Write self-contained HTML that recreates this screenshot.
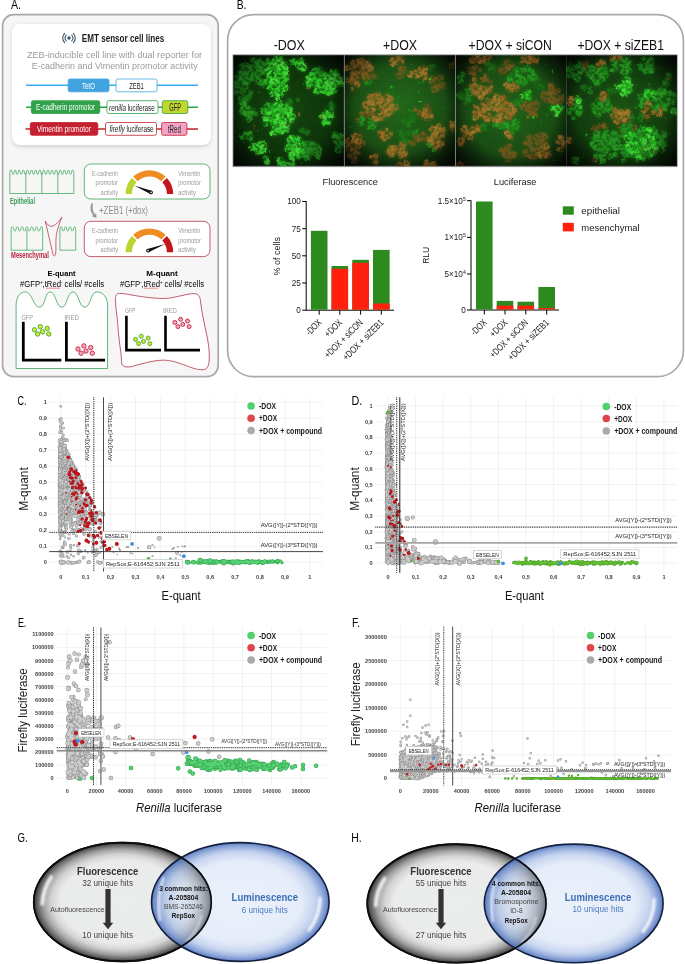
<!DOCTYPE html>
<html lang="en"><head><meta charset="utf-8"><title>EMT sensor cell lines figure</title>
<style>
html,body{margin:0;padding:0;background:#fff;}
svg{display:block;font-family:"Liberation Sans",sans-serif;}
text{white-space:pre;}
</style></head><body>
<svg width="685" height="964" viewBox="0 0 685 964">
<defs>
<filter id="sh" x="-10%" y="-10%" width="120%" height="125%"><feGaussianBlur stdDeviation="2.2"/></filter>

<clipPath id="mclip"><rect width="110.600" height="111.300"/></clipPath>
<filter id="mb" x="0" y="0" width="100%" height="100%" color-interpolation-filters="sRGB">
<feTurbulence type="fractalNoise" baseFrequency="0.3" numOctaves="2" seed="7" result="n"/>
<feDisplacementMap in="SourceGraphic" in2="n" scale="4" xChannelSelector="R" yChannelSelector="G" result="d"/>
<feGaussianBlur in="d" stdDeviation="0.45" result="b"/>
<feColorMatrix in="n" type="matrix" values="0 0 0 0 0 0 0 0 0 0 0 0 0 0 0 2.7 0 0 0 -0.62" result="m"/>
<feComposite in="b" in2="m" operator="in" result="t"/>
<feGaussianBlur in="SourceGraphic" stdDeviation="2.2" result="g0"/>
<feColorMatrix in="g0" type="matrix" values="1 0 0 0 0 0 1 0 0 0 0 0 1 0 0 0 0 0 0.3 0" result="g"/>
<feMerge><feMergeNode in="g"/><feMergeNode in="t"/></feMerge>
</filter>
<radialGradient id="mvig" cx="50%" cy="50%" r="72%"><stop offset="0.55" stop-color="#000" stop-opacity="0"/><stop offset="0.85" stop-color="#000" stop-opacity="0.45"/><stop offset="1" stop-color="#000" stop-opacity="0.8"/></radialGradient>
<radialGradient id="mbg0" cx="50%" cy="50%" r="70%"><stop offset="0" stop-color="#15450f"/><stop offset="0.6" stop-color="#0d320a"/><stop offset="1" stop-color="#051005"/></radialGradient>
<radialGradient id="mbg1" cx="50%" cy="45%" r="70%"><stop offset="0" stop-color="#23681b"/><stop offset="0.6" stop-color="#1a4e14"/><stop offset="1" stop-color="#061306"/></radialGradient>
<radialGradient id="mbg2" cx="50%" cy="50%" r="70%"><stop offset="0" stop-color="#216219"/><stop offset="0.6" stop-color="#194b13"/><stop offset="1" stop-color="#061306"/></radialGradient>
<radialGradient id="mbg3" cx="50%" cy="50%" r="70%"><stop offset="0" stop-color="#1b5414"/><stop offset="0.6" stop-color="#123c0e"/><stop offset="1" stop-color="#051005"/></radialGradient>
<filter id="vb" x="-30%" y="-30%" width="160%" height="160%"><feGaussianBlur stdDeviation="1.3"/></filter>
<radialGradient id="vg" cx="50%" cy="50%" r="50%"><stop offset="0" stop-color="#ebecec"/><stop offset="0.7" stop-color="#eaebeb"/><stop offset="0.8" stop-color="#d4d4d4"/><stop offset="0.89" stop-color="#a2a2a2"/><stop offset="0.96" stop-color="#636363"/><stop offset="1" stop-color="#303030"/></radialGradient>
<radialGradient id="vbl" cx="50%" cy="50%" r="50%"><stop offset="0" stop-color="#cddcf5" stop-opacity="0.4"/><stop offset="0.68" stop-color="#c6d6f3" stop-opacity="0.45"/><stop offset="0.84" stop-color="#a3b9e4" stop-opacity="0.62"/><stop offset="0.94" stop-color="#7090d0" stop-opacity="0.8"/><stop offset="1" stop-color="#4d6fb8" stop-opacity="0.9"/></radialGradient>
</defs>
<rect width="685" height="964" fill="#fff"/>
<g id="panelA">
<text x="11.0" y="9.3" font-size="12" textLength="10.0" lengthAdjust="spacingAndGlyphs">A.</text>
<rect x="2.6" y="14.6" width="215.6" height="362" rx="11" fill="#f6f6f6" stroke="#a9a9a9" stroke-width="1.7"/>
<rect x="12.5" y="25.5" width="198" height="121" rx="8" fill="#999" opacity="0.45" filter="url(#sh)"/>
<rect x="12" y="24" width="199" height="121" rx="8" fill="#fff"/>
<g fill="none" stroke="#3f566c" stroke-width="1.1" stroke-linecap="round"><circle cx="69" cy="38" r="1.7" fill="#3f566c" stroke="none"/><path d="M66.3 35.1A3.9 3.9 0 0 0 66.3 40.9"/><path d="M71.7 35.1A3.9 3.9 0 0 1 71.7 40.9"/><path d="M64.7 33.4A6.3 6.3 0 0 0 64.7 42.6"/><path d="M73.3 33.4A6.3 6.3 0 0 1 73.3 42.6"/></g>
<text x="81.8" y="42.2" font-size="11.4" fill="#1a1a1a" font-weight="bold" textLength="82.4" lengthAdjust="spacingAndGlyphs">EMT sensor cell lines</text>
<text x="27.0" y="57.6" font-size="8.8" fill="#9a9a9a" textLength="175.0" lengthAdjust="spacingAndGlyphs">ZEB-inducible cell line with dual reporter for</text>
<text x="31.7" y="68.8" font-size="8.8" fill="#9a9a9a" textLength="166.0" lengthAdjust="spacingAndGlyphs">E-cadherin and Vimentin promotor activity</text>
<path d="M26 85.3H198" stroke="#37aee6" stroke-width="1.5"/>
<rect x="68.2" y="79" width="40.8" height="12.8" rx="1.8" fill="#41a4e0" stroke="#41a4e0" stroke-width="0.8"/>
<rect x="116" y="79" width="41" height="12.8" rx="1.8" fill="#fff" stroke="#41a4e0" stroke-width="0.8"/>
<text x="88.6" y="88.6" font-size="8.8" text-anchor="middle" fill="#fff" textLength="13.0" lengthAdjust="spacingAndGlyphs">TetO</text>
<text x="136.5" y="88.6" font-size="8.8" text-anchor="middle" fill="#222" textLength="14.5" lengthAdjust="spacingAndGlyphs">ZEB1</text>
<path d="M26 107.2H198" stroke="#2fa24a" stroke-width="1.5"/>
<rect x="31.3" y="100.7" width="68.5" height="12.8" rx="1.8" fill="#2fa24a" stroke="#2fa24a" stroke-width="0.8"/>
<rect x="107" y="100.7" width="51" height="12.8" rx="1.8" fill="#fff" stroke="#2fa24a" stroke-width="0.8"/>
<rect x="162.3" y="100.7" width="25.5" height="12.8" rx="1.8" fill="#c3d82c" stroke="#2fa24a" stroke-width="0.8"/>
<text x="65.5" y="110.3" font-size="8.8" text-anchor="middle" fill="#fff" textLength="59.0" lengthAdjust="spacingAndGlyphs">E-cadherin promotor</text>
<text x="109.1" y="110.500" font-size="9.6" fill="#222" textLength="45.6" lengthAdjust="spacingAndGlyphs"><tspan font-style="italic">renilla</tspan> luciferase</text>
<text x="175.2" y="110.7" font-size="10.2" text-anchor="middle" fill="#222" textLength="11.8" lengthAdjust="spacingAndGlyphs">GFP</text>
<path d="M25.5 129H198" stroke="#c4202f" stroke-width="1.5"/>
<rect x="30.3" y="122.5" width="67.5" height="12.8" rx="1.8" fill="#c4202f" stroke="#c4202f" stroke-width="0.8"/>
<rect x="105.5" y="122.5" width="51" height="12.8" rx="1.8" fill="#fff" stroke="#c4202f" stroke-width="0.8"/>
<rect x="161.6" y="122.5" width="25.3" height="12.8" rx="1.8" fill="#f2a3c6" stroke="#c4202f" stroke-width="0.8"/>
<text x="64.0" y="132.1" font-size="8.8" text-anchor="middle" fill="#fff" textLength="54.0" lengthAdjust="spacingAndGlyphs">Vimentin promotor</text>
<text x="109.6" y="132.300" font-size="9.6" fill="#222" textLength="44" lengthAdjust="spacingAndGlyphs"><tspan font-style="italic">firefly</tspan> luciferase</text>
<text x="174.4" y="132.5" font-size="10.2" text-anchor="middle" fill="#222" textLength="13.0" lengthAdjust="spacingAndGlyphs">tRed</text>
<path d="M9.8 193.5V172.7Q9.8 169.9 11.0 169.9C12.0 169.9 12.0 174.5 13.1 174.5C14.1 174.5 14.1 169.9 15.1 169.9C16.1 169.9 16.1 174.5 17.2 174.5C18.2 174.5 18.2 169.9 19.2 169.9C20.2 169.9 20.2 174.5 21.3 174.5C22.3 174.5 22.3 169.9 23.3 169.9C24.3 169.9 24.3 174.5 25.4 174.5C26.4 174.5 26.4 169.9 27.4 169.9C28.5 169.9 28.5 174.5 29.5 174.5C30.5 174.5 30.5 169.9 31.5 169.9C32.6 169.9 32.6 174.5 33.6 174.5C34.6 174.5 34.6 169.9 35.6 169.9C36.7 169.9 36.7 174.5 37.7 174.5C38.7 174.5 38.7 169.9 39.7 169.9C40.8 169.9 40.8 174.5 41.8 174.5C42.8 174.5 42.8 169.9 43.9 169.9C44.9 169.9 44.9 174.5 45.9 174.5C46.9 174.5 46.9 169.9 48.0 169.9C49.0 169.9 49.0 174.5 50.0 174.5C51.0 174.5 51.0 169.9 52.1 169.9C53.1 169.9 53.1 174.5 54.1 174.5C55.1 174.5 55.1 169.9 56.2 169.9C57.2 169.9 57.2 174.5 58.2 174.5C59.3 174.5 59.3 169.9 60.3 169.9C61.3 169.9 61.3 174.5 62.3 174.5C63.4 174.5 63.4 169.9 64.4 169.9C65.4 169.9 65.4 174.5 66.4 174.5C67.5 174.5 67.5 169.9 68.5 169.9C69.5 169.9 69.5 174.5 70.5 174.5C71.6 174.5 71.6 169.9 72.6 169.9Q73.8 169.9 73.8 172.7V193.5ZM25.8 172.7V193.5M41.8 172.7V193.5M57.8 172.7V193.5" fill="none" stroke="#3aa657" stroke-width="0.75" stroke-linejoin="round"/>
<text x="9.9" y="203.8" font-size="9" fill="#3a9e58" font-weight="bold" textLength="25.2" lengthAdjust="spacingAndGlyphs">Epithelial</text>
<rect x="84.3" y="164" width="125.7" height="35" rx="6.5" fill="#fff" stroke="#3aa657" stroke-width="0.8"/>
<rect x="84.3" y="221.3" width="125.7" height="35.3" rx="6.5" fill="#fff" stroke="#b5344a" stroke-width="0.8"/>
<text x="118.0" y="175.8" font-size="7.6" text-anchor="end" fill="#9a9a9a" textLength="26.0" lengthAdjust="spacingAndGlyphs">E-cadherin</text>
<text x="178.3" y="175.8" font-size="7.6" fill="#9a9a9a" textLength="22.0" lengthAdjust="spacingAndGlyphs">Vimentin</text>
<text x="118.0" y="233.1" font-size="7.6" text-anchor="end" fill="#9a9a9a" textLength="26.0" lengthAdjust="spacingAndGlyphs">E-cadherin</text>
<text x="178.3" y="233.1" font-size="7.6" fill="#9a9a9a" textLength="22.0" lengthAdjust="spacingAndGlyphs">Vimentin</text>
<text x="118.0" y="185.2" font-size="7.6" text-anchor="end" fill="#9a9a9a" textLength="22.5" lengthAdjust="spacingAndGlyphs">promotor</text>
<text x="178.3" y="185.2" font-size="7.6" fill="#9a9a9a" textLength="22.5" lengthAdjust="spacingAndGlyphs">promotor</text>
<text x="118.0" y="242.5" font-size="7.6" text-anchor="end" fill="#9a9a9a" textLength="22.5" lengthAdjust="spacingAndGlyphs">promotor</text>
<text x="178.3" y="242.5" font-size="7.6" fill="#9a9a9a" textLength="22.5" lengthAdjust="spacingAndGlyphs">promotor</text>
<text x="118.0" y="194.6" font-size="7.6" text-anchor="end" fill="#9a9a9a" textLength="17.5" lengthAdjust="spacingAndGlyphs">activity</text>
<text x="178.3" y="194.6" font-size="7.6" fill="#9a9a9a" textLength="17.5" lengthAdjust="spacingAndGlyphs">activity</text>
<text x="118.0" y="251.9" font-size="7.6" text-anchor="end" fill="#9a9a9a" textLength="17.5" lengthAdjust="spacingAndGlyphs">activity</text>
<text x="178.3" y="251.9" font-size="7.6" fill="#9a9a9a" textLength="17.5" lengthAdjust="spacingAndGlyphs">activity</text>
<path d="M125.6 194.0A23.8 23.8 0 0 1 131.9 177.9L136.5 182.2A17.5 17.5 0 0 0 131.9 194.0Z" fill="#b9d532"/><path d="M133.2 176.6A23.8 23.8 0 0 1 165.6 176.6L161.3 181.2A17.5 17.5 0 0 0 137.5 181.2Z" fill="#ef8c22"/><path d="M166.9 177.9A23.8 23.8 0 0 1 173.2 194.0L166.9 194.0A17.5 17.5 0 0 0 162.3 182.2Z" fill="#c4161c"/><path d="M134.1 185.5L151.6 190.8L150.4 194.0Z" fill="#111"/><circle cx="151.0" cy="192.4" r="1.9" fill="#111"/><circle cx="151.0" cy="192.4" r="0.8" fill="#fff"/>
<path d="M91.3 203.500C89.800 208 90.300 212 93.200 215L91.8 216.2L96.5 218L96.2 213.200L94.8 214.2C92.800 211.500 92.300 208 93 203.500Z" fill="#9a9a9a"/>
<text x="99.0" y="214.2" font-size="10" fill="#8f8f8f" textLength="49.0" lengthAdjust="spacingAndGlyphs">+ZEB1 (+dox)</text>
<path d="M125.6 252.2A23.8 23.8 0 0 1 131.9 236.1L136.5 240.4A17.5 17.5 0 0 0 131.9 252.2Z" fill="#b9d532"/><path d="M133.2 234.8A23.8 23.8 0 0 1 165.6 234.8L161.3 239.4A17.5 17.5 0 0 0 137.5 239.4Z" fill="#ef8c22"/><path d="M166.9 236.1A23.8 23.8 0 0 1 173.2 252.2L166.9 252.2A17.5 17.5 0 0 0 162.3 240.4Z" fill="#c4161c"/><path d="M165.1 244.1L148.6 252.2L147.4 249.0Z" fill="#111"/><circle cx="148.0" cy="250.6" r="1.9" fill="#111"/><circle cx="148.0" cy="250.6" r="0.8" fill="#fff"/>
<path d="M11.1 250.2V229.4Q11.1 226.6 12.5 226.6C13.7 226.6 13.7 231.2 14.9 231.2C16.1 231.2 16.1 226.6 17.3 226.6C18.5 226.6 18.5 231.2 19.7 231.2C20.9 231.2 20.9 226.6 22.1 226.6C23.3 226.6 23.3 231.2 24.5 231.2C25.7 231.2 25.7 226.6 26.9 226.6C28.1 226.6 28.1 231.2 29.3 231.2C30.5 231.2 30.5 226.6 31.7 226.6C32.9 226.6 32.9 231.2 34.1 231.2C35.3 231.2 35.3 226.6 36.5 226.6C37.7 226.6 37.7 231.2 38.9 231.2C40.1 231.2 40.1 226.6 41.3 226.6Q42.7 226.6 42.7 229.4V250.2ZM26.9 229.4V250.2" fill="none" stroke="#3aa657" stroke-width="0.75" stroke-linejoin="round"/>
<path d="M59.9 250.2V229.4Q59.9 226.6 61.1 226.6C62.2 226.6 62.2 231.2 63.3 231.2C64.4 231.2 64.4 226.6 65.6 226.6C66.7 226.6 66.7 231.2 67.8 231.2C68.9 231.2 68.9 226.6 70.0 226.6C71.2 226.6 71.2 231.2 72.3 231.2C73.4 231.2 73.4 226.6 74.5 226.6Q75.7 226.6 75.7 229.4V250.2Z" fill="none" stroke="#3aa657" stroke-width="0.75" stroke-linejoin="round"/>
<path d="M45.3 221C46.5 224 49 226.5 51.7 226.3C55 226 59 221.500 61.9 217.2C59.5 223 57.500 228.500 56.4 234.7C55.300 242 56.500 249 55.5 254.6C55 256.200 53.500 256.200 53 254.500C50.500 243.500 47.800 232.500 45.3 221Z" fill="none" stroke="#b5344a" stroke-width="0.75" stroke-linejoin="round"/>
<text x="11.1" y="258.1" font-size="9" fill="#b5233a" font-weight="bold" textLength="37.7" lengthAdjust="spacingAndGlyphs">Mesenchymal</text>
<text x="61.5" y="275.6" font-size="7.6" text-anchor="middle" font-weight="bold" textLength="28.0" lengthAdjust="spacingAndGlyphs">E-quant</text>
<text x="20" y="287" font-size="8.3" textLength="84" lengthAdjust="spacingAndGlyphs">#GFP<tspan font-size="4.5" dy="-2.8">+</tspan><tspan dy="2.8">,tRed</tspan><tspan font-size="4.5" dy="-2.8">-</tspan><tspan dy="2.8"> cells/ #cells</tspan></text>
<path d="M46 288.6l1 -.8l1 .8l1 -.8l1 .8l1 -.8l1 .8l1 -.8l1 .8l1 -.8l1 .8l1 -.8l1 .8l1 -.8l1 .8" fill="none" stroke="#e02020" stroke-width="0.5"/>
<text x="162.0" y="275.6" font-size="7.6" text-anchor="middle" font-weight="bold" textLength="31.5" lengthAdjust="spacingAndGlyphs">M-quant</text>
<text x="120" y="287" font-size="8.3" textLength="84" lengthAdjust="spacingAndGlyphs">#GFP<tspan font-size="4.5" dy="-2.8">-</tspan><tspan dy="2.8">,tRed</tspan><tspan font-size="4.5" dy="-2.8">+</tspan><tspan dy="2.8"> cells/ #cells</tspan></text>
<path d="M144 288.6l1 -.8l1 .8l1 -.8l1 .8l1 -.8l1 .8l1 -.8l1 .8l1 -.8l1 .8l1 -.8l1 .8l1 -.8l1 .8" fill="none" stroke="#e02020" stroke-width="0.5"/>
<path d="M16.1 368.5V305.5C16.1 298 19.5 291.9 25.3 291.9C32.6 291.9 32.6 307.2 39.9 307.2C45.0 307.2 45.0 291.9 50.2 291.9C56.0 291.9 56.0 307.2 61.8 307.2C67.3 307.2 67.3 291.9 72.8 291.9C78.8 291.9 78.8 307.2 84.8 307.2C90.7 307.2 90.7 291.9 96.6 291.9C103.500 291.9 107.6 298 107.6 305.5V368.5Z" fill="#fff" stroke="#3aa657" stroke-width="0.8"/>
<path d="M23.3 321.8V360.1H61.3M66.4 321.8V360.1H105" fill="none" stroke="#000" stroke-width="2.8"/>
<text x="21.5" y="319.5" font-size="7.4" fill="#9a9a9a" textLength="11.5" lengthAdjust="spacingAndGlyphs">GFP</text>
<text x="64.4" y="319.5" font-size="7.4" fill="#9a9a9a" textLength="14.6" lengthAdjust="spacingAndGlyphs">tRED</text>
<g fill="#cfe83c" stroke="#45a82e" stroke-width="0.9"><circle cx="34.5" cy="329.8" r="2.2"/><circle cx="40.3" cy="326.7" r="2.2"/><circle cx="47.2" cy="328.4" r="2.2"/><circle cx="37.6" cy="334.0" r="2.2"/><circle cx="42.5" cy="331.8" r="2.2"/><circle cx="48.8" cy="334.0" r="2.2"/></g>
<g fill="#f4a6c0" stroke="#c8203c" stroke-width="0.9"><circle cx="78.0" cy="349.0" r="2.2"/><circle cx="83.8" cy="345.9" r="2.2"/><circle cx="90.7" cy="347.6" r="2.2"/><circle cx="81.1" cy="353.2" r="2.2"/><circle cx="86.0" cy="351.0" r="2.2"/><circle cx="92.3" cy="353.2" r="2.2"/></g>
<path d="M115.4 300C115.2 296 116.500 293.4 119.2 293.4C126 293.4 133 295.5 140.7 296.5C148 297.500 156 298.5 163.6 298.5C171.500 298.5 179 296 186.6 294.5C190 293.800 193 293.500 195 293.7C198.500 294 200 296.500 200.4 300.3C201.500 312 204.500 324 206.9 335.6C208.300 343 209.5 350 209.3 357C209.200 361 209 364 208 366.2C207 368.700 205 369.800 202 369.8C196 369.8 190 367 183.6 364.7C177 362.300 170.500 360.1 163.6 360.1C156 360.1 148 362.200 140.7 364C136 365.200 131.500 367.200 126.9 367C123.500 366.800 121.500 365 121.5 361.6C121.500 356.500 120.800 351.500 120 346.3C118.800 338.500 118.200 331 117.7 323.3C117.200 316.500 115.600 308 115.4 300Z" fill="#fff" stroke="#b5344a" stroke-width="0.8"/>
<path d="M126.4 315.7V350.1H161M165.5 315.7V350.1H200" fill="none" stroke="#000" stroke-width="2.6"/>
<text x="125.0" y="313.4" font-size="6.8" fill="#9a9a9a" textLength="10.3" lengthAdjust="spacingAndGlyphs">GFP</text>
<text x="163.3" y="313.4" font-size="6.8" fill="#9a9a9a" textLength="13.4" lengthAdjust="spacingAndGlyphs">tRED</text>
<g fill="#cfe83c" stroke="#45a82e" stroke-width="0.9"><circle cx="135.5" cy="339.4" r="2.0"/><circle cx="141.3" cy="336.3" r="2.0"/><circle cx="148.2" cy="338.0" r="2.0"/><circle cx="138.6" cy="343.6" r="2.0"/><circle cx="143.5" cy="341.4" r="2.0"/><circle cx="149.8" cy="343.6" r="2.0"/></g>
<g fill="#f4a6c0" stroke="#c8203c" stroke-width="0.9"><circle cx="174.8" cy="322.4" r="2.0"/><circle cx="180.6" cy="319.3" r="2.0"/><circle cx="187.5" cy="321.0" r="2.0"/><circle cx="177.9" cy="326.6" r="2.0"/><circle cx="182.8" cy="324.4" r="2.0"/><circle cx="189.1" cy="326.6" r="2.0"/></g>
</g>
<g id="panelB">
<text x="236.7" y="9.3" font-size="12" textLength="9.8" lengthAdjust="spacingAndGlyphs">B.</text>
<rect x="227.6" y="14.6" width="455.800" height="362" rx="26" fill="#fff" stroke="#a9a9a9" stroke-width="1.7"/>
<text x="289.3" y="49.8" font-size="14.6" text-anchor="middle" fill="#111" textLength="31.2" lengthAdjust="spacingAndGlyphs">-DOX</text>
<text x="400.0" y="49.8" font-size="14.6" text-anchor="middle" fill="#111" textLength="34.0" lengthAdjust="spacingAndGlyphs">+DOX</text>
<text x="510.2" y="49.8" font-size="14.6" text-anchor="middle" fill="#111" textLength="83.4" lengthAdjust="spacingAndGlyphs">+DOX + siCON</text>
<text x="620.7" y="49.8" font-size="14.6" text-anchor="middle" fill="#111" textLength="86.6" lengthAdjust="spacingAndGlyphs">+DOX + siZEB1</text>
<rect x="232.6" y="54.4" width="445" height="112.7" fill="#8a8a8a"/>
<g transform="translate(233.3 55.2)" clip-path="url(#mclip)"><rect width="110.6" height="110.6" fill="url(#mbg0)"/><g filter="url(#mb)" opacity="0.84"><g fill="#187016"><circle cx="16.9" cy="40.1" r="2.5"/><circle cx="14.7" cy="44.4" r="2.5"/><circle cx="56.4" cy="45.2" r="2.8"/><circle cx="99.6" cy="52.9" r="2.6"/><circle cx="10.3" cy="23" r="2.5"/><circle cx="7.9" cy="35.1" r="3.5"/><circle cx="97.8" cy="49.6" r="3.2"/><circle cx="56.1" cy="48.1" r="3.4"/><circle cx="8.2" cy="46.7" r="3"/><circle cx="9.2" cy="35.9" r="3.1"/></g><g fill="#1c7a19"><circle cx="67.1" cy="75.7" r="2.1"/><circle cx="64.5" cy="44.7" r="2"/><circle cx="8.8" cy="27.4" r="2.4"/><circle cx="10.8" cy="34.2" r="2.7"/><circle cx="7.2" cy="28.9" r="3"/><circle cx="10.6" cy="30.4" r="1.9"/><circle cx="8.7" cy="42.6" r="3.3"/><circle cx="6.7" cy="31.5" r="3.3"/><circle cx="8.2" cy="42.8" r="2.1"/><circle cx="1.6" cy="33.1" r="2.8"/><circle cx="70.2" cy="74.9" r="3.1"/></g><g fill="#20841d"><circle cx="98.7" cy="53.6" r="2.9"/><circle cx="12.3" cy="27.9" r="2.9"/><circle cx="12.2" cy="44.1" r="2.5"/><circle cx="3.6" cy="32" r="2.5"/><circle cx="3.8" cy="27.5" r="3.3"/><circle cx="16.1" cy="40.4" r="3.1"/><circle cx="17.5" cy="37.6" r="2.5"/><circle cx="2.5" cy="37.1" r="2.5"/><circle cx="13.2" cy="31.8" r="2.2"/><circle cx="55.9" cy="47" r="3.4"/><circle cx="5.2" cy="30.5" r="2.2"/><circle cx="73.9" cy="77.1" r="3.1"/></g><g fill="#1e8c1b"><circle cx="8.8" cy="58.2" r="2.2"/><circle cx="105.1" cy="89.9" r="3"/><circle cx="73" cy="89.4" r="3"/><circle cx="85.6" cy="15" r="3.3"/><circle cx="109.5" cy="88.5" r="3.2"/><circle cx="9" cy="55.8" r="3"/><circle cx="71.3" cy="93.1" r="3.4"/><circle cx="74" cy="88.6" r="3.4"/><circle cx="82.2" cy="24.9" r="2.2"/><circle cx="36.1" cy="57" r="3.4"/><circle cx="28.5" cy="17.4" r="2.7"/><circle cx="39.9" cy="63.6" r="3.4"/><circle cx="17.9" cy="10.6" r="2.3"/><circle cx="35.4" cy="56.1" r="2.1"/><circle cx="24.1" cy="23.1" r="3.1"/><circle cx="23.4" cy="19.4" r="2.1"/><circle cx="73.1" cy="102.6" r="2.9"/><circle cx="11.1" cy="8.8" r="2.6"/><circle cx="89.2" cy="21.7" r="2.6"/><circle cx="86" cy="98.7" r="2.3"/><circle cx="88.1" cy="15.8" r="2.8"/><circle cx="26.3" cy="12.5" r="3"/><circle cx="25.2" cy="24" r="2.8"/><circle cx="27.4" cy="8.5" r="3.4"/><circle cx="106.7" cy="93.3" r="2"/><circle cx="102.1" cy="82.3" r="3.2"/><circle cx="77.9" cy="98.3" r="2.7"/><circle cx="83.6" cy="91" r="2.8"/><circle cx="41.9" cy="60.3" r="2.1"/><circle cx="13.5" cy="17.2" r="2.1"/><circle cx="16.3" cy="57.9" r="3.4"/><circle cx="31.9" cy="15.3" r="3.3"/><circle cx="73.8" cy="101" r="3.1"/><circle cx="87" cy="20.3" r="3.1"/><circle cx="70.6" cy="97.6" r="3.2"/><circle cx="10.1" cy="53.2" r="3.2"/><circle cx="16.5" cy="22.7" r="2.8"/><circle cx="9.9" cy="56" r="2.8"/></g><g fill="#229a1e"><circle cx="34.5" cy="14.2" r="2.3"/><circle cx="81.2" cy="96.8" r="2.8"/><circle cx="9.6" cy="81.8" r="2.9"/><circle cx="13.2" cy="21" r="3.1"/><circle cx="107.3" cy="85.6" r="3.5"/><circle cx="87.6" cy="27" r="2.6"/><circle cx="32.8" cy="51" r="2.4"/><circle cx="11.7" cy="58.2" r="2.2"/><circle cx="22.1" cy="58.9" r="2.3"/><circle cx="103.7" cy="92.8" r="2.4"/><circle cx="37.8" cy="54.2" r="2.2"/><circle cx="8.5" cy="56.4" r="2.6"/><circle cx="16.7" cy="82.7" r="3.3"/><circle cx="84.7" cy="25.8" r="2"/><circle cx="14" cy="22.3" r="3.1"/><circle cx="23.4" cy="13" r="2.9"/><circle cx="11.5" cy="21.2" r="2.1"/><circle cx="32.8" cy="13.9" r="2.9"/><circle cx="15.6" cy="78.3" r="2.2"/><circle cx="11.5" cy="22.5" r="3"/><circle cx="15.3" cy="61.8" r="3"/><circle cx="27.5" cy="15.1" r="3.2"/><circle cx="25.2" cy="14.5" r="2.4"/><circle cx="86.1" cy="14.7" r="2.6"/><circle cx="79.9" cy="95.2" r="3.5"/><circle cx="23.3" cy="9.6" r="3.2"/><circle cx="15.8" cy="83.2" r="2.1"/><circle cx="27.2" cy="8.9" r="2.5"/><circle cx="8.8" cy="52.3" r="2.2"/><circle cx="19.5" cy="4.4" r="2.7"/><circle cx="8.5" cy="10.7" r="3"/><circle cx="10.8" cy="26.8" r="2.7"/><circle cx="13.6" cy="80.2" r="2"/><circle cx="37.9" cy="55.7" r="3.1"/><circle cx="19.8" cy="22.3" r="2.7"/><circle cx="28.2" cy="9.6" r="2.3"/><circle cx="11.9" cy="51.4" r="2.6"/><circle cx="29.5" cy="54.8" r="2.2"/><circle cx="30" cy="11.2" r="2.5"/><circle cx="13.7" cy="26.7" r="3.4"/></g><g fill="#26a022"><circle cx="6.6" cy="22.5" r="3.4"/><circle cx="25.9" cy="5.9" r="3"/><circle cx="84.4" cy="22" r="2.2"/><circle cx="110.2" cy="88.3" r="2.8"/><circle cx="11.1" cy="15.7" r="3.1"/><circle cx="26.7" cy="17.2" r="2.2"/><circle cx="36.6" cy="63.8" r="3.5"/><circle cx="11.4" cy="15.1" r="2.2"/><circle cx="33.9" cy="60.2" r="3.2"/><circle cx="101.2" cy="82.4" r="2.3"/><circle cx="34.3" cy="6.9" r="3.5"/><circle cx="105.3" cy="95.2" r="3.3"/><circle cx="10.6" cy="56.6" r="3.4"/><circle cx="73.3" cy="95.4" r="3.2"/><circle cx="84.5" cy="97.3" r="3.4"/><circle cx="16" cy="56.1" r="2.7"/><circle cx="9" cy="15.8" r="3.1"/><circle cx="78.8" cy="88.7" r="2.6"/><circle cx="41.2" cy="62.9" r="2.9"/><circle cx="30.9" cy="26" r="2.5"/><circle cx="103.3" cy="85.6" r="3.2"/><circle cx="38" cy="50.9" r="2.6"/><circle cx="104.6" cy="92.6" r="2.7"/><circle cx="17.1" cy="77.8" r="2.3"/><circle cx="77.8" cy="94.3" r="3.5"/><circle cx="22.1" cy="16.3" r="2.4"/><circle cx="18.3" cy="15.9" r="2.3"/><circle cx="33.2" cy="13.6" r="1.9"/><circle cx="12.8" cy="78.6" r="2.2"/><circle cx="15.4" cy="15.2" r="2.3"/><circle cx="12.2" cy="18.3" r="3.1"/><circle cx="18.2" cy="23" r="2.9"/><circle cx="80.7" cy="23" r="3.3"/><circle cx="73.4" cy="99.6" r="2.1"/><circle cx="86.8" cy="20" r="2.9"/><circle cx="18.9" cy="58.3" r="2.3"/><circle cx="21.7" cy="20" r="3.3"/><circle cx="80.7" cy="95.4" r="3.2"/><circle cx="35" cy="53.7" r="2.5"/></g><g fill="#2aa826"><circle cx="83.2" cy="18.5" r="2.6"/><circle cx="85" cy="101.5" r="2.6"/><circle cx="11.1" cy="21.9" r="3.3"/><circle cx="12.4" cy="26.6" r="3.4"/><circle cx="9.6" cy="50.3" r="3.1"/><circle cx="35" cy="50.5" r="3.5"/><circle cx="102.1" cy="79.8" r="3.3"/><circle cx="108.1" cy="80.4" r="2.9"/><circle cx="33.8" cy="61.3" r="2.1"/><circle cx="10.7" cy="19.3" r="2.2"/><circle cx="9.2" cy="15.8" r="2"/><circle cx="10.9" cy="24.8" r="2.9"/><circle cx="6.5" cy="17.1" r="2.1"/><circle cx="16.4" cy="11.7" r="3.1"/><circle cx="28.9" cy="27.8" r="3.3"/><circle cx="83.6" cy="26.2" r="2.5"/><circle cx="16.6" cy="64" r="2.7"/><circle cx="18.9" cy="56.7" r="3.4"/><circle cx="29.4" cy="14" r="3.4"/><circle cx="83.7" cy="100.7" r="2.7"/><circle cx="26.4" cy="26.9" r="3.3"/><circle cx="10" cy="50.5" r="3.1"/><circle cx="71.2" cy="88.3" r="2.7"/><circle cx="74.2" cy="103" r="3"/><circle cx="13.4" cy="24.6" r="2.3"/><circle cx="82.1" cy="15" r="3.1"/><circle cx="86.2" cy="93.8" r="2.5"/><circle cx="82.4" cy="17.8" r="2.7"/><circle cx="4.7" cy="21.6" r="2.3"/><circle cx="14.1" cy="59" r="3.3"/><circle cx="23.9" cy="7.1" r="3.3"/><circle cx="10.8" cy="48.3" r="2.9"/><circle cx="32" cy="13.4" r="2.6"/><circle cx="15.4" cy="53.8" r="2.8"/><circle cx="30.6" cy="9.6" r="2.8"/><circle cx="70" cy="99.7" r="2.9"/><circle cx="106.4" cy="81.3" r="2.7"/></g><g fill="#24bc1f"><circle cx="50.7" cy="18.4" r="2.4"/><circle cx="41.7" cy="25" r="3.1"/><circle cx="23.2" cy="96.8" r="2.7"/><circle cx="35.4" cy="59" r="2.4"/><circle cx="27.4" cy="91.7" r="2.9"/><circle cx="46.9" cy="21.4" r="2.4"/><circle cx="66.4" cy="11.8" r="3.3"/><circle cx="45.6" cy="54.8" r="2.6"/><circle cx="58.2" cy="93.3" r="2.1"/><circle cx="41.6" cy="2.8" r="2"/><circle cx="46.3" cy="3.9" r="3.2"/><circle cx="50.4" cy="26" r="3.2"/><circle cx="95.7" cy="32.5" r="3.4"/><circle cx="87" cy="31.8" r="3.1"/><circle cx="44.2" cy="4.3" r="2.7"/><circle cx="92.6" cy="57.7" r="2.7"/><circle cx="32.5" cy="103.5" r="3.3"/><circle cx="43.5" cy="10.2" r="2.9"/><circle cx="34.8" cy="28.2" r="3.1"/><circle cx="102.1" cy="36" r="2"/><circle cx="80.2" cy="28.3" r="3.1"/><circle cx="103.7" cy="19.5" r="2.6"/><circle cx="48.7" cy="16" r="2.7"/><circle cx="68.1" cy="88.3" r="2.9"/><circle cx="100.4" cy="27.2" r="2.2"/><circle cx="90.4" cy="30.1" r="2.4"/><circle cx="50.7" cy="32.5" r="2.3"/><circle cx="49.4" cy="106.4" r="3.2"/><circle cx="64.2" cy="97.6" r="1.9"/><circle cx="48.7" cy="15.2" r="2.2"/><circle cx="32.5" cy="69" r="2.6"/><circle cx="77.9" cy="26.1" r="2.9"/><circle cx="59.5" cy="6.5" r="3.2"/><circle cx="36.1" cy="14.2" r="3.3"/><circle cx="48.6" cy="73.9" r="2.1"/><circle cx="32.6" cy="64.3" r="3.1"/><circle cx="50.5" cy="13" r="2.6"/><circle cx="38.6" cy="52" r="3.1"/><circle cx="41" cy="13.1" r="2.6"/><circle cx="94.5" cy="22.1" r="3"/><circle cx="48.4" cy="6.8" r="3.2"/><circle cx="65" cy="91.6" r="2.2"/><circle cx="67.9" cy="4.8" r="2.4"/><circle cx="47.7" cy="63.9" r="3.4"/><circle cx="50.6" cy="65.5" r="3.1"/><circle cx="64.8" cy="7.3" r="3.5"/><circle cx="101.9" cy="18.2" r="3.3"/><circle cx="20" cy="90.9" r="2.2"/><circle cx="46" cy="69.2" r="3.5"/><circle cx="31.3" cy="64.8" r="2.2"/><circle cx="85.8" cy="22.1" r="3.5"/><circle cx="94.7" cy="66.4" r="2.1"/><circle cx="45.5" cy="30.8" r="2.4"/><circle cx="96.7" cy="23.4" r="2.3"/><circle cx="44.6" cy="15.6" r="3"/><circle cx="38.7" cy="68.4" r="2.1"/><circle cx="41.4" cy="33" r="2.7"/><circle cx="52.2" cy="18.6" r="2.8"/><circle cx="98.8" cy="34.1" r="2.2"/><circle cx="102.5" cy="29.7" r="2.8"/></g><g fill="#2acf24"><circle cx="52.9" cy="72" r="3.2"/><circle cx="63.4" cy="93.4" r="2.5"/><circle cx="40.6" cy="7.4" r="3.1"/><circle cx="58.1" cy="101.2" r="3"/><circle cx="38.9" cy="50.5" r="2"/><circle cx="38.7" cy="60.6" r="2.1"/><circle cx="46.3" cy="35.2" r="3.2"/><circle cx="89.2" cy="61.8" r="3.1"/><circle cx="99.6" cy="28.8" r="2.9"/><circle cx="35.8" cy="21.6" r="2.9"/><circle cx="36.8" cy="58.6" r="3.1"/><circle cx="44.1" cy="17.8" r="3.5"/><circle cx="44.5" cy="34.6" r="2.1"/><circle cx="41.9" cy="22.3" r="2.3"/><circle cx="95.4" cy="26.1" r="2.3"/><circle cx="39.4" cy="50.8" r="3.2"/><circle cx="49" cy="63.1" r="3.1"/><circle cx="50.1" cy="109.7" r="2.1"/><circle cx="46.5" cy="5.8" r="2.8"/><circle cx="46.9" cy="52.1" r="2.5"/><circle cx="49.3" cy="31.8" r="2.7"/><circle cx="40.8" cy="33" r="2.9"/><circle cx="43.1" cy="56.3" r="3"/><circle cx="52.7" cy="70.4" r="3.1"/><circle cx="90.9" cy="19.1" r="2.5"/><circle cx="46.8" cy="106.3" r="3"/><circle cx="27" cy="87.4" r="2.2"/><circle cx="36.8" cy="32.4" r="2.8"/><circle cx="64.5" cy="8.3" r="2.5"/><circle cx="39.4" cy="58.6" r="2.4"/><circle cx="31.7" cy="56.1" r="2.9"/><circle cx="53.6" cy="93.9" r="2.5"/><circle cx="42.8" cy="72.3" r="2.2"/><circle cx="43.8" cy="30.6" r="3.3"/><circle cx="88.4" cy="61.6" r="2.4"/><circle cx="41.3" cy="8.3" r="2.1"/><circle cx="39.9" cy="56" r="3.3"/><circle cx="43.9" cy="19" r="2.5"/><circle cx="98.4" cy="17.5" r="2.5"/><circle cx="82" cy="23.5" r="2.4"/></g><g fill="#34e42c"><circle cx="90.4" cy="67.7" r="2.5"/><circle cx="56.4" cy="84.4" r="3.2"/><circle cx="48" cy="77.6" r="2.4"/><circle cx="68.3" cy="5.2" r="2"/><circle cx="50.5" cy="65.4" r="3"/><circle cx="78.3" cy="20" r="3.1"/><circle cx="34.8" cy="25.1" r="2.3"/><circle cx="48.7" cy="107.1" r="3.3"/><circle cx="47.3" cy="61.1" r="3.3"/><circle cx="66.2" cy="98" r="3"/><circle cx="75.3" cy="30.6" r="2.7"/><circle cx="67.7" cy="9.1" r="2.4"/><circle cx="42.9" cy="53.8" r="2.6"/><circle cx="63.4" cy="5.8" r="2.4"/><circle cx="91.6" cy="66.1" r="2.5"/><circle cx="63.7" cy="94" r="3"/><circle cx="44.4" cy="57.7" r="3"/><circle cx="109.1" cy="28.8" r="2.4"/><circle cx="48.8" cy="56.2" r="3.5"/><circle cx="52.9" cy="23.4" r="3.1"/><circle cx="37.5" cy="61" r="2.3"/><circle cx="36.3" cy="24.8" r="3.1"/><circle cx="55.3" cy="90.2" r="2.5"/><circle cx="46.6" cy="19.8" r="2.3"/><circle cx="44.7" cy="31.6" r="2.9"/><circle cx="24.8" cy="96.7" r="2.9"/><circle cx="96.9" cy="22.2" r="3.5"/><circle cx="56.6" cy="58.6" r="3.1"/><circle cx="23.6" cy="92" r="2"/><circle cx="51.1" cy="55.5" r="3.3"/><circle cx="45" cy="7" r="2.9"/><circle cx="90.5" cy="35.2" r="3.4"/><circle cx="86.2" cy="26" r="3.3"/><circle cx="46.2" cy="71.5" r="3.1"/><circle cx="43.9" cy="27.2" r="2.4"/><circle cx="37.2" cy="31.7" r="3.3"/><circle cx="94" cy="56.9" r="2.2"/><circle cx="42.3" cy="63.9" r="3"/><circle cx="40.3" cy="10.1" r="2.3"/><circle cx="41.4" cy="74.4" r="3.3"/><circle cx="47.6" cy="20" r="3.4"/><circle cx="51.1" cy="9" r="3"/><circle cx="99.2" cy="30.6" r="2.7"/><circle cx="68.3" cy="97" r="3.4"/><circle cx="101.3" cy="29.1" r="2.5"/><circle cx="50.7" cy="19.7" r="2.5"/><circle cx="94.6" cy="32.3" r="1.9"/><circle cx="37" cy="56" r="2.7"/><circle cx="52.1" cy="56.1" r="3"/><circle cx="93.8" cy="26.2" r="3.3"/><circle cx="48.2" cy="36.4" r="2"/><circle cx="104.2" cy="27.3" r="3.1"/><circle cx="37.1" cy="9.7" r="2.6"/><circle cx="59.8" cy="61.6" r="2.6"/><circle cx="50.4" cy="53" r="2.1"/><circle cx="93" cy="31.1" r="2.9"/><circle cx="45.4" cy="76.4" r="2"/><circle cx="58.3" cy="83.1" r="3.2"/><circle cx="65.1" cy="101.9" r="2.3"/><circle cx="46.6" cy="105.2" r="3.3"/><circle cx="95.1" cy="37.3" r="3.4"/><circle cx="58.7" cy="92" r="3.2"/><circle cx="56" cy="110.1" r="2.8"/><circle cx="52.8" cy="16.3" r="2.8"/><circle cx="37.5" cy="65.6" r="2.1"/><circle cx="57" cy="67.1" r="2"/><circle cx="53.3" cy="74.1" r="2.8"/><circle cx="61.3" cy="84.3" r="2.8"/><circle cx="28.6" cy="94.1" r="2.2"/><circle cx="38.6" cy="38.6" r="2.3"/><circle cx="44.8" cy="21.8" r="2.5"/></g><g fill="#3cee33"><circle cx="49.2" cy="51" r="2.8"/><circle cx="52.2" cy="52.4" r="3"/><circle cx="94.5" cy="22.8" r="2"/><circle cx="83.6" cy="36.1" r="3.3"/><circle cx="50.5" cy="71.8" r="3.2"/><circle cx="44.3" cy="7.7" r="3.4"/><circle cx="51.8" cy="32.8" r="3.5"/><circle cx="61.6" cy="87.1" r="2.6"/><circle cx="42.9" cy="32.3" r="1.9"/><circle cx="53.8" cy="109.8" r="2.9"/><circle cx="52.4" cy="69.7" r="3.2"/><circle cx="43.9" cy="21.4" r="3.2"/><circle cx="97.7" cy="60.2" r="3.3"/><circle cx="50.8" cy="14.7" r="1.9"/><circle cx="47.9" cy="108.6" r="3.4"/><circle cx="48.5" cy="50.8" r="2.3"/><circle cx="61.2" cy="5.7" r="2.6"/><circle cx="39.3" cy="22.8" r="2.2"/><circle cx="29.8" cy="88.4" r="3.1"/><circle cx="76.1" cy="23.3" r="3.5"/><circle cx="65.6" cy="83.5" r="2.6"/><circle cx="84.5" cy="32" r="3.3"/><circle cx="51" cy="25.5" r="1.9"/><circle cx="34.6" cy="106" r="2.5"/><circle cx="50.1" cy="19.4" r="2.3"/><circle cx="45.5" cy="56" r="2.8"/><circle cx="90.6" cy="59.4" r="2.6"/><circle cx="100.1" cy="34.8" r="2.4"/><circle cx="50.4" cy="67.7" r="2.9"/><circle cx="104.3" cy="19.3" r="2.1"/><circle cx="47.8" cy="37.6" r="3"/><circle cx="106.5" cy="24.8" r="3.3"/><circle cx="52.4" cy="69.8" r="2.9"/><circle cx="45.1" cy="49.4" r="3.4"/><circle cx="98.4" cy="36.4" r="3.1"/><circle cx="75.7" cy="24.8" r="3.3"/><circle cx="84.2" cy="35.9" r="2.4"/><circle cx="95.3" cy="67.9" r="2.4"/><circle cx="35.8" cy="15.7" r="3.1"/><circle cx="99.5" cy="25.9" r="3.3"/><circle cx="56.9" cy="54.1" r="2.8"/><circle cx="44" cy="66.7" r="2.9"/><circle cx="50.9" cy="65.5" r="2.7"/><circle cx="57.1" cy="57.4" r="2.5"/><circle cx="60.6" cy="98.3" r="2.9"/><circle cx="99.4" cy="25.2" r="3.1"/><circle cx="77.6" cy="26.9" r="2.6"/><circle cx="39.3" cy="9.9" r="3.4"/><circle cx="99.6" cy="24.6" r="2.8"/></g><g fill="#4cfa40"><circle cx="53" cy="20.7" r="2.4"/><circle cx="31.5" cy="58" r="2.3"/><circle cx="99.8" cy="30.4" r="3.4"/><circle cx="42.1" cy="3.8" r="2.3"/><circle cx="99.1" cy="26.7" r="3.1"/><circle cx="32.7" cy="63.5" r="3"/><circle cx="53.6" cy="18.1" r="2"/><circle cx="70.1" cy="12.8" r="3.4"/><circle cx="43.6" cy="26.5" r="2.8"/><circle cx="63.1" cy="93.2" r="2.6"/><circle cx="46.8" cy="48.5" r="2.4"/><circle cx="25.7" cy="92" r="2.5"/><circle cx="58.4" cy="63.1" r="3.1"/><circle cx="19" cy="92.2" r="3.5"/><circle cx="74.7" cy="24.3" r="2.8"/><circle cx="44.9" cy="61.2" r="3.2"/><circle cx="47.1" cy="73.5" r="2.8"/><circle cx="30.3" cy="90.5" r="3.3"/><circle cx="67.3" cy="10.1" r="2.2"/><circle cx="33.9" cy="106.8" r="2.9"/><circle cx="47.8" cy="9.1" r="3"/><circle cx="69.4" cy="8.9" r="2.7"/><circle cx="58" cy="99.5" r="3.1"/><circle cx="51.6" cy="69.3" r="3.3"/><circle cx="50.4" cy="70.8" r="3.4"/><circle cx="51.9" cy="72.3" r="3.4"/><circle cx="36.8" cy="57.7" r="2.3"/><circle cx="42.7" cy="10.2" r="2.3"/><circle cx="53.7" cy="69.2" r="3"/><circle cx="47.9" cy="11" r="3.4"/><circle cx="40.4" cy="77.5" r="3.5"/><circle cx="100.1" cy="21.3" r="3.3"/><circle cx="91.8" cy="63.9" r="2.3"/><circle cx="44" cy="41.5" r="3.2"/><circle cx="39.8" cy="26.5" r="2.2"/><circle cx="62.9" cy="96.4" r="2.7"/><circle cx="20.4" cy="91.8" r="2"/><circle cx="52.3" cy="13.3" r="3.1"/><circle cx="31.2" cy="94.8" r="2.4"/><circle cx="95.7" cy="27.4" r="3"/><circle cx="49.4" cy="75" r="3"/><circle cx="59.4" cy="104.9" r="2.3"/><circle cx="42" cy="38.4" r="2.5"/><circle cx="53.1" cy="51.8" r="2.4"/><circle cx="94.3" cy="61.5" r="2"/><circle cx="22.2" cy="91.2" r="3.3"/><circle cx="21.4" cy="90" r="2"/><circle cx="105.4" cy="26" r="2.9"/><circle cx="54.8" cy="60.7" r="2.3"/><circle cx="47.6" cy="8.1" r="3"/><circle cx="64.8" cy="91.8" r="3.1"/><circle cx="36.3" cy="16.7" r="2.4"/><circle cx="56.6" cy="83.1" r="2.9"/><circle cx="94.6" cy="24.1" r="3.3"/><circle cx="61" cy="95.8" r="3.5"/><circle cx="28.2" cy="96.4" r="2.7"/><circle cx="59.8" cy="108.9" r="2.1"/><circle cx="44.5" cy="64.1" r="3.3"/><circle cx="95.4" cy="32.1" r="3.3"/></g><circle cx="66" cy="59" r="1.2" fill="#b8742a"/><circle cx="89" cy="62" r="1.2" fill="#b8742a"/><circle cx="32" cy="90" r="1.2" fill="#80541e"/><circle cx="21" cy="72" r="1.2" fill="#80541e"/><circle cx="53" cy="69" r="1.2" fill="#80541e"/><circle cx="10" cy="40" r="1.2" fill="#80541e"/><circle cx="76" cy="33" r="1.2" fill="#80541e"/><circle cx="24.5" cy="75.7" r="0.7" fill="#26a022"/><circle cx="69.2" cy="107.7" r="0.7" fill="#2aa826"/><circle cx="48" cy="27.6" r="0.7" fill="#2aa826"/><circle cx="40.4" cy="38" r="0.7" fill="#2aa826"/><circle cx="47.5" cy="48.5" r="0.7" fill="#26a022"/><circle cx="35.9" cy="66.2" r="0.7" fill="#2aa826"/><circle cx="101.4" cy="35.2" r="0.7" fill="#229a1e"/><circle cx="25.7" cy="37.2" r="0.7" fill="#229a1e"/><circle cx="107.1" cy="34.8" r="0.7" fill="#1e8c1b"/><circle cx="92.9" cy="51" r="0.7" fill="#1e8c1b"/><circle cx="32.1" cy="105" r="0.7" fill="#1e8c1b"/><circle cx="10.8" cy="87.4" r="0.7" fill="#2aa826"/><circle cx="32" cy="104.2" r="0.7" fill="#229a1e"/><circle cx="99.6" cy="49.1" r="0.7" fill="#1e8c1b"/><circle cx="33.2" cy="16.2" r="0.7" fill="#229a1e"/><circle cx="24.5" cy="20.6" r="0.7" fill="#1e8c1b"/><circle cx="36.4" cy="96.3" r="0.7" fill="#2aa826"/><circle cx="41.6" cy="102.4" r="0.7" fill="#26a022"/><circle cx="31.6" cy="19.8" r="0.7" fill="#26a022"/><circle cx="28" cy="74.2" r="0.7" fill="#229a1e"/><circle cx="5.8" cy="21.2" r="0.7" fill="#1e8c1b"/><circle cx="69.9" cy="29.2" r="0.7" fill="#2aa826"/><circle cx="69.7" cy="39.2" r="0.7" fill="#1e8c1b"/><circle cx="30.2" cy="32.1" r="0.7" fill="#2aa826"/><circle cx="30.3" cy="17.8" r="0.7" fill="#2aa826"/></g><rect width="110.6" height="110.6" fill="url(#mvig)"/></g>
<g transform="translate(344.6 55.2)" clip-path="url(#mclip)"><rect width="110.6" height="110.6" fill="url(#mbg1)"/><g filter="url(#mb)" opacity="0.84"><g fill="#187016"><circle cx="48.1" cy="51.9" r="2.5"/><circle cx="46.6" cy="38.8" r="2.6"/><circle cx="50.2" cy="42.7" r="2.1"/><circle cx="56.2" cy="75" r="2.6"/><circle cx="50.3" cy="51" r="2.8"/><circle cx="47.9" cy="44.1" r="2.3"/><circle cx="67" cy="60.3" r="3.1"/><circle cx="63.5" cy="67" r="2.3"/><circle cx="59.3" cy="79" r="3.5"/><circle cx="47.4" cy="39.4" r="3.1"/></g><g fill="#744c1a"><circle cx="25.8" cy="18.7" r="3.4"/><circle cx="88.5" cy="27.1" r="3.4"/><circle cx="70.8" cy="83.3" r="2.2"/><circle cx="17.9" cy="59.5" r="1.9"/><circle cx="9.4" cy="101.6" r="3.2"/><circle cx="75.3" cy="82.6" r="2.3"/><circle cx="9" cy="91.8" r="2.3"/><circle cx="81.2" cy="57.3" r="2.7"/><circle cx="12.3" cy="81.1" r="3"/><circle cx="23.4" cy="17.4" r="2.2"/><circle cx="83.2" cy="86" r="3.1"/><circle cx="92.4" cy="33.2" r="3.1"/><circle cx="14.2" cy="97.3" r="2.3"/><circle cx="14.3" cy="65" r="2.6"/><circle cx="29.8" cy="61.5" r="2.4"/><circle cx="12.9" cy="91" r="3.5"/><circle cx="12.5" cy="89" r="2.2"/><circle cx="19.3" cy="22.3" r="1.9"/><circle cx="90.5" cy="32.5" r="2.4"/><circle cx="22.4" cy="60.4" r="2.9"/><circle cx="10.1" cy="84.3" r="3.2"/></g><g fill="#1c7a19"><circle cx="46.7" cy="47.7" r="2.3"/><circle cx="69.3" cy="83.3" r="2.8"/><circle cx="64.3" cy="67.9" r="2.3"/><circle cx="63.4" cy="78.2" r="3.2"/><circle cx="87" cy="11.6" r="2.8"/><circle cx="57.2" cy="83.7" r="2.6"/><circle cx="69.1" cy="64.2" r="2.7"/><circle cx="65.3" cy="67" r="1.9"/><circle cx="59.8" cy="66.5" r="3"/><circle cx="59.6" cy="79.8" r="2.3"/><circle cx="90.5" cy="10.2" r="1.9"/></g><g fill="#20841d"><circle cx="53.4" cy="42.1" r="2"/><circle cx="55.8" cy="77.9" r="2"/><circle cx="44.1" cy="44.8" r="2.1"/><circle cx="70.7" cy="78.2" r="2.9"/><circle cx="66.4" cy="64.3" r="2.6"/><circle cx="63.8" cy="70.3" r="2.5"/><circle cx="62.4" cy="86.7" r="2.9"/><circle cx="58.2" cy="86.2" r="2.9"/></g><g fill="#80541e"><circle cx="81.9" cy="55.7" r="2.3"/><circle cx="83.9" cy="56.1" r="3.2"/><circle cx="29.9" cy="21.5" r="2.8"/><circle cx="82.5" cy="51.6" r="3.4"/><circle cx="11.5" cy="85" r="2.6"/><circle cx="17.5" cy="87.4" r="3.4"/><circle cx="6.2" cy="90.1" r="2.1"/><circle cx="24.9" cy="21.8" r="2.1"/><circle cx="78.8" cy="79.3" r="3.2"/><circle cx="30.4" cy="60.9" r="2.2"/><circle cx="97.8" cy="31.4" r="1.9"/><circle cx="110.8" cy="5.3" r="2.3"/><circle cx="9.6" cy="105" r="3.4"/><circle cx="7.2" cy="99.8" r="2.4"/><circle cx="82.8" cy="83.1" r="2.4"/><circle cx="96.1" cy="22.7" r="3.2"/><circle cx="4.9" cy="99.6" r="2.2"/><circle cx="9.1" cy="102.4" r="3.4"/><circle cx="25.7" cy="58.9" r="3"/></g><g fill="#7a581d"><circle cx="87.6" cy="23" r="2.7"/><circle cx="3.9" cy="93.3" r="2.6"/><circle cx="78.2" cy="83.4" r="2.6"/><circle cx="67.8" cy="88" r="3.4"/><circle cx="58.5" cy="15.1" r="3.5"/><circle cx="21.5" cy="18.7" r="3.2"/><circle cx="83.2" cy="84.8" r="2.2"/><circle cx="10.7" cy="96.6" r="3"/><circle cx="88.2" cy="24.8" r="3.4"/><circle cx="109.2" cy="7.7" r="2.3"/><circle cx="74.9" cy="57.4" r="3.4"/><circle cx="107" cy="10.6" r="2.8"/><circle cx="7.7" cy="102.4" r="3.2"/><circle cx="79.9" cy="60.4" r="3.1"/><circle cx="6.4" cy="87.8" r="2.3"/><circle cx="6.7" cy="100" r="2.9"/><circle cx="54.9" cy="20.8" r="3.3"/><circle cx="12.8" cy="92.2" r="2.5"/><circle cx="11.9" cy="96.4" r="3.2"/><circle cx="71.9" cy="81.9" r="3.3"/><circle cx="98.1" cy="30.1" r="3.5"/><circle cx="4.3" cy="100.7" r="2.4"/></g><g fill="#1e8c1b"><circle cx="28.6" cy="68.2" r="2.8"/><circle cx="25.4" cy="68.8" r="2.3"/><circle cx="25.2" cy="26.6" r="2.5"/><circle cx="23.2" cy="26.9" r="3.5"/></g><g fill="#8a5c22"><circle cx="78.7" cy="55.7" r="2.3"/><circle cx="56.4" cy="13.7" r="3"/><circle cx="1.8" cy="90.1" r="1.9"/><circle cx="93" cy="22.9" r="1.9"/><circle cx="70.4" cy="55.2" r="2.4"/><circle cx="17.4" cy="58.1" r="2.6"/><circle cx="9.7" cy="98.5" r="2.5"/><circle cx="2.6" cy="84.7" r="2.3"/><circle cx="76.6" cy="55.9" r="2.1"/><circle cx="89.9" cy="34.2" r="3"/><circle cx="14.9" cy="81.9" r="3.3"/><circle cx="21.5" cy="22.3" r="3.5"/><circle cx="6.5" cy="96" r="3.4"/><circle cx="73.7" cy="84.6" r="3.1"/><circle cx="12.3" cy="84.4" r="2.4"/><circle cx="92" cy="32" r="2"/><circle cx="27.5" cy="57.4" r="2.7"/><circle cx="93.6" cy="31" r="2.2"/><circle cx="3" cy="84.7" r="2.4"/><circle cx="2.6" cy="88.9" r="2.5"/><circle cx="88.4" cy="33.8" r="2.4"/><circle cx="56.5" cy="19.4" r="3.1"/></g><g fill="#965a1c"><circle cx="9.5" cy="16.9" r="3.3"/><circle cx="90.4" cy="82.6" r="2.9"/><circle cx="39.9" cy="55.1" r="2.9"/><circle cx="17" cy="13.8" r="3"/><circle cx="79.5" cy="18.1" r="3.4"/><circle cx="94.3" cy="91.4" r="2.9"/><circle cx="60.6" cy="110.5" r="2.4"/><circle cx="58.8" cy="98.3" r="3.3"/><circle cx="30.6" cy="42.1" r="2.9"/><circle cx="31.5" cy="102.2" r="2"/><circle cx="16.4" cy="6.5" r="2"/><circle cx="38.8" cy="43.3" r="2.5"/><circle cx="49.3" cy="4.9" r="2"/><circle cx="19.6" cy="18.2" r="2.3"/><circle cx="33.2" cy="39.7" r="3.2"/><circle cx="19.7" cy="16.6" r="3.3"/><circle cx="55.7" cy="94.4" r="3.2"/><circle cx="80.7" cy="21.2" r="3.1"/><circle cx="58.9" cy="90.2" r="2.8"/><circle cx="57.9" cy="95.2" r="2.2"/><circle cx="30.3" cy="50.3" r="2"/><circle cx="22.3" cy="7" r="2"/><circle cx="55.8" cy="110" r="3.5"/><circle cx="109" cy="73" r="3.4"/><circle cx="81.6" cy="62.2" r="3.2"/><circle cx="43.8" cy="49.2" r="3.3"/><circle cx="30.8" cy="39.9" r="2"/><circle cx="59.7" cy="91.8" r="2.1"/><circle cx="27.1" cy="43.4" r="2"/><circle cx="36.4" cy="49.5" r="2.8"/><circle cx="78.7" cy="58.9" r="2.6"/></g><g fill="#229a1e"><circle cx="85.4" cy="89.1" r="3.1"/><circle cx="25.4" cy="65.4" r="2.5"/><circle cx="17.1" cy="68.8" r="2.2"/><circle cx="28.5" cy="69.6" r="1.9"/></g><g fill="#26a022"><circle cx="28.3" cy="71.4" r="3.2"/><circle cx="17.3" cy="63.8" r="3.2"/><circle cx="25.4" cy="71.3" r="2.5"/><circle cx="89.6" cy="94.4" r="2.6"/></g><g fill="#a86824"><circle cx="43.6" cy="80.3" r="3.1"/><circle cx="33.6" cy="42.3" r="2.3"/><circle cx="20.3" cy="19" r="3.2"/><circle cx="36.8" cy="53.4" r="3"/><circle cx="91.2" cy="74.2" r="2"/><circle cx="56.6" cy="100.7" r="2.9"/><circle cx="38.3" cy="82.1" r="3.1"/><circle cx="56.9" cy="2.6" r="2.5"/><circle cx="24.2" cy="50.6" r="3.4"/><circle cx="31.1" cy="106.3" r="3.1"/><circle cx="35.5" cy="42.2" r="3.2"/><circle cx="43.6" cy="80.8" r="2.4"/><circle cx="29.5" cy="62.3" r="3"/><circle cx="16.7" cy="5.4" r="2"/><circle cx="30.4" cy="47.4" r="2.7"/><circle cx="35.2" cy="77.1" r="2.8"/><circle cx="10.9" cy="10.1" r="2.6"/><circle cx="94.1" cy="91.5" r="2.8"/><circle cx="42.9" cy="97.5" r="2.1"/><circle cx="89.6" cy="108.4" r="2.7"/><circle cx="8.4" cy="8.2" r="3.5"/><circle cx="13.6" cy="21.6" r="2.1"/><circle cx="36.7" cy="80.5" r="2.4"/><circle cx="84.4" cy="61.4" r="2.9"/><circle cx="32.3" cy="44.2" r="3.2"/><circle cx="18.6" cy="18.4" r="2.7"/><circle cx="26.9" cy="43.1" r="2.6"/><circle cx="76.1" cy="20.8" r="2"/><circle cx="17.4" cy="8.9" r="1.9"/><circle cx="21.4" cy="51" r="3.3"/><circle cx="21.7" cy="48.4" r="3.2"/><circle cx="97.9" cy="80.1" r="3"/><circle cx="45.4" cy="54.2" r="3.1"/><circle cx="50.3" cy="93.2" r="3.4"/><circle cx="77.6" cy="13.6" r="3.4"/><circle cx="14.1" cy="16.6" r="2.2"/><circle cx="75.6" cy="19" r="3"/><circle cx="31.5" cy="100.6" r="2.9"/><circle cx="11" cy="26.1" r="3.1"/><circle cx="53.2" cy="2.3" r="2.1"/><circle cx="81.9" cy="14" r="2"/></g><g fill="#2aa826"><circle cx="30.4" cy="67.2" r="2.6"/><circle cx="85" cy="90.1" r="2.2"/></g><g fill="#b06e28"><circle cx="97.9" cy="88.4" r="2.7"/><circle cx="40.2" cy="83.1" r="3.3"/><circle cx="94.5" cy="69.7" r="2.2"/><circle cx="24.3" cy="52.6" r="2.2"/><circle cx="42.3" cy="40" r="2.1"/><circle cx="19.8" cy="22.3" r="2.2"/><circle cx="46.8" cy="99.2" r="3.2"/><circle cx="80.5" cy="22.9" r="2"/><circle cx="25.3" cy="14.5" r="2.2"/><circle cx="32.2" cy="47.4" r="2.1"/><circle cx="70.5" cy="16.8" r="3.1"/><circle cx="7.1" cy="27.4" r="2.3"/><circle cx="46" cy="58.2" r="2.2"/><circle cx="9" cy="23.5" r="2"/><circle cx="25.5" cy="42.9" r="3.3"/><circle cx="31.3" cy="42.1" r="1.9"/><circle cx="35.6" cy="60.4" r="2.5"/><circle cx="25.5" cy="40.8" r="2.6"/><circle cx="86.1" cy="61.2" r="3.1"/><circle cx="46.3" cy="43.7" r="3.4"/><circle cx="107.1" cy="67.9" r="2.4"/><circle cx="40.9" cy="58.2" r="3.4"/><circle cx="51" cy="52.1" r="3.2"/><circle cx="42.5" cy="47.4" r="2.6"/><circle cx="47.8" cy="5.4" r="3"/><circle cx="78.4" cy="15.6" r="2.3"/><circle cx="89.6" cy="80.8" r="3.1"/><circle cx="9" cy="86.3" r="2.7"/><circle cx="8.2" cy="8" r="3"/><circle cx="72.2" cy="21.9" r="2.2"/><circle cx="59" cy="98.6" r="2.7"/><circle cx="66.6" cy="21.1" r="2.1"/><circle cx="90" cy="83.7" r="2.7"/><circle cx="80.8" cy="59.9" r="2.6"/><circle cx="25.6" cy="43.8" r="2.8"/><circle cx="25" cy="9.4" r="2"/><circle cx="19.6" cy="17.1" r="2.5"/><circle cx="51" cy="98" r="2.1"/><circle cx="13.2" cy="8.7" r="2.1"/><circle cx="51.6" cy="7" r="3.4"/></g><g fill="#b8742a"><circle cx="46" cy="55.8" r="2.9"/><circle cx="107" cy="68.4" r="2.7"/><circle cx="88.1" cy="73.9" r="3.2"/><circle cx="9.7" cy="80.1" r="2.7"/><circle cx="82.4" cy="108.4" r="3.3"/><circle cx="36.5" cy="63" r="2.6"/><circle cx="37.7" cy="51.9" r="2.9"/><circle cx="26.5" cy="49.1" r="2.2"/><circle cx="43" cy="44.8" r="2"/><circle cx="79.8" cy="59" r="2.3"/><circle cx="57.6" cy="89.5" r="3.1"/><circle cx="23.4" cy="53.1" r="2.1"/><circle cx="36.4" cy="45.5" r="3.3"/><circle cx="44" cy="44.8" r="2.4"/><circle cx="39" cy="77.7" r="2"/><circle cx="39" cy="60.4" r="3.3"/><circle cx="24.2" cy="46.6" r="2.7"/><circle cx="58.1" cy="93.1" r="2.6"/><circle cx="93.7" cy="87.3" r="2.7"/><circle cx="34.3" cy="41" r="3.1"/><circle cx="10.1" cy="21.1" r="3"/><circle cx="27.1" cy="44.7" r="2"/><circle cx="7.7" cy="33.7" r="2.1"/><circle cx="40.2" cy="58.8" r="3.3"/><circle cx="12.7" cy="29.4" r="3.2"/><circle cx="39.4" cy="60.5" r="3.3"/><circle cx="46.3" cy="97.7" r="2.6"/><circle cx="80.9" cy="54.6" r="2.8"/><circle cx="22.1" cy="55.7" r="2.3"/><circle cx="98.5" cy="74.7" r="3.3"/><circle cx="57.7" cy="97.9" r="2.5"/><circle cx="96" cy="81.3" r="2"/><circle cx="8.2" cy="19.4" r="2.6"/><circle cx="62" cy="108.3" r="3.3"/><circle cx="57.8" cy="6.7" r="2.2"/><circle cx="28.1" cy="40.6" r="2.7"/><circle cx="12.5" cy="27.8" r="3.2"/><circle cx="46" cy="79" r="2.4"/><circle cx="65.5" cy="18.4" r="3"/><circle cx="5.4" cy="24.6" r="3.2"/><circle cx="47.9" cy="93.2" r="3.4"/><circle cx="57.5" cy="96.7" r="3.4"/><circle cx="60.4" cy="98.6" r="3.2"/><circle cx="14" cy="86.7" r="2.8"/></g><g fill="#c07e30"><circle cx="40.9" cy="56.5" r="2.2"/><circle cx="92.5" cy="92.3" r="3.2"/><circle cx="27" cy="47.7" r="3.5"/><circle cx="41.9" cy="74.2" r="2.1"/><circle cx="22.7" cy="10.2" r="2.5"/><circle cx="21.2" cy="11.7" r="3"/><circle cx="81.7" cy="13.9" r="2.1"/><circle cx="7.4" cy="12.1" r="2.8"/><circle cx="9.2" cy="18.8" r="2.5"/><circle cx="45.5" cy="92.9" r="2.6"/><circle cx="31.6" cy="63.7" r="3"/><circle cx="39.2" cy="50.5" r="2.2"/><circle cx="29.6" cy="54.2" r="2"/><circle cx="74.5" cy="19.3" r="2.7"/><circle cx="22" cy="10.1" r="2.7"/><circle cx="43.8" cy="59.9" r="2"/><circle cx="26.5" cy="49.6" r="2.4"/><circle cx="42.7" cy="54.9" r="1.9"/><circle cx="44.3" cy="47.2" r="2.1"/><circle cx="25.9" cy="12.7" r="3.2"/><circle cx="2.2" cy="12.2" r="2.8"/><circle cx="8.5" cy="6.5" r="2.1"/><circle cx="11.4" cy="84.2" r="3"/><circle cx="93.6" cy="85" r="2.1"/><circle cx="53.6" cy="4.6" r="2.2"/><circle cx="14" cy="6.2" r="3"/><circle cx="86.7" cy="110.8" r="2.9"/><circle cx="48.1" cy="7.5" r="3.4"/><circle cx="24.3" cy="12.1" r="2.8"/><circle cx="85.4" cy="83.8" r="3.4"/><circle cx="46.5" cy="50.5" r="3.4"/><circle cx="17.1" cy="6.3" r="3.4"/><circle cx="65.8" cy="20.1" r="2.3"/><circle cx="91.8" cy="77.4" r="3.3"/><circle cx="107.7" cy="68.6" r="3.4"/><circle cx="21.5" cy="7.4" r="2.8"/><circle cx="63.3" cy="110.4" r="2.1"/><circle cx="44.5" cy="42.8" r="2"/><circle cx="93.3" cy="72.6" r="3.1"/><circle cx="26.4" cy="102.5" r="2"/><circle cx="88.6" cy="89.1" r="2.4"/><circle cx="87.2" cy="85.5" r="2.8"/><circle cx="80.3" cy="17.9" r="2.6"/></g><circle cx="47.5" cy="32" r="1.2" fill="#34e42c"/><circle cx="72" cy="75" r="1.2" fill="#34e42c"/><circle cx="85" cy="23.5" r="1.2" fill="#34e42c"/><circle cx="76" cy="46" r="1.2" fill="#34e42c"/><circle cx="66" cy="55" r="1.2" fill="#229a1e"/><circle cx="78" cy="27" r="1.2" fill="#229a1e"/><circle cx="9.5" cy="66.9" r="0.7" fill="#229a1e"/><circle cx="27.8" cy="21.3" r="0.7" fill="#26a022"/><circle cx="45" cy="93.7" r="0.7" fill="#26a022"/><circle cx="94" cy="34.4" r="0.7" fill="#26a022"/><circle cx="67" cy="9.8" r="0.7" fill="#229a1e"/><circle cx="86.5" cy="27.6" r="0.7" fill="#26a022"/><circle cx="6.8" cy="79.8" r="0.7" fill="#1e8c1b"/><circle cx="9.4" cy="74" r="0.7" fill="#229a1e"/><circle cx="106.7" cy="27.7" r="0.7" fill="#26a022"/><circle cx="104.3" cy="72.5" r="0.7" fill="#26a022"/><circle cx="49.9" cy="57.5" r="0.7" fill="#2aa826"/><circle cx="75.1" cy="26.9" r="0.7" fill="#1e8c1b"/><circle cx="6.4" cy="72.4" r="0.7" fill="#1e8c1b"/><circle cx="59" cy="92.9" r="0.7" fill="#2aa826"/><circle cx="99" cy="52.9" r="0.7" fill="#1e8c1b"/><circle cx="26.4" cy="61.6" r="0.7" fill="#1e8c1b"/><circle cx="48.2" cy="36.5" r="0.7" fill="#229a1e"/><circle cx="8.2" cy="14.7" r="0.7" fill="#229a1e"/><circle cx="52.9" cy="74.7" r="0.7" fill="#26a022"/><circle cx="74" cy="37.6" r="0.7" fill="#26a022"/><circle cx="46.9" cy="20.2" r="0.7" fill="#1e8c1b"/><circle cx="98.8" cy="27.2" r="0.7" fill="#229a1e"/><circle cx="78.9" cy="44.2" r="0.7" fill="#26a022"/><circle cx="61.8" cy="48.1" r="0.7" fill="#1e8c1b"/><circle cx="25.1" cy="4.1" r="0.7" fill="#26a022"/></g><rect width="110.6" height="110.6" fill="url(#mvig)"/></g>
<g transform="translate(455.8 55.2)" clip-path="url(#mclip)"><rect width="110.6" height="110.6" fill="url(#mbg2)"/><g filter="url(#mb)" opacity="0.84"><g fill="#187016"><circle cx="27.6" cy="73.1" r="2.1"/><circle cx="85.9" cy="30.3" r="2.6"/><circle cx="81.6" cy="30.2" r="2.7"/><circle cx="27.2" cy="70.7" r="2.2"/><circle cx="6.9" cy="41" r="2.1"/><circle cx="15.6" cy="37.2" r="2.2"/><circle cx="30.1" cy="74.8" r="2.4"/><circle cx="84.6" cy="32.4" r="3.2"/><circle cx="82.3" cy="23.3" r="2.7"/></g><g fill="#744c1a"><circle cx="71.6" cy="83.5" r="2"/><circle cx="92.1" cy="41.1" r="2.8"/><circle cx="102" cy="44.6" r="2.9"/><circle cx="48.7" cy="16.2" r="3"/><circle cx="83.4" cy="79.7" r="2.5"/><circle cx="89.7" cy="45.8" r="2.3"/><circle cx="56.5" cy="100.2" r="3"/><circle cx="52.5" cy="103" r="2.5"/><circle cx="80.4" cy="99.3" r="2.1"/><circle cx="57.2" cy="100.4" r="3.2"/><circle cx="77" cy="48.7" r="2.5"/><circle cx="90.5" cy="81.7" r="2.6"/><circle cx="49" cy="98.1" r="3.2"/><circle cx="81" cy="49.3" r="3.5"/><circle cx="78.3" cy="55.5" r="2.9"/><circle cx="47.1" cy="95" r="2.4"/><circle cx="50.9" cy="7.2" r="3.3"/><circle cx="46.5" cy="14.5" r="2.4"/><circle cx="91.1" cy="96.3" r="2.7"/><circle cx="17.3" cy="13.6" r="3"/><circle cx="69.5" cy="98.5" r="3.4"/><circle cx="45.7" cy="15.4" r="3.5"/></g><g fill="#1c7a19"><circle cx="60.3" cy="47.2" r="2.2"/><circle cx="78.6" cy="26.1" r="3"/><circle cx="7.1" cy="41" r="3.3"/><circle cx="35.5" cy="12.6" r="3.5"/><circle cx="13.8" cy="44.5" r="2.1"/><circle cx="15.2" cy="45.3" r="1.9"/><circle cx="9.7" cy="47.9" r="1.9"/><circle cx="58.6" cy="49" r="2.1"/><circle cx="35.3" cy="10.8" r="1.9"/><circle cx="7.4" cy="41.7" r="3.1"/><circle cx="32.3" cy="9.4" r="3.5"/><circle cx="4" cy="39.8" r="3.5"/><circle cx="81.3" cy="24.6" r="2.7"/><circle cx="37.3" cy="10.9" r="2.6"/><circle cx="13.1" cy="45.3" r="2.5"/><circle cx="62.1" cy="49.3" r="2.7"/></g><g fill="#20841d"><circle cx="66.5" cy="44.7" r="2.4"/><circle cx="12.5" cy="42.2" r="2.6"/><circle cx="12.4" cy="35.5" r="3.2"/><circle cx="31.6" cy="66.7" r="2.7"/><circle cx="27" cy="71" r="3.5"/><circle cx="12.8" cy="40.8" r="2.6"/><circle cx="62" cy="47.8" r="3.5"/></g><g fill="#80541e"><circle cx="81.9" cy="98.8" r="2.4"/><circle cx="83.2" cy="84.8" r="3.4"/><circle cx="74.8" cy="101.6" r="2.7"/><circle cx="77.9" cy="94.7" r="2.6"/><circle cx="88.8" cy="96.3" r="2.4"/><circle cx="76.9" cy="51.2" r="3.2"/><circle cx="77.3" cy="94.1" r="2.7"/><circle cx="91.4" cy="89" r="2.1"/><circle cx="89.9" cy="90.4" r="3.2"/><circle cx="95.4" cy="35.9" r="3.3"/><circle cx="80.1" cy="81.5" r="2.9"/><circle cx="80.3" cy="101.2" r="1.9"/><circle cx="93.5" cy="41.3" r="2.2"/><circle cx="58.6" cy="99.7" r="2.9"/><circle cx="89.7" cy="94" r="3.3"/><circle cx="86.8" cy="84" r="2.8"/><circle cx="81.7" cy="93.6" r="2.2"/><circle cx="79.3" cy="101.9" r="3.3"/><circle cx="97.5" cy="33.5" r="2.3"/><circle cx="102.3" cy="35.3" r="2.8"/><circle cx="95.2" cy="36.9" r="3.1"/><circle cx="90.7" cy="92.7" r="3.2"/><circle cx="97.3" cy="42.1" r="2"/><circle cx="50.9" cy="95.7" r="3.4"/><circle cx="51.5" cy="99.4" r="2.2"/><circle cx="89.3" cy="98.4" r="3"/><circle cx="99.5" cy="38.5" r="3"/><circle cx="79.1" cy="101.3" r="2.9"/><circle cx="104.6" cy="43.1" r="2.8"/><circle cx="101.9" cy="43" r="3.3"/></g><g fill="#7a581d"><circle cx="87.9" cy="41.1" r="3.2"/><circle cx="71.1" cy="53" r="3.1"/><circle cx="88.3" cy="80.6" r="3.3"/><circle cx="82.3" cy="87.9" r="3.2"/><circle cx="80" cy="82.3" r="2.4"/><circle cx="85.5" cy="98.7" r="2.8"/><circle cx="77.8" cy="50.3" r="2.6"/><circle cx="71.4" cy="53" r="2.8"/><circle cx="84.8" cy="82.1" r="2.9"/><circle cx="49" cy="99.5" r="3.1"/><circle cx="88.4" cy="88.8" r="1.9"/><circle cx="81.6" cy="51.6" r="2.1"/><circle cx="81.5" cy="85.4" r="2"/><circle cx="87.8" cy="89.4" r="3.3"/><circle cx="73.6" cy="82.1" r="3.1"/><circle cx="98.1" cy="46.4" r="2"/><circle cx="69.9" cy="96.5" r="2.6"/><circle cx="55.3" cy="9.9" r="3.3"/><circle cx="78.5" cy="48.7" r="3.3"/><circle cx="89.1" cy="39.1" r="3"/><circle cx="93.9" cy="46.5" r="2.1"/><circle cx="82.9" cy="84.9" r="2.3"/><circle cx="72.4" cy="57.9" r="2.1"/><circle cx="80.1" cy="102.4" r="2.6"/><circle cx="72.5" cy="50.7" r="2.8"/><circle cx="104.8" cy="45.1" r="3.4"/><circle cx="101" cy="47.4" r="3"/><circle cx="52.3" cy="92.2" r="3.3"/><circle cx="51.9" cy="104.3" r="3.4"/><circle cx="14.6" cy="14" r="3.1"/><circle cx="68.4" cy="88" r="1.9"/><circle cx="16" cy="16.8" r="3.1"/><circle cx="69.5" cy="87.4" r="2.7"/><circle cx="70.4" cy="97.2" r="2"/></g><g fill="#1e8c1b"><circle cx="69.3" cy="14.1" r="2.2"/><circle cx="69.8" cy="15.9" r="2"/><circle cx="66.9" cy="21.9" r="2.2"/><circle cx="61" cy="16.8" r="2.5"/><circle cx="57.8" cy="70.1" r="2.2"/><circle cx="54" cy="72.3" r="2"/><circle cx="57.2" cy="20.2" r="2.9"/><circle cx="4.4" cy="25.7" r="2.6"/><circle cx="56" cy="76.2" r="3.4"/><circle cx="57.6" cy="70.8" r="3.2"/><circle cx="44.3" cy="68.2" r="3"/><circle cx="47.4" cy="72.9" r="2.1"/><circle cx="70.8" cy="27.2" r="2.5"/><circle cx="53.2" cy="73.3" r="2"/><circle cx="60.1" cy="15.6" r="3.4"/><circle cx="64" cy="14.9" r="2.3"/><circle cx="7.3" cy="19.3" r="2.8"/><circle cx="74.6" cy="18.3" r="2.9"/><circle cx="66.4" cy="22.2" r="2.4"/><circle cx="75" cy="16.5" r="3.3"/><circle cx="77" cy="21" r="3.1"/></g><g fill="#8a5c22"><circle cx="71.3" cy="50.1" r="3.5"/><circle cx="72.9" cy="88" r="2.5"/><circle cx="95.3" cy="44.7" r="3.4"/><circle cx="80.2" cy="59.3" r="2.2"/><circle cx="95.4" cy="31.1" r="3.3"/><circle cx="54.2" cy="90.6" r="2.3"/><circle cx="94.2" cy="37.5" r="3.1"/><circle cx="95.4" cy="35.1" r="2"/><circle cx="66.2" cy="51.5" r="2.1"/><circle cx="79" cy="54.1" r="2.3"/><circle cx="106.2" cy="41.9" r="2.4"/><circle cx="51.9" cy="12.9" r="3.1"/><circle cx="75.8" cy="58" r="3.3"/><circle cx="74.6" cy="90.6" r="2.2"/><circle cx="74.4" cy="89.8" r="1.9"/><circle cx="51.8" cy="97" r="3"/><circle cx="18.1" cy="18.6" r="2.6"/><circle cx="24.2" cy="14.8" r="2.1"/><circle cx="46.2" cy="94.8" r="2.6"/><circle cx="67.4" cy="51.7" r="1.9"/><circle cx="19.6" cy="13" r="3"/><circle cx="57.6" cy="99.6" r="3.5"/><circle cx="69.5" cy="48.5" r="2.6"/><circle cx="74.6" cy="87.6" r="2.5"/></g><g fill="#965a1c"><circle cx="49.2" cy="47.6" r="3.4"/><circle cx="12.2" cy="81" r="3"/><circle cx="5.9" cy="84.9" r="3"/><circle cx="33.4" cy="49.1" r="2.6"/><circle cx="32.7" cy="2.2" r="3.2"/><circle cx="46.2" cy="55" r="2.8"/><circle cx="33.6" cy="35.2" r="3"/><circle cx="26.3" cy="41.3" r="2"/><circle cx="27.4" cy="24.7" r="2.8"/><circle cx="31.2" cy="34.9" r="3.3"/><circle cx="32.6" cy="59.3" r="2.3"/><circle cx="6" cy="88.1" r="2.6"/><circle cx="34.8" cy="26.2" r="2.1"/><circle cx="56.3" cy="59" r="2.2"/><circle cx="29.6" cy="20.1" r="2"/><circle cx="21.8" cy="72.3" r="3.1"/><circle cx="17.5" cy="31.4" r="2.2"/><circle cx="57.9" cy="31.9" r="3.1"/><circle cx="48.7" cy="41.9" r="2.5"/><circle cx="30.7" cy="24.6" r="2.3"/><circle cx="53" cy="56.9" r="3.3"/><circle cx="107.6" cy="91.8" r="2.4"/><circle cx="31.6" cy="3.9" r="2.2"/><circle cx="104.5" cy="84" r="2"/><circle cx="26" cy="48.5" r="1.9"/><circle cx="48.2" cy="49.1" r="3"/><circle cx="19.8" cy="56.5" r="2.1"/><circle cx="46.2" cy="64.9" r="3.4"/><circle cx="29.3" cy="5.2" r="2.7"/><circle cx="47.8" cy="61.5" r="2.2"/><circle cx="17.5" cy="73.9" r="3.1"/><circle cx="43.4" cy="48.3" r="2.3"/></g><g fill="#229a1e"><circle cx="72.1" cy="13.1" r="2.4"/><circle cx="62.1" cy="70.8" r="2.4"/><circle cx="69" cy="28.4" r="2.3"/><circle cx="42" cy="70.4" r="2.6"/><circle cx="76.6" cy="23.2" r="2.7"/><circle cx="64.9" cy="26.2" r="3.2"/><circle cx="40.2" cy="68.2" r="3.1"/><circle cx="63" cy="20.6" r="2.4"/><circle cx="55.5" cy="70.4" r="2.2"/><circle cx="62.4" cy="26.3" r="2.3"/><circle cx="60.5" cy="66.7" r="3.3"/><circle cx="60.8" cy="70.8" r="2"/><circle cx="50.9" cy="71.6" r="2.9"/><circle cx="62.1" cy="26.4" r="3"/><circle cx="61" cy="72.5" r="2.3"/></g><g fill="#26a022"><circle cx="68.4" cy="14" r="2.7"/><circle cx="62.8" cy="25.7" r="2.5"/><circle cx="76.2" cy="16.5" r="3.4"/><circle cx="5.8" cy="26.1" r="2.1"/><circle cx="73.9" cy="22.6" r="3.1"/><circle cx="61.5" cy="18.6" r="2.2"/></g><g fill="#a86824"><circle cx="104" cy="86.3" r="3.2"/><circle cx="90.8" cy="99.7" r="2.8"/><circle cx="60.5" cy="32.4" r="3.2"/><circle cx="8.7" cy="78.3" r="2"/><circle cx="44" cy="60.1" r="3"/><circle cx="18.5" cy="24.1" r="2.6"/><circle cx="29.6" cy="34.1" r="3.4"/><circle cx="53.1" cy="61.8" r="3.5"/><circle cx="27.2" cy="61.2" r="2.7"/><circle cx="24.3" cy="34.5" r="3.2"/><circle cx="42.5" cy="45.4" r="2.2"/><circle cx="43.4" cy="52.1" r="3.2"/><circle cx="19.5" cy="1.7" r="3.2"/><circle cx="55.8" cy="34.6" r="3.1"/><circle cx="34.9" cy="33.3" r="2.7"/><circle cx="94.2" cy="98.7" r="2.4"/><circle cx="52.2" cy="55.1" r="3.3"/><circle cx="52.7" cy="60.9" r="3.2"/><circle cx="27.2" cy="4.5" r="2.7"/><circle cx="19.9" cy="51.4" r="2.1"/><circle cx="31.3" cy="37" r="2.8"/><circle cx="18.9" cy="56" r="2.7"/><circle cx="54.4" cy="49.8" r="2.5"/><circle cx="20" cy="61.7" r="3.4"/><circle cx="44.6" cy="49.8" r="3.2"/><circle cx="43.6" cy="45.9" r="3.3"/><circle cx="68.6" cy="1.4" r="2.5"/><circle cx="31.9" cy="65.5" r="2.4"/><circle cx="39.8" cy="48.5" r="3.4"/><circle cx="34.7" cy="33.3" r="2.3"/><circle cx="18.1" cy="37.5" r="3"/><circle cx="30" cy="4.4" r="2.5"/><circle cx="28.5" cy="23.4" r="2"/><circle cx="68.3" cy="3.9" r="3"/><circle cx="81.7" cy="3.5" r="2.3"/><circle cx="12.1" cy="78" r="3"/><circle cx="18.9" cy="24.1" r="2.1"/><circle cx="1.7" cy="108.9" r="2"/><circle cx="47.8" cy="54.6" r="2.1"/><circle cx="86.2" cy="93.1" r="3.1"/><circle cx="22.1" cy="35.5" r="2.6"/><circle cx="50.4" cy="49.6" r="3.5"/><circle cx="28.7" cy="34.8" r="3.4"/><circle cx="33.6" cy="60.8" r="2.7"/><circle cx="72.9" cy="5.2" r="3.3"/></g><g fill="#2aa826"><circle cx="52.1" cy="71.2" r="2.5"/><circle cx="67.1" cy="24.4" r="3"/><circle cx="62.5" cy="19" r="3.4"/><circle cx="4.8" cy="21.7" r="2.8"/><circle cx="56.6" cy="69.3" r="2.7"/><circle cx="55.9" cy="68.2" r="2.3"/><circle cx="54.3" cy="23.7" r="3.5"/><circle cx="43.9" cy="69.8" r="3.2"/><circle cx="51.4" cy="69.6" r="3.4"/><circle cx="78.1" cy="20.9" r="3.3"/></g><g fill="#b06e28"><circle cx="73.5" cy="6.9" r="2.4"/><circle cx="74.3" cy="1.8" r="2.9"/><circle cx="5.9" cy="89.2" r="2.3"/><circle cx="37.1" cy="46.3" r="2.7"/><circle cx="28.1" cy="55.3" r="1.9"/><circle cx="85.3" cy="95.6" r="2.1"/><circle cx="56.5" cy="57.1" r="3.3"/><circle cx="7.4" cy="83.5" r="1.9"/><circle cx="71.8" cy="6" r="2.9"/><circle cx="82.4" cy="99.1" r="2.9"/><circle cx="80.5" cy="5.3" r="2.7"/><circle cx="15.9" cy="5.3" r="2.9"/><circle cx="105.1" cy="95.1" r="2.1"/><circle cx="4.6" cy="109.9" r="3.2"/><circle cx="16.3" cy="30.2" r="2.8"/><circle cx="76.5" cy="4.5" r="3.5"/><circle cx="44.9" cy="56.9" r="2.4"/><circle cx="45.5" cy="44.2" r="3"/><circle cx="52.2" cy="55.7" r="1.9"/><circle cx="15.1" cy="82.7" r="2.8"/><circle cx="8.4" cy="75.4" r="3.4"/><circle cx="21.7" cy="53.2" r="2.9"/><circle cx="9.5" cy="76.8" r="3.1"/><circle cx="103.5" cy="84.9" r="1.9"/><circle cx="16.5" cy="33.9" r="2.5"/><circle cx="47.6" cy="52.1" r="2.9"/><circle cx="18.6" cy="3.1" r="2.6"/><circle cx="18" cy="6" r="2.2"/><circle cx="49.3" cy="55" r="3.3"/><circle cx="31.4" cy="45.3" r="2.1"/><circle cx="27.9" cy="51.6" r="3.2"/><circle cx="5.3" cy="85.3" r="3.5"/><circle cx="15.9" cy="74.9" r="2.4"/><circle cx="4.5" cy="89.2" r="2.2"/></g><g fill="#b8742a"><circle cx="43.4" cy="55.2" r="3.2"/><circle cx="19.7" cy="75.1" r="2.7"/><circle cx="31.1" cy="63.4" r="3.3"/><circle cx="53.9" cy="29.7" r="2.2"/><circle cx="39.2" cy="63.8" r="3.4"/><circle cx="34.9" cy="31.3" r="2"/><circle cx="55.9" cy="82.5" r="1.9"/><circle cx="40.7" cy="63.3" r="2.2"/><circle cx="90.6" cy="90.6" r="3.1"/><circle cx="58.2" cy="55.3" r="3.2"/><circle cx="20.5" cy="29.6" r="2.2"/><circle cx="55.6" cy="32.9" r="3.4"/><circle cx="88.8" cy="101.3" r="2.9"/><circle cx="52.9" cy="31.7" r="3.2"/><circle cx="44" cy="49" r="2.4"/><circle cx="57.1" cy="28.7" r="2.4"/><circle cx="31.4" cy="64.4" r="3.3"/><circle cx="24.3" cy="57.2" r="2.7"/><circle cx="15.1" cy="78.6" r="2"/><circle cx="15.1" cy="77.2" r="2.6"/><circle cx="24.7" cy="32.4" r="2.7"/><circle cx="51.2" cy="80" r="1.9"/><circle cx="27.6" cy="6.5" r="2.3"/><circle cx="82.7" cy="98.6" r="2.1"/><circle cx="55.7" cy="50.5" r="3"/><circle cx="45.6" cy="59.8" r="2.5"/><circle cx="54.5" cy="81.8" r="2.8"/><circle cx="22.8" cy="75.1" r="2.5"/><circle cx="21.2" cy="36.7" r="3.1"/><circle cx="61.1" cy="31.1" r="2.4"/></g><g fill="#c07e30"><circle cx="38.2" cy="53.4" r="2.9"/><circle cx="33.5" cy="52.4" r="3.3"/><circle cx="83.8" cy="100.5" r="2.5"/><circle cx="66.3" cy="6.2" r="1.9"/><circle cx="102.9" cy="85.7" r="3.2"/><circle cx="91.2" cy="91.7" r="3.1"/><circle cx="40.6" cy="41.3" r="3.4"/><circle cx="51.6" cy="30.1" r="3.2"/><circle cx="103.4" cy="94.1" r="2.4"/><circle cx="23.7" cy="5.5" r="2.6"/><circle cx="24.7" cy="41.9" r="3.2"/><circle cx="51.7" cy="78.2" r="3.5"/><circle cx="31.3" cy="65.9" r="2.5"/><circle cx="50" cy="61.7" r="2"/><circle cx="42.6" cy="63.5" r="3.5"/><circle cx="9.7" cy="72.7" r="2.6"/><circle cx="22.3" cy="1.1" r="2.3"/><circle cx="34.8" cy="52.9" r="2.4"/><circle cx="20.3" cy="39.2" r="2.1"/><circle cx="32.3" cy="52.2" r="2.9"/><circle cx="107.3" cy="87.4" r="2.9"/><circle cx="43" cy="51.1" r="2.6"/><circle cx="29.6" cy="55.8" r="2.2"/><circle cx="17.1" cy="76.2" r="2.7"/><circle cx="105.1" cy="83" r="3.2"/><circle cx="41.3" cy="46.5" r="3.2"/><circle cx="23.9" cy="60" r="2.6"/><circle cx="29.3" cy="37" r="3"/><circle cx="39.9" cy="47.7" r="2.8"/></g><g fill="#2acf24"><circle cx="72.6" cy="42" r="3.2"/><circle cx="72.5" cy="37.3" r="3.3"/></g><g fill="#34e42c"><circle cx="95.9" cy="53.4" r="2.3"/><circle cx="70.4" cy="40.9" r="2.3"/></g><g fill="#3cee33"><circle cx="102.8" cy="55.8" r="2.8"/><circle cx="100.4" cy="52.9" r="2.2"/><circle cx="99.3" cy="52.7" r="2.9"/><circle cx="104.5" cy="52.9" r="3.4"/></g><g fill="#4cfa40"><circle cx="100.7" cy="58.3" r="2.5"/><circle cx="66.5" cy="40.8" r="2.6"/></g><circle cx="18" cy="64" r="1.2" fill="#34e42c"/><circle cx="97" cy="17" r="1.2" fill="#34e42c"/><circle cx="78" cy="62" r="1.2" fill="#34e42c"/><circle cx="54" cy="50" r="1.2" fill="#b8742a"/><circle cx="72" cy="62" r="1.2" fill="#b8742a"/><circle cx="88" cy="35.2" r="0.7" fill="#2aa826"/><circle cx="59.6" cy="16.9" r="0.7" fill="#1e8c1b"/><circle cx="88.2" cy="32.7" r="0.7" fill="#1e8c1b"/><circle cx="40.5" cy="91.4" r="0.7" fill="#229a1e"/><circle cx="38.6" cy="90.3" r="0.7" fill="#26a022"/><circle cx="101.2" cy="94.6" r="0.7" fill="#1e8c1b"/><circle cx="47" cy="49.2" r="0.7" fill="#229a1e"/><circle cx="91.1" cy="59.1" r="0.7" fill="#2aa826"/><circle cx="28.6" cy="70.1" r="0.7" fill="#2aa826"/><circle cx="93.1" cy="39" r="0.7" fill="#2aa826"/><circle cx="66.6" cy="32" r="0.7" fill="#1e8c1b"/><circle cx="49.3" cy="65.6" r="0.7" fill="#229a1e"/><circle cx="85.2" cy="66.9" r="0.7" fill="#2aa826"/><circle cx="35.7" cy="75.1" r="0.7" fill="#2aa826"/><circle cx="96.1" cy="49.7" r="0.7" fill="#229a1e"/><circle cx="65.4" cy="16.4" r="0.7" fill="#26a022"/><circle cx="3.2" cy="17.7" r="0.7" fill="#1e8c1b"/><circle cx="34.8" cy="48.6" r="0.7" fill="#229a1e"/><circle cx="80.9" cy="44.6" r="0.7" fill="#2aa826"/><circle cx="38.7" cy="16.7" r="0.7" fill="#1e8c1b"/><circle cx="58.8" cy="91.6" r="0.7" fill="#26a022"/><circle cx="27.6" cy="93.9" r="0.7" fill="#2aa826"/><circle cx="37.3" cy="11.8" r="0.7" fill="#1e8c1b"/><circle cx="90.1" cy="10" r="0.7" fill="#26a022"/><circle cx="97.9" cy="105.1" r="0.7" fill="#229a1e"/></g><rect width="110.6" height="110.6" fill="url(#mvig)"/></g>
<g transform="translate(566.3 55.2)" clip-path="url(#mclip)"><rect width="110.6" height="110.6" fill="url(#mbg3)"/><g filter="url(#mb)" opacity="0.84"><g fill="#187016"><circle cx="18.4" cy="32" r="2.6"/><circle cx="62.9" cy="62.8" r="2.2"/><circle cx="62.2" cy="64.2" r="1.9"/><circle cx="17" cy="32.3" r="3"/><circle cx="44.8" cy="36" r="3.4"/><circle cx="63.6" cy="66.7" r="2.4"/><circle cx="73.7" cy="65.4" r="2.9"/></g><g fill="#744c1a"><circle cx="28.3" cy="73.3" r="3"/><circle cx="32.5" cy="71.6" r="2.5"/><circle cx="63.6" cy="74.7" r="2.7"/><circle cx="53.9" cy="73.1" r="2.1"/><circle cx="55.5" cy="74.2" r="3.2"/></g><g fill="#1c7a19"><circle cx="23.9" cy="32.7" r="2.1"/><circle cx="66.4" cy="61.1" r="2.1"/><circle cx="63.2" cy="62.5" r="2.4"/><circle cx="102.5" cy="19.6" r="3.1"/><circle cx="99.1" cy="27.7" r="3.4"/><circle cx="100.1" cy="28.3" r="3.3"/><circle cx="42.6" cy="33.5" r="2.4"/><circle cx="47.5" cy="35.8" r="2.9"/><circle cx="74.9" cy="62.7" r="2.9"/><circle cx="75.1" cy="61" r="2.8"/><circle cx="45.9" cy="34.9" r="1.9"/></g><g fill="#20841d"><circle cx="17.3" cy="32.8" r="2.4"/><circle cx="65.7" cy="62.9" r="2.7"/><circle cx="24.1" cy="36.8" r="2.5"/><circle cx="102" cy="21.7" r="3.3"/><circle cx="98.3" cy="27.2" r="2.2"/><circle cx="76" cy="63.1" r="2.2"/></g><g fill="#80541e"><circle cx="68.6" cy="72.1" r="2.7"/><circle cx="17.6" cy="12.2" r="2.8"/><circle cx="36.9" cy="70.6" r="2.5"/><circle cx="19.8" cy="8.9" r="3.2"/><circle cx="28.5" cy="73.3" r="2.2"/></g><g fill="#1e8c1b"><circle cx="37" cy="23.9" r="3.1"/><circle cx="31" cy="45" r="2.1"/><circle cx="30.2" cy="28.3" r="2.9"/><circle cx="39.3" cy="20" r="3.2"/><circle cx="95.9" cy="47.4" r="2"/><circle cx="35.2" cy="51.7" r="2.8"/><circle cx="78.1" cy="79" r="3.1"/><circle cx="32.7" cy="52.6" r="2.3"/><circle cx="25.5" cy="19.4" r="3"/><circle cx="49.7" cy="98.9" r="2.4"/><circle cx="78.3" cy="101.2" r="2.2"/><circle cx="37.2" cy="42.8" r="2.1"/><circle cx="38.5" cy="75.6" r="2.3"/><circle cx="61.6" cy="72.4" r="2.9"/><circle cx="42.7" cy="56.1" r="2.2"/><circle cx="50.9" cy="89.2" r="2.2"/><circle cx="34" cy="51" r="2.6"/><circle cx="94.9" cy="81.3" r="1.9"/><circle cx="106.7" cy="46.4" r="2.6"/><circle cx="2.9" cy="20.9" r="2.4"/><circle cx="49.5" cy="82.8" r="2.7"/><circle cx="57.4" cy="15.9" r="3.2"/><circle cx="80.1" cy="15.6" r="3.4"/><circle cx="56.7" cy="81.1" r="2"/><circle cx="64.1" cy="99.7" r="2.7"/><circle cx="76.9" cy="45.2" r="2"/><circle cx="90.4" cy="37.5" r="2.8"/><circle cx="98.7" cy="51" r="3.1"/><circle cx="10.6" cy="53.7" r="3.4"/><circle cx="38.3" cy="81.8" r="2.4"/><circle cx="50.4" cy="14.3" r="2.1"/><circle cx="34.5" cy="48" r="2.2"/><circle cx="49" cy="11.5" r="2.6"/><circle cx="62.3" cy="70.4" r="2.3"/><circle cx="80.8" cy="38.6" r="2.2"/><circle cx="31" cy="84.8" r="2.1"/><circle cx="48.3" cy="78.5" r="3.5"/><circle cx="32.1" cy="7.1" r="2.1"/><circle cx="40.8" cy="86.7" r="2.9"/><circle cx="62.5" cy="99.1" r="3.3"/><circle cx="89" cy="97.9" r="2"/><circle cx="36.8" cy="88.5" r="2.5"/><circle cx="8.5" cy="105.2" r="2.9"/><circle cx="32.6" cy="102.1" r="3.1"/><circle cx="29.6" cy="81.4" r="3.4"/><circle cx="78.1" cy="46" r="3.2"/><circle cx="35" cy="42.2" r="2.5"/><circle cx="64.3" cy="72.5" r="3.2"/><circle cx="43.3" cy="88.3" r="3.5"/><circle cx="77.3" cy="83.3" r="3.3"/><circle cx="98.3" cy="89.1" r="3"/><circle cx="26.7" cy="51.1" r="3.2"/><circle cx="99.1" cy="52.3" r="2.8"/><circle cx="39.4" cy="86.3" r="3"/><circle cx="102.3" cy="43.6" r="2.8"/><circle cx="55.9" cy="79.8" r="2.6"/><circle cx="39.5" cy="43.8" r="2.8"/><circle cx="28.1" cy="56.1" r="2.9"/><circle cx="108.9" cy="40.7" r="2.1"/><circle cx="59.8" cy="94.9" r="3"/><circle cx="32" cy="58" r="2.5"/><circle cx="42.5" cy="93.9" r="2.3"/><circle cx="72.2" cy="92.1" r="2.3"/><circle cx="77.8" cy="3.3" r="2.5"/><circle cx="10.5" cy="45.8" r="2.3"/><circle cx="74.9" cy="11.9" r="3.4"/><circle cx="34.6" cy="92" r="2.7"/><circle cx="51.7" cy="2.2" r="2.3"/><circle cx="104.7" cy="48.2" r="2.9"/><circle cx="84.6" cy="77.6" r="2.5"/><circle cx="28" cy="24.9" r="3.1"/><circle cx="92.3" cy="52.2" r="2.6"/><circle cx="95.3" cy="49" r="3.1"/><circle cx="95.5" cy="82.1" r="2.7"/><circle cx="85.2" cy="79.1" r="3.1"/><circle cx="77.2" cy="99.7" r="2.7"/><circle cx="3.7" cy="8.1" r="2.1"/><circle cx="83.7" cy="40.6" r="2.8"/><circle cx="39.1" cy="16.1" r="3"/><circle cx="96.9" cy="78.6" r="2.4"/><circle cx="65.7" cy="91.9" r="3"/><circle cx="41.4" cy="47.4" r="2.6"/><circle cx="91.1" cy="49.5" r="2.9"/><circle cx="3.6" cy="19.3" r="2.7"/><circle cx="78.6" cy="86.9" r="2.3"/><circle cx="31.2" cy="91.7" r="3.5"/><circle cx="31.8" cy="81.1" r="2.5"/><circle cx="89.6" cy="79.7" r="2.3"/><circle cx="78.8" cy="79.9" r="3.1"/></g><g fill="#8a5c22"><circle cx="19.8" cy="16" r="2.5"/><circle cx="38" cy="71.3" r="2.8"/></g><g fill="#965a1c"><circle cx="80.8" cy="61.5" r="2.8"/><circle cx="61.7" cy="60" r="3.2"/><circle cx="83.3" cy="95.3" r="2.9"/><circle cx="61.7" cy="61.5" r="2.2"/><circle cx="46.2" cy="3.4" r="2.5"/><circle cx="83.2" cy="51" r="3"/><circle cx="85.8" cy="92.4" r="2.2"/><circle cx="79.2" cy="44.9" r="2.8"/><circle cx="46.3" cy="3.9" r="3.2"/><circle cx="56.8" cy="67.5" r="2.8"/></g><g fill="#229a1e"><circle cx="86.8" cy="95.4" r="2.5"/><circle cx="7.2" cy="62.7" r="2.3"/><circle cx="55.8" cy="80.3" r="2.1"/><circle cx="10.1" cy="107.4" r="2.2"/><circle cx="77.6" cy="51.3" r="2.8"/><circle cx="84.4" cy="4" r="2.9"/><circle cx="61.4" cy="6.7" r="3.1"/><circle cx="6.2" cy="52.9" r="2.7"/><circle cx="10.5" cy="56.6" r="2"/><circle cx="56.8" cy="15.9" r="3"/><circle cx="85.9" cy="15.9" r="2.6"/><circle cx="62.7" cy="5.4" r="2.3"/><circle cx="73.8" cy="91.1" r="3.4"/><circle cx="77.2" cy="91.1" r="2.7"/><circle cx="64.1" cy="70.7" r="2.3"/><circle cx="2.9" cy="56.7" r="2.9"/><circle cx="69.8" cy="104.3" r="2"/><circle cx="94.2" cy="35.9" r="3.1"/><circle cx="59.6" cy="14.2" r="2.8"/><circle cx="37.5" cy="54.8" r="2.9"/><circle cx="88.8" cy="93.6" r="2.7"/><circle cx="5.3" cy="49.5" r="2.1"/><circle cx="26.7" cy="12.1" r="2.9"/><circle cx="11.4" cy="44.6" r="2.9"/><circle cx="30.3" cy="82.6" r="2.7"/><circle cx="107.7" cy="39.4" r="2.5"/><circle cx="21.5" cy="15.7" r="2.5"/><circle cx="86.4" cy="83.6" r="2.3"/><circle cx="84.4" cy="15.9" r="2.1"/><circle cx="63.5" cy="79.8" r="2"/><circle cx="94.6" cy="52.2" r="2.1"/><circle cx="96.5" cy="39.1" r="3.3"/><circle cx="78.3" cy="75.1" r="2.2"/><circle cx="59.8" cy="75.3" r="3.3"/><circle cx="23.4" cy="12.9" r="3.2"/><circle cx="35.3" cy="90.3" r="3.1"/><circle cx="88" cy="86.6" r="2"/><circle cx="91" cy="41.1" r="2.3"/><circle cx="34.8" cy="100.7" r="3.4"/><circle cx="33.8" cy="16.3" r="2.2"/><circle cx="33.7" cy="10.1" r="3.5"/><circle cx="77.4" cy="14.9" r="2"/><circle cx="44.7" cy="82.2" r="2.9"/><circle cx="74.2" cy="10.5" r="2.5"/><circle cx="37" cy="10.3" r="1.9"/><circle cx="66.8" cy="92.2" r="3.1"/><circle cx="14" cy="55.2" r="2.9"/><circle cx="40.5" cy="44.7" r="3.2"/><circle cx="12.4" cy="56.9" r="3.4"/><circle cx="7.8" cy="12.7" r="3.2"/><circle cx="66.6" cy="78.6" r="2.9"/><circle cx="34.3" cy="93.4" r="2.3"/><circle cx="33" cy="91" r="2.5"/><circle cx="6.2" cy="20" r="2.3"/><circle cx="40.1" cy="82.8" r="2.1"/><circle cx="61.2" cy="14.1" r="2.7"/><circle cx="39" cy="83.6" r="2.8"/><circle cx="94.1" cy="51.9" r="3.4"/><circle cx="74.6" cy="41.6" r="3.4"/><circle cx="84.2" cy="8.8" r="2.9"/><circle cx="29.7" cy="93" r="2.8"/><circle cx="103.2" cy="37.9" r="3.1"/><circle cx="86.7" cy="53" r="2.1"/><circle cx="30.9" cy="84.2" r="2.2"/><circle cx="61.3" cy="90.7" r="2.5"/><circle cx="5" cy="18.8" r="2.1"/><circle cx="93.6" cy="43.8" r="1.9"/><circle cx="49.3" cy="79.5" r="3.4"/><circle cx="83.3" cy="14.7" r="2.2"/><circle cx="11.4" cy="56.3" r="2.1"/><circle cx="98.7" cy="50.7" r="3"/><circle cx="110" cy="58" r="1.9"/><circle cx="38.6" cy="14.6" r="2.3"/><circle cx="25.6" cy="20.7" r="2.4"/><circle cx="48.4" cy="86.8" r="2.2"/><circle cx="108" cy="56.5" r="3.2"/><circle cx="94.6" cy="83.7" r="3.3"/><circle cx="89.1" cy="45.4" r="3.2"/><circle cx="29" cy="15" r="3.5"/><circle cx="75" cy="95.3" r="2.7"/><circle cx="30.7" cy="85.6" r="1.9"/><circle cx="13.4" cy="8.6" r="2.7"/><circle cx="81.9" cy="38.3" r="2.8"/><circle cx="56.6" cy="73.8" r="3.1"/><circle cx="63.6" cy="82.1" r="3.3"/><circle cx="71.4" cy="99" r="3"/><circle cx="36.2" cy="21.7" r="2.9"/></g><g fill="#26a022"><circle cx="38.3" cy="81.4" r="3.2"/><circle cx="50.2" cy="86.6" r="2.2"/><circle cx="57.6" cy="105.2" r="2"/><circle cx="84.7" cy="48.6" r="2.4"/><circle cx="49.8" cy="86.5" r="2.8"/><circle cx="11.5" cy="23.3" r="3.1"/><circle cx="3.8" cy="13.4" r="2.8"/><circle cx="58.3" cy="72" r="3.4"/><circle cx="40.4" cy="79.7" r="3"/><circle cx="84.3" cy="7.3" r="3.3"/><circle cx="24.8" cy="17" r="2.5"/><circle cx="92.6" cy="41.8" r="2.6"/><circle cx="30.1" cy="100.9" r="3.3"/><circle cx="40.2" cy="47.5" r="2.3"/><circle cx="85.2" cy="75.1" r="2.4"/><circle cx="8.6" cy="19.6" r="2.4"/><circle cx="54.9" cy="8.5" r="2.8"/><circle cx="37.4" cy="22.1" r="2.3"/><circle cx="11.4" cy="11.6" r="2.8"/><circle cx="96.7" cy="93.8" r="2.5"/><circle cx="22" cy="20.4" r="2.4"/><circle cx="95.2" cy="87.4" r="2.9"/><circle cx="38.9" cy="96.2" r="3.3"/><circle cx="43.8" cy="52.2" r="2.8"/><circle cx="47.5" cy="90.6" r="2.7"/><circle cx="11.1" cy="23.4" r="3.1"/><circle cx="3" cy="13.9" r="3.1"/><circle cx="86.7" cy="98.5" r="2.5"/><circle cx="59.7" cy="100" r="2.6"/><circle cx="56.6" cy="97.9" r="2"/><circle cx="58.2" cy="12.1" r="2"/><circle cx="90.1" cy="80.9" r="2.4"/><circle cx="100.8" cy="49.5" r="2.5"/><circle cx="13.1" cy="57.8" r="2.8"/><circle cx="46.2" cy="90.2" r="2.3"/><circle cx="79.3" cy="10.6" r="2.9"/><circle cx="47.2" cy="82.9" r="2.3"/><circle cx="35.1" cy="52" r="3.2"/><circle cx="82.1" cy="101.9" r="2.3"/><circle cx="82.8" cy="99.6" r="2.5"/><circle cx="80.4" cy="74.6" r="2.7"/><circle cx="59.4" cy="6" r="2.1"/><circle cx="86.6" cy="74" r="2.7"/><circle cx="33.6" cy="49" r="2.9"/><circle cx="46.2" cy="77.9" r="2.1"/><circle cx="25.7" cy="14.2" r="3.4"/><circle cx="81.8" cy="15.5" r="2.6"/><circle cx="10.2" cy="43.9" r="3.4"/><circle cx="64.3" cy="81.6" r="3.4"/><circle cx="42.1" cy="53.3" r="2.7"/><circle cx="59.3" cy="96.8" r="3.2"/><circle cx="59.3" cy="12.3" r="3.1"/><circle cx="90.6" cy="80" r="2.6"/><circle cx="26" cy="90.6" r="2.8"/><circle cx="40.4" cy="47.8" r="3.3"/><circle cx="49" cy="99" r="2.5"/><circle cx="83.2" cy="10.2" r="2.5"/><circle cx="77.8" cy="102.7" r="2.6"/><circle cx="36.4" cy="7.4" r="2.9"/><circle cx="57.5" cy="17.2" r="2"/><circle cx="44.4" cy="101" r="2.7"/><circle cx="7.5" cy="12.5" r="3"/><circle cx="35.7" cy="23.2" r="2.8"/><circle cx="59.6" cy="5" r="3.5"/><circle cx="37.8" cy="99" r="2.7"/><circle cx="51" cy="3.3" r="2.2"/><circle cx="33.8" cy="20.1" r="3"/><circle cx="101.8" cy="42.8" r="2.3"/><circle cx="26.8" cy="84.7" r="2.4"/><circle cx="73.5" cy="78" r="2.3"/><circle cx="51.3" cy="86" r="3"/><circle cx="78" cy="91.5" r="3.4"/><circle cx="10.3" cy="105.8" r="3.3"/><circle cx="31.7" cy="27.4" r="2.8"/><circle cx="52.3" cy="92" r="2.3"/><circle cx="26.6" cy="87.9" r="2.7"/><circle cx="31.2" cy="52.1" r="2.2"/><circle cx="88.2" cy="40.3" r="1.9"/><circle cx="97.9" cy="79.8" r="3.4"/><circle cx="33.7" cy="93.5" r="3.1"/></g><g fill="#a86824"><circle cx="33.5" cy="6.6" r="2.4"/><circle cx="2.7" cy="84.8" r="3.2"/><circle cx="61.5" cy="65.1" r="2.2"/><circle cx="86.9" cy="95.6" r="3.1"/><circle cx="79.6" cy="53.7" r="2.4"/><circle cx="52" cy="65.6" r="3.2"/><circle cx="46.4" cy="60.1" r="2"/><circle cx="27.5" cy="104.5" r="2"/><circle cx="91.8" cy="59" r="1.9"/><circle cx="4.5" cy="48.9" r="2.5"/><circle cx="49.3" cy="61.7" r="2.2"/><circle cx="78.8" cy="54.7" r="2.5"/><circle cx="54.3" cy="2.8" r="2.7"/><circle cx="47.4" cy="5.1" r="3.1"/></g><g fill="#2aa826"><circle cx="29.3" cy="78.5" r="2"/><circle cx="31.4" cy="78.3" r="2.9"/><circle cx="95.8" cy="87" r="2.3"/><circle cx="34.3" cy="84.5" r="3"/><circle cx="97.6" cy="39" r="2.5"/><circle cx="48.1" cy="7.2" r="3.4"/><circle cx="58.2" cy="4.1" r="2.7"/><circle cx="46.5" cy="7.5" r="2.3"/><circle cx="14.1" cy="16.4" r="2.8"/><circle cx="12.6" cy="54.3" r="2.8"/><circle cx="90.4" cy="54.9" r="2.6"/><circle cx="3.7" cy="18.6" r="3.1"/><circle cx="65.8" cy="82.1" r="3.1"/><circle cx="80.2" cy="91.8" r="2.6"/><circle cx="38.2" cy="81.6" r="3.3"/><circle cx="34.6" cy="90.6" r="2.9"/><circle cx="84.1" cy="15.1" r="3.3"/><circle cx="85" cy="14.5" r="3.4"/><circle cx="90.2" cy="38" r="2.5"/><circle cx="30.5" cy="79.9" r="2.8"/><circle cx="47" cy="80.4" r="2.8"/><circle cx="30.1" cy="92.8" r="3.2"/><circle cx="68.3" cy="97.6" r="3.1"/><circle cx="91.3" cy="52.7" r="3.4"/><circle cx="62.8" cy="92.4" r="2.3"/><circle cx="74" cy="49" r="2"/><circle cx="80" cy="100.4" r="2.8"/><circle cx="48.7" cy="82.8" r="3.1"/><circle cx="79" cy="43.5" r="3.1"/><circle cx="37.2" cy="11.3" r="3.5"/><circle cx="59.8" cy="16.5" r="2.3"/><circle cx="88.9" cy="76.8" r="2.4"/><circle cx="33.3" cy="12" r="3"/><circle cx="75.5" cy="81.7" r="2.1"/><circle cx="45" cy="87.8" r="3.2"/><circle cx="57.1" cy="6.6" r="3.1"/><circle cx="110.9" cy="56.2" r="2.1"/><circle cx="83.3" cy="87.1" r="2.5"/><circle cx="33" cy="16.1" r="2.1"/><circle cx="30.5" cy="29" r="2.4"/><circle cx="85.2" cy="97.4" r="3.2"/><circle cx="69.4" cy="88.1" r="2.4"/><circle cx="45.8" cy="15.3" r="2.5"/><circle cx="62.4" cy="8.6" r="2.7"/><circle cx="40.7" cy="75.2" r="2"/><circle cx="92.7" cy="40.5" r="3.2"/><circle cx="35.7" cy="99.9" r="2.6"/><circle cx="71" cy="103.1" r="2.5"/><circle cx="46.1" cy="78.7" r="2.5"/><circle cx="86" cy="14" r="2.1"/><circle cx="107.1" cy="55.6" r="3"/><circle cx="10.1" cy="44.4" r="2.9"/><circle cx="31.8" cy="93.6" r="2.4"/><circle cx="7.9" cy="105.1" r="3.2"/><circle cx="36.7" cy="105.4" r="3.1"/><circle cx="32.7" cy="59.7" r="2.5"/><circle cx="97.9" cy="36.8" r="3.4"/><circle cx="45.8" cy="79.1" r="2.3"/><circle cx="62.2" cy="88.4" r="3"/><circle cx="54.7" cy="92.2" r="3.3"/><circle cx="48.2" cy="92.2" r="3.2"/><circle cx="71.1" cy="82.4" r="2.7"/><circle cx="93.1" cy="53.2" r="2.9"/><circle cx="59.8" cy="77.7" r="2.2"/><circle cx="90.6" cy="94" r="2.5"/><circle cx="30.3" cy="58" r="2"/><circle cx="93.2" cy="89.3" r="2.4"/><circle cx="0.6" cy="14.7" r="2"/><circle cx="34.5" cy="50.5" r="2.3"/><circle cx="39.2" cy="87.9" r="2.1"/><circle cx="26.4" cy="24.2" r="2.6"/><circle cx="99.6" cy="54.7" r="2.2"/><circle cx="47.2" cy="80.1" r="2.8"/><circle cx="59.4" cy="9.4" r="2.9"/><circle cx="75.6" cy="83.9" r="3.3"/><circle cx="62.1" cy="15.2" r="3.4"/><circle cx="75.9" cy="48.2" r="2.8"/><circle cx="58.6" cy="16.9" r="3.5"/><circle cx="15.8" cy="14.8" r="3.1"/><circle cx="10.5" cy="49.8" r="2.6"/><circle cx="58" cy="83.3" r="2.3"/><circle cx="92.3" cy="86.7" r="2"/><circle cx="78.1" cy="97.3" r="2.2"/><circle cx="63.3" cy="92.7" r="3"/><circle cx="36.7" cy="19.7" r="2.5"/><circle cx="40.3" cy="93.5" r="2.3"/></g><g fill="#b06e28"><circle cx="60.4" cy="57.5" r="3"/><circle cx="79.7" cy="92.4" r="2.8"/><circle cx="36.9" cy="39.3" r="3.5"/><circle cx="35.9" cy="43.2" r="3.2"/><circle cx="1.9" cy="86.6" r="2.1"/><circle cx="49.3" cy="58" r="2.9"/><circle cx="48.9" cy="54.8" r="2.9"/><circle cx="38.1" cy="40.5" r="3.2"/><circle cx="48" cy="61.3" r="2.7"/></g><g fill="#24bc1f"><circle cx="87.1" cy="37.6" r="2.5"/><circle cx="63.6" cy="30.8" r="2.1"/><circle cx="82.4" cy="75.7" r="3"/><circle cx="58.1" cy="37.4" r="3.3"/><circle cx="66.1" cy="87.5" r="3.2"/><circle cx="69.3" cy="79.9" r="2.8"/><circle cx="72.6" cy="92.7" r="2.5"/></g><g fill="#b8742a"><circle cx="87" cy="57.2" r="2.6"/><circle cx="55.4" cy="56" r="2.1"/><circle cx="49.3" cy="2.4" r="2.9"/><circle cx="36.9" cy="7.8" r="2.6"/><circle cx="94.7" cy="53.8" r="2.4"/><circle cx="93.4" cy="58.2" r="3.3"/><circle cx="3" cy="84.2" r="2"/><circle cx="49.1" cy="66.1" r="2.1"/><circle cx="80.9" cy="49.5" r="2.5"/><circle cx="49.4" cy="57.7" r="2.5"/><circle cx="31.9" cy="10.4" r="2.6"/><circle cx="5.3" cy="49.3" r="2.1"/><circle cx="28.9" cy="105" r="2.1"/><circle cx="56.7" cy="58.9" r="2.4"/><circle cx="77.1" cy="56.5" r="2.3"/></g><g fill="#c07e30"><circle cx="2.3" cy="46.1" r="2.1"/><circle cx="93.3" cy="58.5" r="2"/><circle cx="54.4" cy="60.1" r="2.9"/><circle cx="82.8" cy="48.5" r="2.4"/><circle cx="60.7" cy="60.2" r="2.9"/><circle cx="4.8" cy="44" r="3.2"/><circle cx="57.7" cy="64.3" r="3.1"/><circle cx="61.7" cy="56.4" r="2.9"/><circle cx="54.2" cy="57.1" r="3.2"/></g><g fill="#2acf24"><circle cx="61.8" cy="94" r="2.8"/><circle cx="90.1" cy="89.2" r="3.1"/><circle cx="75.8" cy="88.3" r="2.1"/><circle cx="61.6" cy="93.1" r="2.6"/><circle cx="64" cy="81.9" r="2.8"/><circle cx="86.6" cy="85.1" r="2.2"/><circle cx="88.9" cy="90" r="3.4"/><circle cx="76.5" cy="73.7" r="2.9"/><circle cx="68.2" cy="101.9" r="1.9"/><circle cx="61.5" cy="24.3" r="3.2"/><circle cx="80.4" cy="36.5" r="3"/><circle cx="63.9" cy="29" r="2"/><circle cx="66.5" cy="79.3" r="2.5"/><circle cx="56.3" cy="36.2" r="2.2"/></g><g fill="#34e42c"><circle cx="88.3" cy="41.3" r="2.4"/><circle cx="67" cy="90.1" r="2.5"/><circle cx="64.3" cy="96.6" r="2.4"/><circle cx="80.8" cy="44.1" r="2.2"/><circle cx="84.5" cy="36.9" r="3.2"/><circle cx="70.4" cy="87.3" r="2.6"/><circle cx="67.5" cy="90.2" r="2.3"/><circle cx="76.7" cy="83.3" r="2.4"/><circle cx="77.3" cy="90.1" r="2.1"/><circle cx="64.1" cy="91.8" r="2.5"/><circle cx="61.5" cy="90" r="3.4"/><circle cx="62.2" cy="92.4" r="2.6"/><circle cx="56.4" cy="31.6" r="2.8"/></g><g fill="#3cee33"><circle cx="58.2" cy="29.7" r="2.4"/><circle cx="64.6" cy="88.9" r="2.8"/><circle cx="14.2" cy="51.6" r="2.1"/><circle cx="85.3" cy="99.9" r="2"/><circle cx="65" cy="30.4" r="2.1"/><circle cx="56.6" cy="29.7" r="2.6"/><circle cx="69.5" cy="87.7" r="2.3"/><circle cx="70.9" cy="96.5" r="2.8"/><circle cx="87" cy="89.2" r="2.5"/><circle cx="62.3" cy="79.4" r="3.4"/><circle cx="56.2" cy="37.2" r="2.2"/><circle cx="63.1" cy="35.2" r="3"/><circle cx="72.4" cy="74.9" r="2.2"/><circle cx="62" cy="94.9" r="2.1"/><circle cx="57.3" cy="27.3" r="2.6"/><circle cx="60.5" cy="32.1" r="2.2"/><circle cx="79.4" cy="41.1" r="2"/><circle cx="75.6" cy="102.9" r="2.6"/></g><g fill="#4cfa40"><circle cx="67.3" cy="98.1" r="2.5"/><circle cx="81.1" cy="93.5" r="2.9"/><circle cx="77.9" cy="86.9" r="2.8"/><circle cx="58" cy="37.7" r="3.4"/><circle cx="72.5" cy="102.1" r="2.5"/><circle cx="89.8" cy="93.3" r="2.2"/><circle cx="61.2" cy="89.1" r="2.5"/><circle cx="82.1" cy="81.3" r="3.1"/><circle cx="87.1" cy="82.8" r="1.9"/><circle cx="83" cy="75.2" r="3.1"/><circle cx="51.8" cy="31.9" r="3.2"/><circle cx="62.1" cy="26.9" r="2.8"/><circle cx="12.8" cy="46.2" r="2.7"/><circle cx="85.8" cy="91.5" r="3.1"/><circle cx="87.3" cy="92" r="3.1"/></g><circle cx="57" cy="21" r="1.2" fill="#34e42c"/><circle cx="20" cy="80" r="1.2" fill="#34e42c"/><circle cx="70" cy="52" r="1.2" fill="#34e42c"/><circle cx="83" cy="29" r="1.2" fill="#229a1e"/><circle cx="103" cy="23" r="1.2" fill="#80541e"/><circle cx="57.2" cy="81.3" r="0.7" fill="#2aa826"/><circle cx="69.7" cy="30" r="0.7" fill="#229a1e"/><circle cx="56.7" cy="107.8" r="0.7" fill="#1e8c1b"/><circle cx="10.6" cy="45.2" r="0.7" fill="#1e8c1b"/><circle cx="51.7" cy="31.5" r="0.7" fill="#229a1e"/><circle cx="16.3" cy="101.9" r="0.7" fill="#26a022"/><circle cx="36.6" cy="25.7" r="0.7" fill="#229a1e"/><circle cx="49.3" cy="77.3" r="0.7" fill="#229a1e"/><circle cx="67.5" cy="65.9" r="0.7" fill="#2aa826"/><circle cx="53.7" cy="87" r="0.7" fill="#229a1e"/><circle cx="58.7" cy="10.8" r="0.7" fill="#1e8c1b"/><circle cx="55.7" cy="64.4" r="0.7" fill="#1e8c1b"/><circle cx="55.2" cy="42" r="0.7" fill="#1e8c1b"/><circle cx="104.5" cy="79.3" r="0.7" fill="#229a1e"/><circle cx="41.9" cy="47.6" r="0.7" fill="#2aa826"/><circle cx="57.1" cy="83.1" r="0.7" fill="#229a1e"/><circle cx="70.9" cy="23.9" r="0.7" fill="#26a022"/><circle cx="93.3" cy="13.3" r="0.7" fill="#1e8c1b"/><circle cx="95.4" cy="58.2" r="0.7" fill="#229a1e"/><circle cx="78.5" cy="70.7" r="0.7" fill="#26a022"/><circle cx="33.3" cy="69.7" r="0.7" fill="#229a1e"/><circle cx="81" cy="103" r="0.7" fill="#229a1e"/><circle cx="99.5" cy="63.1" r="0.7" fill="#229a1e"/><circle cx="79.9" cy="33.8" r="0.7" fill="#26a022"/><circle cx="104.1" cy="62.1" r="0.7" fill="#26a022"/></g><rect width="110.6" height="110.6" fill="url(#mvig)"/></g>
<text x="350.2" y="185.4" font-size="9.2" text-anchor="middle" fill="#1a1a1a" textLength="55.4" lengthAdjust="spacingAndGlyphs">Fluorescence</text>
<path d="M306.2 201.1V310.2H394" fill="none" stroke="#000" stroke-width="1"/>
<text x="300.8" y="313.1" font-size="8.2" text-anchor="end" fill="#1a1a1a">0</text>
<text x="300.8" y="285.9" font-size="8.2" text-anchor="end" fill="#1a1a1a">25</text>
<text x="300.8" y="258.8" font-size="8.2" text-anchor="end" fill="#1a1a1a">50</text>
<text x="300.8" y="231.6" font-size="8.2" text-anchor="end" fill="#1a1a1a">75</text>
<text x="300.8" y="204.4" font-size="8.2" text-anchor="end" fill="#1a1a1a">100</text>
<path d="M302.2 310.2H306.2M302.2 283.0H306.2M302.2 255.8H306.2M302.2 228.7H306.2M302.2 201.5H306.2M319.2 310.2V314.7M339.8 310.2V314.7M360.6 310.2V314.7M381.3 310.2V314.7" stroke="#000" stroke-width="1" fill="none"/>
<rect x="310.9" y="230.8" width="16.6" height="78.9" fill="#2d8a1f"/>
<rect x="331.5" y="266" width="16.6" height="43.7" fill="#2d8a1f"/>
<rect x="331.5" y="268.8" width="16.6" height="40.9" fill="#ff2010"/>
<rect x="352.3" y="259.8" width="16.6" height="49.9" fill="#2d8a1f"/>
<rect x="352.3" y="262.8" width="16.6" height="46.9" fill="#ff2010"/>
<rect x="373.0" y="249.9" width="16.6" height="59.8" fill="#2d8a1f"/>
<rect x="373.0" y="303.5" width="16.6" height="6.2" fill="#ff2010"/>
<text transform="translate(280.4 256.3) rotate(-90)" font-size="9.2" text-anchor="middle" fill="#1a1a1a" textLength="38.5" lengthAdjust="spacingAndGlyphs">% of cells</text>
<text transform="translate(322.2 323.2) rotate(-45)" font-size="9.6" text-anchor="end" fill="#1a1a1a" textLength="18" lengthAdjust="spacingAndGlyphs">-DOX</text>
<text transform="translate(342.8 323.2) rotate(-45)" font-size="9.6" text-anchor="end" fill="#1a1a1a" textLength="20.5" lengthAdjust="spacingAndGlyphs">+DOX</text>
<text transform="translate(363.6 323.2) rotate(-45)" font-size="9.6" text-anchor="end" fill="#1a1a1a" textLength="50" lengthAdjust="spacingAndGlyphs">+DOX + siCON</text>
<text transform="translate(384.3 323.2) rotate(-45)" font-size="9.6" text-anchor="end" fill="#1a1a1a" textLength="53.5" lengthAdjust="spacingAndGlyphs">+DOX + siZEB1</text>
<text x="515.1" y="185.4" font-size="9.2" text-anchor="middle" fill="#1a1a1a" textLength="42.6" lengthAdjust="spacingAndGlyphs">Luciferase</text>
<path d="M471 200.3V310H559" fill="none" stroke="#000" stroke-width="1"/>
<text x="465.8" y="312.9" font-size="8.2" text-anchor="end" fill="#1a1a1a">0</text>
<text x="465.8" y="276.9" font-size="8.2" text-anchor="end" fill="#1a1a1a">5×10<tspan font-size="5.2" dy="-3">4</tspan></text>
<text x="465.8" y="240.3" font-size="8.2" text-anchor="end" fill="#1a1a1a">1×10<tspan font-size="5.2" dy="-3">5</tspan></text>
<text x="465.8" y="203.6" font-size="8.2" text-anchor="end" fill="#1a1a1a">1.5×10<tspan font-size="5.2" dy="-3">5</tspan></text>
<path d="M467 310H471M467 274H471M467 237.4H471M467 200.7H471M484.3 310V314.500M505 310V314.500M525.8 310V314.500M546.7 310V314.500" stroke="#000" stroke-width="1" fill="none"/>
<rect x="476.0" y="201.5" width="16.6" height="108.0" fill="#2d8a1f"/>
<rect x="496.7" y="300.9" width="16.6" height="8.6" fill="#2d8a1f"/>
<rect x="496.7" y="305.6" width="16.6" height="3.9" fill="#ff2010"/>
<rect x="517.5" y="301.7" width="16.6" height="7.8" fill="#2d8a1f"/>
<rect x="517.5" y="305.6" width="16.6" height="3.9" fill="#ff2010"/>
<rect x="538.4" y="287" width="16.6" height="22.5" fill="#2d8a1f"/>
<rect x="538.4" y="308" width="16.6" height="1.5" fill="#ff2010"/>
<text transform="translate(429 255.3) rotate(-90)" font-size="9.2" text-anchor="middle" fill="#1a1a1a" textLength="17" lengthAdjust="spacingAndGlyphs">RLU</text>
<text transform="translate(487.3 323.2) rotate(-45)" font-size="9.6" text-anchor="end" fill="#1a1a1a" textLength="18" lengthAdjust="spacingAndGlyphs">-DOX</text>
<text transform="translate(508.0 323.2) rotate(-45)" font-size="9.6" text-anchor="end" fill="#1a1a1a" textLength="20.5" lengthAdjust="spacingAndGlyphs">+DOX</text>
<text transform="translate(528.8 323.2) rotate(-45)" font-size="9.6" text-anchor="end" fill="#1a1a1a" textLength="50" lengthAdjust="spacingAndGlyphs">+DOX + siCON</text>
<text transform="translate(549.7 323.2) rotate(-45)" font-size="9.6" text-anchor="end" fill="#1a1a1a" textLength="53.5" lengthAdjust="spacingAndGlyphs">+DOX + siZEB1</text>
<rect x="562.8" y="206.3" width="11" height="8.4" fill="#2d8a1f"/>
<rect x="562.8" y="222.8" width="11" height="8.6" fill="#ff2010"/>
<text x="581.3" y="213.6" font-size="9.4" fill="#1a1a1a" textLength="38.7" lengthAdjust="spacingAndGlyphs">epithelial</text>
<text x="581.3" y="230.5" font-size="9.4" fill="#1a1a1a" textLength="58.4" lengthAdjust="spacingAndGlyphs">mesenchymal</text>
</g>
<g id="scatter">
<style>
.gy circle,.gy2 circle{fill:#cbcbcb;stroke:#929292;stroke-width:.45px}
.gy3{fill:none;stroke:#bdbdbd;stroke-width:2.3px;stroke-linecap:round}
.rd circle,.rd2 circle{fill:#c4181c;stroke:#a81014;stroke-width:.3px}
.rd3 circle{fill:#c4181c;r:1.2px}
.gn circle{fill:#52d070;stroke:#38a452;stroke-width:.5px}
.gn2 circle{fill:#62bc34;stroke:#4ea028;stroke-width:.4px}
.gn3{fill:none;stroke:#58b030;stroke-width:2.3px;stroke-linecap:round}
.bl circle{fill:#3d8ee8}
.r0 circle{r:2.6px}.r1 circle{r:2.3px}.r2 circle{r:2px}.r3 circle{r:1.7px}.r4 circle{r:1.4px}.r5 circle{r:1.1px}.r6 circle{r:.8px}
</style>
<text x="17.4" y="405.0" font-size="12" textLength="9.0" lengthAdjust="spacingAndGlyphs">C.</text>
<rect x="49.3" y="397.3" width="273.7" height="174.2" fill="#fff"/>
<path d="M60.8 397.3V571.5M85.7 397.3V571.5M110.6 397.3V571.5M135.5 397.3V571.5M160.4 397.3V571.5M185.3 397.3V571.5M210.2 397.3V571.5M235.1 397.3V571.5M260.0 397.3V571.5M284.9 397.3V571.5M309.8 397.3V571.5M49.3 562.3H323M49.3 546.3H323M49.3 530.3H323M49.3 514.3H323M49.3 498.3H323M49.3 482.3H323M49.3 466.3H323M49.3 450.3H323M49.3 434.3H323M49.3 418.3H323M49.3 402.3H323" stroke="#ececec" stroke-width="0.7" fill="none"/>
<g font-size="5.6" fill="#444" font-weight="bold"><text x="60.8" y="578.6" text-anchor="middle">0</text><text x="85.7" y="578.6" text-anchor="middle">0,1</text><text x="110.6" y="578.6" text-anchor="middle">0,2</text><text x="135.5" y="578.6" text-anchor="middle">0,3</text><text x="160.4" y="578.6" text-anchor="middle">0,4</text><text x="185.3" y="578.6" text-anchor="middle">0,5</text><text x="210.2" y="578.6" text-anchor="middle">0,6</text><text x="235.1" y="578.6" text-anchor="middle">0,7</text><text x="260.0" y="578.6" text-anchor="middle">0,8</text><text x="284.9" y="578.6" text-anchor="middle">0,9</text><text x="309.8" y="578.6" text-anchor="middle">1</text><text x="46.8" y="564.3" text-anchor="end">0</text><text x="46.8" y="548.3" text-anchor="end">0,1</text><text x="46.8" y="532.3" text-anchor="end">0,2</text><text x="46.8" y="516.3" text-anchor="end">0,3</text><text x="46.8" y="500.3" text-anchor="end">0,4</text><text x="46.8" y="484.3" text-anchor="end">0,5</text><text x="46.8" y="468.3" text-anchor="end">0,6</text><text x="46.8" y="452.3" text-anchor="end">0,7</text><text x="46.8" y="436.3" text-anchor="end">0,8</text><text x="46.8" y="420.3" text-anchor="end">0,9</text><text x="46.8" y="404.3" text-anchor="end">1</text></g>
<g fill="none" stroke-linecap="round"><defs><path id="q1" d="m59.6 498.1h0m0-34.9h0m.2 3.7h0m.1-47.3h0m0 37.9h0m0-3.8h0m0 2h0m.1 1.1h0m0 21.3h0m.1 83.4h0m0-74.4h0m0-10h0m.1-25h0m.1-2.4h0m0 18h0m.1 18.8h0m.2 7.7h0m.1-68h0m.1 50.7h0m0-50.4h0m0 43h0m.2 10.6h0m.3 7.2h0m0-5.8h0m.1 14.4h0m0-4.2h0m0 20.3h0m.2-42.5h0m.1-21.2h0m.1 17.7h0m0 97.1h0m.1-10.9h0m0-70.6h0m.1 32.2h0m.2-42.5h0m.5 7.4h0m.3-23h0m.1 21.4h0m.1-27.4h0m.5 36.9h0m.4 34.4h0m.2 23.1h0m.1-71.2h0m.1 6.3h0m.1 19.6h0m.3-40.6h0m.3 17.1h0m0 29.6h0m.6-17.7h0m.2 26.5h0m.5-73.9h0m0 .7h0m.1 19.9h0m.1 18.2h0m.3-3.3h0m.1 30.3h0m.7-45.4h0m.5 51.3h0m.1-39.1h0m.5 0h0m.3 61.5h0m.2-49.9h0m.1-9.1h0m.3-13.4h0m.7 13.4h0m0 .6h0m.2 69.9h0m0-61.5h0m.3-6.4h0m.2 4.2h0m.3 37.7h0m.4-22.7h0m.5-28h0m.9-1.6h0m.1 66.2h0m.2-64.4h0m.2 3.9h0m.4 1.8h0m.8 14.4h0m.2-15.1h0m.1 .7h0m.4 14.4h0m.2-19.3h0m.6 52.4h0m.1-41.3h0m1 43.3h0m.6-29h0m1 21.2h0m.4-8h0m.6 10.9h0m.1-1.7h0m.7 4.7h0m1.2-15.3h0m2.1 12.2h0m.3-12.2h0m.5-1.1h0m0 15.8h0m1.5-1.6h0m1.4-25.1h0m1.5 10.2h0m4.5 45.8h0m1.8-29h0m1.2-6.5h0"/></defs><use href="#q1" stroke="#868686" stroke-width="3.2"/><use href="#q1" stroke="#cacaca" stroke-width="2.4"/><defs><path id="q2" d="m59.6 473.7h0m0-19.5h0m0-.2h0m0 25.2h0m0 22.7h0m.2-3h0m0 12.6h0m.1-42.1h0m0 10.7h0m0 26.7h0m.1-19.4h0m.1-19.4h0m.1 36.2h0m.2 22.5h0m0-59.9h0m0-13.4h0m.1 38.3h0m0 17.1h0m0-7.1h0m.2-26.3h0m0-4.5h0m.2 24.5h0m0-31.3h0m.1-10h0m.1-8.2h0m.1 40.8h0m.2 39.5h0m.1-3.1h0m0-7.9h0m.4-33h0m.1 2.2h0m.3 47.2h0m.1-43.3h0m.3-22.8h0m.1-19.9h0m0 19h0m.3 2.8h0m.1-.4h0m.1 39.4h0m.3-78.3h0m0 63.7h0m.4 25.6h0m0-4.8h0m.2-25h0m0-3.1h0m.2 57.4h0m0-25.6h0m.6-26.6h0m.2 36h0m0-8.7h0m.3-23h0m.1-4.4h0m.1-.6h0m0-23.9h0m.1 43.9h0m.1-4.8h0m.1-15.9h0m.2-33.1h0m0-4.9h0m0 56.6h0m.3-4.4h0m.1 3.6h0m.3-12.6h0m.1 26.2h0m.1-59.6h0m0 40h0m.2-16.3h0m0-26.1h0m0 24.2h0m.1-28.4h0m0 36.7h0m0-31.2h0m.4 13.1h0m0-14.5h0m.2 10.3h0m.1 39.7h0m1-53.5h0m.1 41.7h0m.2-26.8h0m.5 26h0m.4-24h0m.4 4.7h0m.1 72.5h0m.1-53.6h0m2.5-12.2h0m.8-10.8h0m1 29.9h0m1.3-16.3h0m.1-5.3h0m.3 36.1h0m1.8-18.7h0m0-13.4h0m.4-7.9h0m.8 12.9h0m.1-4.8h0m1.7 18h0m1.4-3.3h0m.3 15.6h0m.2-3.6h0m2 13.2h0m2.3-29.6h0m.6 47.2h0m2.1-40.9h0m5.5 11.5h0m.7 2.6h0m.5-1h0m2.6 38.8h0"/></defs><use href="#q2" stroke="#868686" stroke-width="2.8"/><use href="#q2" stroke="#cacaca" stroke-width="2"/><defs><path id="q3" d="m59.6 486.6h0m0-18.6h0m0-10.4h0m0 26.7h0m0-16.2h0m0 34.7h0m.1-52.8h0m0 33.9h0m.2 26.9h0m0-68.8h0m.2 69h0m.1-39.2h0m0 5.8h0m0-21.7h0m0 20.5h0m.1-5.6h0m.1 20.9h0m0-20.1h0m0 32.7h0m.1-7h0m0-11.8h0m0-17h0m.3 13.6h0m0-3.5h0m.2-5h0m0 57.3h0m.1-.1h0m0-31h0m.3 56.1h0m.1-87h0m0 25h0m0 10.6h0m.1-11.8h0m.1-15.7h0m.2-27.6h0m.4 37.7h0m.1-39.6h0m.8 53.5h0m.2 21.4h0m.1-41.6h0m.5 24.4h0m0 8.5h0m.3-55.7h0m0-12.6h0m0 28.5h0m.1-10.4h0m.3 46.2h0m0-61.1h0m.1 12h0m0 2h0m0 14.9h0m.1 47h0m.4 19.5h0m.2-90.8h0m.3 39.6h0m.4-34.6h0m0 17.4h0m.1 31.1h0m0-16.8h0m.4 27.1h0m.1-56.9h0m0-19.8h0m.1 45.1h0m.1-22.5h0m.6 33.3h0m.1-4.2h0m.6 15.7h0m.6 30.8h0m.1-34.3h0m0-21.6h0m.4-21h0m.4 46.3h0m.2-21.5h0m.1 1.3h0m.3 36.1h0m.2-37.7h0m.2-11h0m1.2 26.4h0m.2-32.7h0m.3 5.1h0m1 25.8h0m0 3.6h0m1-10.3h0m1.5-20.2h0m.6 11.1h0m.6 78.4h0m.8-32.6h0m.6-51.5h0m.5 13.6h0m.1-15.3h0m.5 33.5h0m1-18.4h0m3.9 19.1h0m4.8 22.8h0m1.3-12.7h0m.7 15.1h0m.7-21.2h0m.1-12.3h0m2.4 4.8h0m2.4 46h0m1.8-32.8h0"/></defs><use href="#q3" stroke="#868686" stroke-width="3.6"/><use href="#q3" stroke="#cacaca" stroke-width="2.8"/><defs><path id="q4" d="m159.2 538.3h0"/></defs><use href="#q4" stroke="#868686" stroke-width="4.8"/><use href="#q4" stroke="#cacaca" stroke-width="4"/><defs><path id="q5" d="m59.6 487.1h0m0-19.5h0m0 12.2h0m0 40.5h0m0-58.1h0m0 6.6h0m0 18.3h0m0-33.7h0m0 10.9h0m0 27.9h0m.1-45h0m.2 81.9h0m.1-74.5h0m0-14.2h0m.1 81.5h0m.1-30.3h0m.3 37.3h0m.1-34.1h0m.2 12.4h0m0 28.9h0m.1-55.5h0m.1-62.1h0m.1 86.6h0m.3-44.2h0m.4 23h0m.1 12h0m.2-42.6h0m.1 14.5h0m.2-10.5h0m0 55.7h0m.2-63.2h0m.1 21.7h0m.1-14.6h0m0-15.9h0m.1 37.8h0m.1 19h0m.4-17.6h0m0-9.2h0m.2 18.6h0m.4-27.9h0m1 27.2h0m.1-16.3h0m.1-10h0m.1 54h0m.1 8.7h0m.3-10.5h0m0 17.8h0m.2-23.6h0m.1-55.7h0m.7 21.6h0m.9 13.1h0m.1-24.8h0m0-.1h0m.3 27.1h0m0-13.9h0m.1-20.1h0m.3 37.7h0m.3 4.3h0m.2-30.7h0m.2 2.9h0m.1 21.4h0m.4-31.1h0m.1 12.8h0m.1-1.5h0m0 40.9h0m.1-24.4h0m0-5.3h0m.2-24.5h0m.1 27.4h0m1.5 16.4h0m.6-8.8h0m.7-8.1h0m.5 19.6h0m.5-27.8h0m.3-10h0m.1 62.7h0m.5-37.7h0m.1-22.9h0m.2 37h0m0 56.1h0m.3-72.3h0m.4 23.8h0m.5-11h0m.3 10.1h0m.8-31.3h0m.6 8.2h0m.6-14.6h0m.1 39.9h0m.7-13.2h0m.2 5.6h0m1.3 43.5h0m5.1-39.7h0m2.1 51h0m.7-59.8h0m2.4 14h0m.5-13.6h0m.1 10.4h0m.4 3h0m.1 2.9h0m.3 4.8h0m.2 22.9h0m.3-26.4h0"/></defs><use href="#q5" stroke="#868686" stroke-width="3.2"/><use href="#q5" stroke="#cacaca" stroke-width="2.4"/><defs><path id="q6" d="m106.3 545.4h0m11 9.1h0m15.4-.9h0m16.6 4.5h0m5.3-10.7h0m15.9 10.8h0m1.3 2.4h0m6.1-13.7h0m4.2-.6h0m2 .5h0"/></defs><use href="#q6" stroke="#868686" stroke-width="1.6"/><use href="#q6" stroke="#cacaca" stroke-width="0.8"/><defs><path id="q7" d="m59.6 472.7h0m0 5.5h0m.1-36.3h0m0 25.9h0m.2-12.8h0m.1 63.1h0m0-24.2h0m0-3.4h0m.2 35.9h0m0-35.7h0m.2-10.7h0m.1 13.4h0m.4 4h0m.5 26.1h0m0-31h0m.1-10.5h0m.1-38.4h0m.5 11.6h0m0 9.9h0m0 46.9h0m.3-58.9h0m.1 34.5h0m0-11.6h0m.1 18.8h0m0 52.6h0m.4-98h0m.1 49.5h0m.4-30.7h0m0-29.7h0m.1 14.9h0m0 26.5h0m0-13.9h0m.1 42.5h0m.1-59.7h0m.1 54.6h0m.1-37.7h0m.3 .9h0m0-19.4h0m.4 75.8h0m.4-39.3h0m.2 23.2h0m.3-32.8h0m0 45.9h0m.1 2.2h0m.1-62.9h0m0 68.6h0m0-17.9h0m.3-20h0m0-14.4h0m.1-.2h0m.4 35.7h0m.6-47.6h0m.1-8.4h0m0 34.9h0m0 3.8h0m0-27.3h0m.8 31.7h0m.1-19h0m1.2 24h0m.6-26.8h0m.4 7.5h0m0-2.1h0m.3 27.5h0m.1-43.3h0m.2 27.5h0m.4-15.2h0m.7-11.2h0m.4 55.4h0m.4 2.2h0m.2-59.3h0m.3 7.9h0m.1-2.5h0m.9 31.1h0m.3-24.7h0m.1 17.7h0m1.5-25.1h0m.1 18.7h0m.1 37.5h0m.4-17.6h0m.2-3h0m.7 17.2h0m.4-3.6h0m.3 10.6h0m.5 20.7h0m.1-51.9h0m.4 12.3h0m.6-27.2h0m.2 26.3h0m.1-29.2h0m2.6 49.3h0m.3-14h0m4.7 7h0m1.6-15.8h0m.8 11h0m.2-16.6h0m1.7 49.9h0m.4-35.2h0m2.6 2.1h0m.6 36.8h0m1.8 6.9h0m3.6-24.5h0"/></defs><use href="#q7" stroke="#868686" stroke-width="3.6"/><use href="#q7" stroke="#cacaca" stroke-width="2.8"/><defs><path id="q8" d="m59.6 461.6h0m0-4.6h0m0 29.3h0m0-26.6h0m0 50.7h0m0-48h0m0 28.5h0m.1 33h0m0-56.4h0m0-11.2h0m0 24.4h0m.1 74.7h0m0-103.9h0m.1 54.1h0m.1-2.7h0m0-20.8h0m0 .7h0m.1 56.2h0m0-48.5h0m0-40.4h0m.1 79.1h0m.1-19h0m0-51h0m.1 60.7h0m.1-2.4h0m0-65.8h0m0 34h0m.1-20.5h0m.1-10.3h0m.1 6.1h0m0 5h0m.3 23.3h0m.2-17.2h0m.2-10.1h0m.1 20.5h0m0-21.4h0m.2-5.5h0m.1 26.8h0m0-38h0m.1 34.9h0m0-5.5h0m.2-8.2h0m.1-13.1h0m.1 23.1h0m0 6.3h0m0 .9h0m0 37.8h0m0-33h0m0 35.3h0m.1-22.8h0m.3-35.5h0m0-.9h0m.1 41.1h0m.2-10.5h0m0-20.4h0m0 73.8h0m.1 6.9h0m0-51.6h0m.2 32.6h0m0-46.1h0m.1 8.4h0m0 9h0m.1-10.9h0m.1 3.6h0m.1-35.2h0m0 68.1h0m.1-18.7h0m.2-6.7h0m0-12.4h0m.8-15.1h0m0 51.5h0m.3-30.3h0m.2-46.5h0m.1 20.2h0m.2-14.8h0m.1 55.4h0m.1-11.4h0m.1-24.6h0m.3 29.6h0m0-22.6h0m.2-12.3h0m0 41h0m.2 41.4h0m.1-71.1h0m0 20.9h0m.3-48.9h0m.1 43.6h0m.2 13.8h0m.1-39.3h0m.3 13h0m.1 63.5h0m.2-54.8h0m0 .9h0m.2-42h0m.1 34.4h0m.6-21.3h0m.1-7.2h0m.3 46.6h0m.2-28.5h0m0 6.3h0m.2-5.7h0m0 5.3h0m.2-1.9h0m.2 28.1h0m.3 39h0m.3 3.8h0m.2-77.6h0m.2 21.6h0m.3-18.3h0m.2 3.7h0m.1-22.6h0m.3 40.6h0m.1-20h0m.3 13.8h0m0 32.8h0m.2-50.7h0m.5-11.3h0m.3 .6h0m.1 89h0m.3-11.2h0m.4-72h0m.6-1.7h0m0-1.2h0m.1 17.8h0m.3 3.3h0m.1-23.6h0m.1 54.3h0m.4-26.1h0m.7 13.3h0m.4 5.5h0m.1-32.3h0m.9-3.6h0m1.2 23.5h0m0-13.9h0m.6 6.2h0m.5-8.9h0m.9 2.1h0m.5 28.7h0m.8-31.2h0m.1 7.5h0m.1 29.6h0m.5-21.5h0m.7-.5h0m.6 4.6h0m.6 1.4h0m1.4 12.9h0m1.4-25.8h0m1.1 4.2h0m1.1 6.7h0m2.6 9.8h0m1.2 6h0m.4 31h0m2-27.4h0m4.4 3.1h0"/></defs><use href="#q8" stroke="#868686" stroke-width="2.4"/><use href="#q8" stroke="#cacaca" stroke-width="1.6"/><defs><path id="q9" d="m59.8 534.4h0m.1 16.2h0m.8 1.7h0m3 5h0m1.4-19.7h0m13.9-7.2h0m.1 21.1h0m6.1-1.6h0m2.5 2.7h0m1.5-16.2h0m3.1 16.4h0m.6-8.9h0m.2-5.2h0m5.7-1.1h0m.4-.9h0m13.2 10h0m1.2 5.5h0m5.4-3.6h0m.9 1.4h0m6.7-2.7h0m1.6-.3h0m2.3 6.3h0m4.8 8.8h0m2.8-14.2h0m14.4-3h0m0 11h0m18.4 6.4h0m1.6-13.3h0m1.3-1.1h0m1.9 10.3h0m4.6-2.9h0m1.3-3.4h0m3.4-5.6h0"/></defs><use href="#q9" stroke="#868686" stroke-width="2"/><use href="#q9" stroke="#cacaca" stroke-width="1.2"/><defs><path id="q10" d="m59.6 484.1h0m0 13.1h0m0 .2h0m0-51.7h0m0 16.2h0m0 45.4h0m0-50.6h0m.1 18.8h0m0 36.1h0m0 19.2h0m0-31.9h0m0-11h0m.1-19.9h0m0 42.4h0m.1-35h0m.1 7.1h0m.2-9.6h0m.1-11.5h0m0-30.1h0m.1 70h0m0-6.6h0m.2-46.6h0m.1 40.2h0m0-14.8h0m.1-10.4h0m0-1h0m.1-.8h0m.1-2h0m0 17.5h0m.1-9.9h0m.1 12.6h0m0 22.6h0m.1-27h0m.1-44.3h0m.3 52.4h0m.1 16.3h0m.1 17.4h0m.1-65.5h0m.3 10.2h0m.1 15.3h0m.1-2.1h0m.1 47.8h0m.3-40.7h0m0-2.9h0m.2 10.4h0m0 35.5h0m.1-41h0m.3 14.5h0m.2-29.8h0m.1 22.1h0m.4-13.1h0m0 15.7h0m.2-8h0m.1-17h0m.7 46.9h0m.4-66.9h0m.4 77.5h0m0-57h0m.6 39h0m.1-35.2h0m.1 30.3h0m0 14.2h0m.5 2.3h0m.2-53.3h0m.9 2.2h0m.2 89.5h0m.7-91h0m.1 14h0m.2-15.6h0m.2 15h0m1.2 22.8h0m.8-40h0m.4 19.4h0m.1 31.3h0m.1-41.1h0m.1 .6h0m0-7h0m.2-3.4h0m.3 12.4h0m0 40.3h0m.5-11.6h0m.5-3.3h0m3 16.6h0m.1-5.6h0m.2-24.6h0m.7-5.1h0m1.3 8.5h0m0-13.4h0m.4 37.3h0m.5-31.1h0m1.1 15.8h0m1.7-15.3h0m.2 74.4h0m.2-55h0m1.4-15.3h0m1.3 9.2h0m1.5 1.1h0m.7-2.1h0m1.1 8.8h0m.2 5.2h0m.7 19h0m.3-23.3h0m.8-4.8h0m.5 17.7h0m.9 23.1h0m3.9-25.4h0"/></defs><use href="#q10" stroke="#868686" stroke-width="2.8"/><use href="#q10" stroke="#cacaca" stroke-width="2"/><defs><path id="q11" d="m59.6 479.9h0m0-39.4h0m0 63.6h0m0-57.3h0m0 36.6h0m.1 10.8h0m0-8.4h0m.1 11.1h0m.3-16.1h0m.1-9h0m.1 15.5h0m0-28.6h0m.2 29.7h0m0 24.6h0m0-16.9h0m.1-27.8h0m.2 6.9h0m0-7.3h0m.4 9.8h0m0 33.6h0m.1 50.1h0m.2-42.2h0m.1-74.7h0m0 42.1h0m.3-31.7h0m.7 27.3h0m.3-18h0m.4 .9h0m.9-17.8h0m.1 45.6h0m.1-14.5h0m.4-25.9h0m.1 20.3h0m.4 11.9h0m.1-16.2h0m.4-10.9h0m.5 54.1h0m.2-22.1h0m.1-13.5h0m.5 18.3h0m1.7-37.3h0m.4 5.6h0m.4 40.1h0m0-15h0m.1 31.4h0m.1-57.6h0m.2 2.6h0m.2-4.7h0m.8 67.6h0m.3 35.7h0m.5-76.7h0m.5 23.6h0m.2-20.9h0m.2 14h0m.1-2.6h0m.4-14.3h0m.6-4.9h0m.3 .9h0m.1-4.9h0m.3 33.4h0m1.1 2h0m.3-9.1h0m.4-8h0m2.3 11.8h0m.8-3.8h0m.1 58.2h0m.3-37.7h0m0-29.7h0m.5-5.7h0m.4 5.3h0m.5 5.4h0m1.6 5.9h0m0 8.9h0m1.1-1.4h0m.3-.3h0m.1 11.5h0m1.1-5.8h0m.6-15.1h0m2.3-2.5h0m.6 61.8h0m1.1-63.5h0m4.9 15.7h0m.2 5.7h0m.6-5h0"/></defs><use href="#q11" stroke="#868686" stroke-width="4"/><use href="#q11" stroke="#cacaca" stroke-width="3.2"/><defs><path id="q12" d="m59.6 516.2h0m0-6.3h0m0-47.1h0m.1 57.9h0m0-42.4h0m.1-8.8h0m0 15.6h0m0-36.8h0m.1 50.8h0m.1-4.6h0m0-19.7h0m0 27.3h0m.1 32.2h0m0-72.7h0m.1 40.4h0m.1-53.7h0m.1-20.5h0m.2 18.7h0m.3 59.2h0m.2-13.9h0m.1-49.8h0m.1 32.6h0m.2 7.7h0m.1-25.8h0m0 6.7h0m.3 32.3h0m.1-30h0m.1 67.7h0m0-60h0m.2 6.7h0m.1-17.7h0m.1-39.2h0m.3 50.6h0m0 44.6h0m.1-77.1h0m.1 38.2h0m0-14.5h0m.2 15.2h0m.2 35.9h0m.2-32.6h0m.2-35.5h0m0 32.9h0m.2-11.8h0m0 10.9h0m.1-29.1h0m.1 2h0m.8 56h0m.3-16h0m.1-33.5h0m.2 26h0m.3 34.1h0m.3-55.9h0m.1 11.5h0m.2-2.7h0m.2 20.4h0m.1-7.4h0m.2-44.7h0m.2 61.9h0m.1-11.2h0m.5-21h0m.7 44.1h0m.2-48h0m.2 34.2h0m.6-13.1h0m.2-26.7h0m.1 19.5h0m.2 3.2h0m.2-19.9h0m0 10.3h0m.1 4.5h0m.2-5h0m.2 5.1h0m0-17.4h0m.2 1.6h0m.5 25.3h0m.3-3.1h0m.2 1.1h0m1.2-15.3h0m.2 22.2h0m0-19.2h0m.1 23.6h0m.4-20.9h0m.7 .9h0m.3 53.7h0m.1-30h0m1.4 34.9h0m1.3-38h0m.3-7.2h0m.4 63.1h0m1.1-49h0m1.2 16.1h0m0-34.5h0m.6 42.2h0m2.8 5.7h0m2.3-30h0m.6 1.1h0m.3 16.7h0m2.9-16.6h0m2 18h0m4.8 26h0m4.1-2h0m.9 15.1h0"/></defs><use href="#q12" stroke="#868686" stroke-width="3.2"/><use href="#q12" stroke="#cacaca" stroke-width="2.4"/><defs><path id="q13" d="m63.8 562.4h0m4.5 0h0m31.1-49.7h0m3.7 1.6h0m46.1 32.8h0"/></defs><use href="#q13" stroke="#868686" stroke-width="4.4"/><use href="#q13" stroke="#cacaca" stroke-width="3.6"/><defs><path id="q14" d="m59.6 512h0m0-5.1h0m0 5.2h0m.1-37.1h0m.1-13.4h0m0-1.3h0m0 34.8h0m.2 12.8h0m0-29.8h0m.1-14.5h0m.2 29.7h0m.1 17.8h0m.2-14.8h0m0 3.8h0m.3-8.8h0m.2-27.5h0m.1 20.2h0m.1-8.9h0m0-.5h0m.5-11h0m.1-6.4h0m.3 4.4h0m.1 23.4h0m.4-10.3h0m.1-11.5h0m0 57.7h0m.1-30.5h0m.2 21.4h0m0-14.4h0m.2-37.2h0m.6-14.1h0m0 37.6h0m0-23.1h0m.3 27.5h0m.1 7.1h0m.5-9.9h0m.2-22.1h0m0-17.4h0m0 35.2h0m.1-3.2h0m.6 13.8h0m0 14h0m.3-21.4h0m.6 22.4h0m.2-48.4h0m.6 15.9h0m0 42h0m.8-40h0m.1-12.1h0m.5-7.2h0m0 .7h0m.1 19h0m.5 12.8h0m.1-5h0m.3-20.7h0m.3 9.6h0m.8-4.2h0m.2 13.1h0m.2 4.5h0m.4 9.7h0m0 19.3h0m.5-49h0m.4 46.2h0m.4-43.9h0m.7 30h0m.1 15.9h0m1.3-22.2h0m.1-.9h0m2 38.2h0m.1-36.2h0m.4 19.2h0m.8 1.9h0m.1-33.2h0m.6 26.1h0m.5-12.7h0m2 3.4h0m1.1-8h0m1.3 13.4h0m1.9-4.4h0m.4 13.8h0m3.2 16.1h0m10.3 33.7h0m.6-40.1h0m76.6 29.8h0"/></defs><use href="#q14" stroke="#868686" stroke-width="4"/><use href="#q14" stroke="#cacaca" stroke-width="3.2"/><defs><path id="q15" d="m59.6 480h0m0 8.9h0m0 9.5h0m0-38h0m.1 11.6h0m.1-17.5h0m0 68.1h0m0-52.1h0m.1 42.5h0m0-62.6h0m0 17h0m0 62.6h0m0-26.7h0m0-22h0m0 39.4h0m.2-88.5h0m0 67h0m.2 3.4h0m0 4.2h0m.1-21.4h0m.1 49.3h0m.1-86.6h0m0-26.4h0m0 101.9h0m0 4.2h0m0-31.2h0m.1-42.8h0m.1 109.2h0m0-92.8h0m.1 6.4h0m.2 28h0m.3-41.7h0m0-40.2h0m.4 94.9h0m.1-33.8h0m.1-32.1h0m.2 31.3h0m.3-2.7h0m.3 6.6h0m0 75h0m.1-55.9h0m.2-40.3h0m1.1-16.2h0m.1 40.7h0m.2 1.9h0m.2-33.3h0m1 53.3h0m0-30.3h0m.7 34.8h0m.1-26.4h0m.5-15.1h0m.1 8.5h0m.2 68.6h0m.2-93h0m.1 7.3h0m.1 24.8h0m.4-7.2h0m0 20.1h0m1-34.6h0m0 29.2h0m.1 2.8h0m0-38.9h0m0 14.5h0m.5-1.2h0m.5 45.3h0m.3-48.5h0m.6 10h0m.1-19.2h0m.9 67.8h0m.3-19h0m.4-24.6h0m.3-7h0m.1 82.2h0m.3-47.2h0m.8-36.1h0m.1 25h0m.3-21.2h0m.8 19.2h0m.3 13.5h0m.9-10.5h0m.3-20.5h0m.1 8.3h0m.3 22.7h0m.2-40.8h0m.1 70.3h0m.4-66.8h0m.3 29.2h0m.4-25h0m0 9.3h0m3.9-7.7h0m.3 26.7h0m.7 46.2h0m.6-50.2h0m.4-19h0m.2 21h0m.9 19.9h0m.3-37.6h0m4.4 18.8h0m3.4 3.2h0m7.5 28h0"/></defs><use href="#q15" stroke="#868686" stroke-width="3.6"/><use href="#q15" stroke="#cacaca" stroke-width="2.8"/><defs><path id="q16" d="m59.6 462.2h0m0 6.8h0m0 57.2h0m0-20.5h0m.1-6.4h0m0 31.5h0m0-33.9h0m0 2.7h0m.1-9.8h0m.1-5.7h0m0 67.6h0m0-55h0m.5-30.9h0m0 50.7h0m.1-30.6h0m0-40.6h0m.3-39h0m.1 116.5h0m.1-65.5h0m0 45.4h0m.1-2.5h0m0 12.2h0m.1-37.2h0m0 29.8h0m.1-72.6h0m0 7h0m.2 70.1h0m.2-.3h0m.1-18.2h0m0-29.3h0m.1 30.3h0m0-2.6h0m.1-37h0m.3-15.3h0m.3 87.4h0m0-60.4h0m0 22.8h0m.5-15.3h0m.1-36.6h0m.2 78.6h0m.4-54.3h0m.1 10.1h0m.1 3.9h0m.1-32.7h0m0 37.9h0m.1-16.9h0m.4 40.5h0m.1-7.9h0m.1-37.8h0m0 1.5h0m.2-.7h0m.3 57.8h0m.1-11.5h0m.1-33h0m.2-9.4h0m.1-3.2h0m.1 .6h0m.1 14.2h0m.2 11.7h0m.1 11.4h0m.2 33.3h0m.1-55.9h0m.3-22.8h0m0 73.9h0m.7-71.6h0m0 1.3h0m.6 44.1h0m.6-19.9h0m0-10.6h0m.3 42.5h0m1.1 6.8h0m.2-33.2h0m.9-13.8h0m.1-5.8h0m.1 46.8h0m.1-20.1h0m0 10.1h0m0-18.3h0m.5 12.8h0m.3 14h0m0-4.4h0m.3-16.8h0m.5 34.9h0m2-40h0m.7 7.4h0m.3 11.1h0m0-29.4h0m.4 1h0m.3 13.9h0m.1-.1h0m.5-2.9h0m.8 21.7h0m.3-26.4h0m.6 9.6h0m1.5 32.3h0m1.5-6.6h0m.2-3.5h0m1.5-.5h0m.3 18h0m.4-4.3h0m1-9.5h0m3.4 1.2h0m1.8-5.9h0m3.9 9.7h0m.6 30.7h0m0-19.3h0m1.5-18.1h0"/></defs><use href="#q16" stroke="#868686" stroke-width="2.8"/><use href="#q16" stroke="#cacaca" stroke-width="2"/></g>
<g fill="none" stroke-linecap="round"><defs><path id="q17" d="m66.1 492.6h0m.4 21.3h0m1-6.3h0m2.1-26.2h0m2 12.6h0m.1 2.8h0m.1 4.7h0m.3-8.5h0m1.1-14.8h0m2.1 31.6h0"/></defs><use href="#q17" stroke="#a81014" stroke-width="1.5"/><use href="#q17" stroke="#c4181c" stroke-width="0.9"/><defs><path id="q18" d="m69.3 474.4h0m2-5.3h0m2.4 25h0m2.1-21h0m6.3 15.6h0m.3 22.7h0m3.8-5.8h0m.2 34.9h0m1-14.3h0m1.3-2.7h0m2.6-7.6h0m1.2 4.1h0m3.9 22.8h0m4.9-10.1h0m2.9 12.7h0m5.2 3.3h0m7.4-4.8h0"/></defs><use href="#q18" stroke="#a81014" stroke-width="3.9"/><use href="#q18" stroke="#c4181c" stroke-width="3.3"/><defs><path id="q19" d="m71.6 477.9h0m.8 9.5h0m1.5-15.8h0m2.2 27.3h0m0-25.5h0m1.4 1.4h0m.1-1.6h0m.6 58.1h0m.3-18.9h0m0-38.3h0m.2 13.8h0m.5 55.7h0m.1-57.4h0m1.3 44.4h0m.5-49.1h0m.7 11h0m.2 26.6h0m2.7 6.7h0m.9-26h0m1.1 18.6h0m1.3-23.8h0m.3 40.8h0m.3 6.7h0m1.2-44.3h0m1.4 5.1h0m.2-2.6h0m.1 12.2h0m3-5.9h0m1 16.4h0m.9-10.2h0m1.2 22.6h0"/></defs><use href="#q19" stroke="#a81014" stroke-width="3.1"/><use href="#q19" stroke="#c4181c" stroke-width="2.5"/><defs><path id="q20" d="m68.3 457.5h0m4.3 25.3h0m7.2 28.7h0m.9-25.9h0m6.2 8.7h0m6.8 41.1h0m.9 1.5h0m4.5-8.8h0m.9-8h0m2.5 18.1h0m4.4 11.3h0"/></defs><use href="#q20" stroke="#a81014" stroke-width="3.5"/><use href="#q20" stroke="#c4181c" stroke-width="2.9"/><defs><path id="q21" d="m69.7 471.8h0m.4 5.9h0m1.1 5.9h0m2.2-2.8h0m1.2-8.6h0m.7 0h0m.3 20.2h0m0-14.8h0m.6 10.2h0m.7 9.9h0m1.1-14h0m4.2 1.2h0m1.8 18.8h0m.4 .5h0m.7 18h0m.6-34.1h0m.1 32.3h0m1.4-14.7h0m.1 17.4h0m2-9.7h0m2.8 6.7h0m.5-6.3h0m.8 30.4h0m9-1.9h0m1.3-8h0m1.1 7.5h0"/></defs><use href="#q21" stroke="#a81014" stroke-width="2.7"/><use href="#q21" stroke="#c4181c" stroke-width="2.1"/><defs><path id="q22" d="m75.3 486.5h0m.7 18.1h0m.3-34.4h0m1.2 23.6h0m1.6-5.3h0m1 36.7h0m0-19.6h0m1.6 2.8h0m.5-24.7h0m.1 9.5h0m.5 14.7h0m.5 21.6h0m8.2-19.3h0m9.7 11.4h0"/></defs><use href="#q22" stroke="#a81014" stroke-width="1.9"/><use href="#q22" stroke="#c4181c" stroke-width="1.3"/></g>
<g fill="none" stroke-linecap="round"><defs><path id="q23" d="m170.4 559.4h0m28 3h0m4.9-1.2h0m1.1 .5h0m4.7 .5h0m2.2-.2h0m5.6 .5h0m.2-.9h0m0 1h0m11.4-1.5h0m.2 .4h0m5 .7h0m3.8-.5h0m1-.1h0m1.3-.5h0m2.5 1.2h0m2-1h0m1.3 1.1h0m.1-1.2h0m2.5 .1h0m1.7 .3h0m2.5 .3h0m.5-.5h0m7.4 1h0m.8-.8h0m1.8 .7h0m.7 .1h0m3.4-.1h0m2.3-.9h0m5.2 .4h0m6.2-.6h0m1.3 1.4h0"/></defs><use href="#q23" stroke="#36a050" stroke-width="3.3"/><use href="#q23" stroke="#54d272" stroke-width="2.3"/><defs><path id="q24" d="m148.4 558.8h0m39.9 3.3h0m13.3-.5h0m3.6 .9h0m1.1-1.2h0m4.6-.2h0m2 2.1h0m3-.4h0m4.6-1.1h0m1.8-.6h0m1.4 1h0m4.1 .1h0m1.7 .4h0m.6-.9h0m1.7 0h0m.2 1h0m2.3 .1h0m.7-.5h0m.3 .2h0m2-1.5h0m3.6 1.4h0m4.4 .1h0m0-.6h0m2.2-.3h0m.2-.2h0m.3-.3h0m.2 1.1h0m6.4-.2h0m1.3-.1h0m2 .9h0m2.5-1.2h0m.7 .2h0m8.1-.4h0m0 .5h0m1.5-.4h0m6.7 1h0"/></defs><use href="#q24" stroke="#36a050" stroke-width="3.7"/><use href="#q24" stroke="#54d272" stroke-width="2.7"/><defs><path id="q25" d="m188.7 561.6h0m.7 1.2h0m10.1-1.1h0m.4-.1h0m1.1 0h0m7.1-.1h0m6 .6h0m2.1-.9h0m.8 .9h0m1.7-.6h0m.9 .6h0m5.5-.1h0m.1-.2h0m2.6-.3h0m3.7 .5h0m1.4-.6h0m1.4 .6h0m.7 1.1h0m1.7-.8h0m3.2-.1h0m2.5 .1h0m4-.1h0m.3-.8h0m2.3 .4h0m.7 .7h0m.7 .1h0m.8-.8h0m2.9 .9h0m1.2-1.4h0m11.5 0h0m2.4 .8h0m6.2-.6h0m3.2 .4h0"/></defs><use href="#q25" stroke="#36a050" stroke-width="2.9"/><use href="#q25" stroke="#54d272" stroke-width="1.9"/><defs><path id="q26" d="m186.9 561.9h0m6.4 .4h0m4.7 .3h0m1.1-.1h0m.2-.7h0m4.5-.1h0m.7 .3h0m3-.1h0m2.2 .7h0m4.5-1.4h0m1.3 .6h0m.9-.4h0m.2 1h0m5.4-.7h0m.6 1.1h0m1-.5h0m1.2-.6h0m6.6 .2h0m.8-.1h0m.1 .5h0m.8 1.2h0m4.5-.9h0m1.7-.7h0m9.3-.5h0m.4 1h0m.9 .3h0m1.2-.5h0m1.7-.6h0m1.6 .4h0m3 .1h0m1-.8h0m1.5 .3h0"/></defs><use href="#q26" stroke="#36a050" stroke-width="4.1"/><use href="#q26" stroke="#54d272" stroke-width="3.1"/><defs><path id="q27" d="m187.8 562.5h0m5.3-.4h0m.9 .2h0m6.8 .3h0m3.7-1h0m2.6 .3h0m.2-.6h0m1.2 1.4h0m.3-1.1h0m2.4 .4h0m1.9 .1h0m9.7-.7h0m1.1 1.8h0m.7-2h0m.3 1.1h0m7.5-.3h0m.1-.2h0m1.7 1h0m.6-1.1h0m.8 .4h0m.3 0h0m1.7-.3h0m1.3 1h0m1.9-.7h0m3-.1h0m3-.6h0m1.3 .8h0m1 .1h0m.9 .1h0m2.1-.8h0m1 .3h0m2.5 0h0m1.7 .3h0m.3-.1h0m5.1 .4h0m.1 .5h0m2-1.5h0m7.6 .1h0m5.4-.7h0"/></defs><use href="#q27" stroke="#36a050" stroke-width="4.5"/><use href="#q27" stroke="#54d272" stroke-width="3.5"/><defs><path id="q28" d="m200.2 560.4h0m10 .6h0"/></defs><use href="#q28" stroke="#36a050" stroke-width="5.3"/><use href="#q28" stroke="#54d272" stroke-width="4.3"/></g>
<g class="bl"><circle cx="132.1" cy="543.9" r="1.9"/><circle cx="183.8" cy="556.2" r="1.9"/></g>
<path d="M93.8 397.3V571.5" stroke="#333" stroke-width="1.1" stroke-dasharray="1 0.8" fill="none"/>
<path d="M103.5 397.3V571.5" stroke="#333" stroke-width="0.9" fill="none"/>
<path d="M49.3 532.4H323" stroke="#222" stroke-width="0.9" stroke-dasharray="1.4 0.8" fill="none"/>
<path d="M49.3 551.6H323" stroke="#333" stroke-width="0.9" fill="none"/>
<text transform="translate(89.2 431.9) rotate(-90)" font-size="5.6" text-anchor="middle" fill="#222" textLength="58" lengthAdjust="spacingAndGlyphs">AVG([X])+(2*STD([X]))</text>
<text transform="translate(112.2 431.9) rotate(-90)" font-size="5.6" text-anchor="middle" fill="#222" textLength="58" lengthAdjust="spacingAndGlyphs">AVG([X])+(3*STD([X]))</text>
<text x="260.8" y="527.2" font-size="5" fill="#222" textLength="56.7" lengthAdjust="spacingAndGlyphs">AVG([Y])-(2*STD([Y]))</text>
<text x="260.8" y="546.6" font-size="5" fill="#222" textLength="56.7" lengthAdjust="spacingAndGlyphs">AVG([Y])-(3*STD([Y]))</text>
<rect x="102.2" y="531.6" width="28.6" height="8.2" fill="#fff" stroke="#c8c8c8" stroke-width="0.7"/>
<text x="116.5" y="537.8" font-size="6" fill="#222" text-anchor="middle" textLength="23.1" lengthAdjust="spacingAndGlyphs">EBSELEN</text>
<rect x="103.2" y="559.6" width="79.2" height="8.4" fill="#fff" stroke="#c8c8c8" stroke-width="0.7"/>
<text x="142.8" y="565.9" font-size="6" fill="#222" text-anchor="middle" textLength="73.7" lengthAdjust="spacingAndGlyphs">RepSox;E-616452;SJN 2511</text>
<circle cx="251.1" cy="406" r="3.8" fill="#4fd06c"/>
<text x="259.0" y="409.1" font-size="9" fill="#1a1a1a" font-weight="bold" textLength="17.0" lengthAdjust="spacingAndGlyphs">-DOX</text>
<circle cx="251.1" cy="418.2" r="3.8" fill="#e0454c"/>
<text x="259.0" y="421.3" font-size="9" fill="#1a1a1a" font-weight="bold" textLength="18.0" lengthAdjust="spacingAndGlyphs">+DOX</text>
<circle cx="251.1" cy="430.5" r="3.8" fill="#a9a9a9"/>
<text x="259.0" y="433.6" font-size="9" fill="#1a1a1a" font-weight="bold" textLength="63.0" lengthAdjust="spacingAndGlyphs">+DOX + compound</text>
<text transform="translate(27.6 489.0) rotate(-90)" font-size="12.4" text-anchor="middle" fill="#222" textLength="43.4" lengthAdjust="spacingAndGlyphs">M-quant</text>
<text x="181.0" y="600.2" font-size="12.4" text-anchor="middle" fill="#111" textLength="39.0" lengthAdjust="spacingAndGlyphs">E-quant</text>
<text x="351.5" y="405.0" font-size="12" textLength="10.8" lengthAdjust="spacingAndGlyphs">D.</text>
<rect x="375.3" y="397.3" width="302.0" height="175.5" fill="#fff"/>
<path d="M388.0 397.3V572.8M415.6 397.3V572.8M443.2 397.3V572.8M470.8 397.3V572.8M498.4 397.3V572.8M526.0 397.3V572.8M553.6 397.3V572.8M581.2 397.3V572.8M608.8 397.3V572.8M636.4 397.3V572.8M664.0 397.3V572.8M375.3 563.1H677.3M375.3 547.4H677.3M375.3 531.7H677.3M375.3 516.0H677.3M375.3 500.3H677.3M375.3 484.6H677.3M375.3 468.8H677.3M375.3 453.1H677.3M375.3 437.4H677.3M375.3 421.7H677.3M375.3 406.0H677.3" stroke="#ececec" stroke-width="0.7" fill="none"/>
<g font-size="5.6" fill="#444" font-weight="bold"><text x="388.0" y="579.1" text-anchor="middle">0</text><text x="415.6" y="579.1" text-anchor="middle">0,1</text><text x="443.2" y="579.1" text-anchor="middle">0,2</text><text x="470.8" y="579.1" text-anchor="middle">0,3</text><text x="498.4" y="579.1" text-anchor="middle">0,4</text><text x="526.0" y="579.1" text-anchor="middle">0,5</text><text x="553.6" y="579.1" text-anchor="middle">0,6</text><text x="581.2" y="579.1" text-anchor="middle">0,7</text><text x="608.8" y="579.1" text-anchor="middle">0,8</text><text x="636.4" y="579.1" text-anchor="middle">0,9</text><text x="664.0" y="579.1" text-anchor="middle">1</text><text x="372.7" y="565.1" text-anchor="end">0</text><text x="372.7" y="549.4" text-anchor="end">0,1</text><text x="372.7" y="533.7" text-anchor="end">0,2</text><text x="372.7" y="518.0" text-anchor="end">0,3</text><text x="372.7" y="502.3" text-anchor="end">0,4</text><text x="372.7" y="486.6" text-anchor="end">0,5</text><text x="372.7" y="470.8" text-anchor="end">0,6</text><text x="372.7" y="455.1" text-anchor="end">0,7</text><text x="372.7" y="439.4" text-anchor="end">0,8</text><text x="372.7" y="423.7" text-anchor="end">0,9</text><text x="372.7" y="408.0" text-anchor="end">1</text></g>
<g fill="none" stroke-linecap="round"><defs><path id="q29" d="m386.4 532.2h0m0 5.9h0m0-108.3h0m.1 79.7h0m0 29.4h0m.1-67.7h0m0-46.1h0m0 83.1h0m0-63.1h0m0 23.7h0m.1-6.3h0m0 10.6h0m0 10.6h0m.1 22.3h0m.1-25.6h0m0 28.1h0m0 16.7h0m0-88.5h0m.1 87.9h0m0 13h0m0-74.6h0m.1 83h0m0-63.9h0m0-49h0m0 75.4h0m0-27.4h0m.1 70.6h0m.1-57.1h0m.1 27.6h0m0-39.1h0m.2-13.1h0m.2 90.7h0m.2-140.3h0m0 27.5h0m0 68.7h0m0 38.1h0m0-31.7h0m0 29.2h0m.2-122.6h0m.1 70.5h0m.1-46.2h0m.1 13.7h0m0 17.1h0m.1-45.9h0m0 124h0m0-104.2h0m.3 58.5h0m.1-100.1h0m.1 118.2h0m0-20.2h0m0-13.8h0m.1-52.1h0m0 76.6h0m.3-43h0m.2 15.5h0m.1 52.5h0m.2-25.4h0m0 33.8h0m0-70.5h0m.2 10.1h0m.2-11.6h0m.1 56.7h0m0-107.1h0m.2 78.7h0m.1-24.8h0m.1 10.2h0m.1 43.6h0m0-35.9h0m.1-1.6h0m.2-25.1h0m0 28h0m0-18.2h0m0 64.2h0m.5-73.3h0m0 73.9h0m0-94.3h0m.1 26.5h0m.1 55h0m.1-35.4h0m0 39h0m.4-11.2h0m0-10.4h0m0-42h0m.1 16.7h0m.1 27.4h0m0 16.7h0m.4-44.9h0m0 7.1h0m.2 40.8h0m.1-23.9h0m.2-5.2h0m.1 24.6h0m.1 5.8h0m.2-26.8h0m0 19h0m.1 7.9h0m.3 4.2h0m.1-12.8h0m.2-39.2h0m.2 28.6h0m1.3 5.3h0m.5 18h0m.2-.7h0m.4-11.8h0m.4-7.9h0m.7 6.7h0m.2 2.8h0m.5 19.5h0m.4 1.2h0m.7-15.1h0m3.1 14.5h0m2.1-17.4h0m3 5.9h0m4.4-3.9h0m1.1 12.4h0m2.2-6.4h0m.1 8.5h0m.7 0h0m2.3-2.6h0m.8-2.3h0m5.9 6.2h0m4.6-6.1h0m18.9 5.5h0"/></defs><use href="#q29" stroke="#868686" stroke-width="3.6"/><use href="#q29" stroke="#cacaca" stroke-width="2.8"/><defs><path id="q30" d="m386.4 465.8h0m0 1.1h0m0 94.8h0m0-71.7h0m.1-11.5h0m0 23.5h0m0 40.1h0m0-102.8h0m0 39.4h0m.1 37h0m0-57.2h0m.1 35.6h0m0 25.2h0m.1-38.6h0m0-38.8h0m.1 79.4h0m.1-20.1h0m0 31.5h0m.1 16.9h0m.1-56.2h0m0-1.4h0m.1 49.6h0m0-69.5h0m0-39.7h0m.1 41h0m.1 59.9h0m0-68.2h0m0 78.2h0m.1-12.5h0m0-16.4h0m0 3.3h0m0 37.3h0m.1-62.2h0m0 7.6h0m.1-.2h0m.1 39.6h0m0 2.3h0m0-56.9h0m.1 28h0m0 23.1h0m.1-56.4h0m.1 78.6h0m0-127h0m.1 13.2h0m0 26.1h0m0-22.2h0m0 82.5h0m.1-48.2h0m0-12.5h0m.1 8.5h0m.2 14.5h0m0 54.1h0m.2-17.6h0m0-15.3h0m.1-81.9h0m.1 99h0m0-58.7h0m0 24.1h0m.2 9.7h0m.1-46.2h0m0 49.8h0m.1-48h0m.1-31.1h0m0 57.8h0m0-2.2h0m0 29.2h0m.1 6.2h0m0-.1h0m0-90.3h0m.1 128.9h0m.1-85.6h0m0 71.9h0m.1-11.1h0m0-71.4h0m.2 52h0m.1 11.5h0m0-41.2h0m.1 26.3h0m0-19.8h0m0 64.1h0m.4-76.9h0m.1 39.7h0m.4-22h0m.1 2.1h0m.1-2.3h0m0-28.8h0m.2 27.6h0m.4 23.6h0m0-45.2h0m.4 66.5h0m.3-67h0m.1 63.5h0m.8-5.3h0m0-8.4h0m.1 6h0m.4 21.9h0m.2-47h0m.6-1.8h0m.3 49.2h0m.1-35.6h0m0 44.7h0m.1-9.9h0m0-3.8h0m.2-35h0m0 34.9h0m.3-12.2h0m.8-6.9h0m.7 11h0m1.6-6.4h0m3.1 20.5h0m1.6 7.9h0m2.5-4.9h0m2.4-2h0m2.4 2.7h0m1.2-3.3h0m2.9-.6h0m18.8 2.9h0m11 3.4h0m5.7 2.4h0m5.6-.5h0m1.7 .4h0m11.1-1.5h0m3.2 1.6h0m19.8-.6h0"/></defs><use href="#q30" stroke="#868686" stroke-width="3.6"/><use href="#q30" stroke="#cacaca" stroke-width="2.8"/><defs><path id="q31" d="m386.4 519.6h0m.2-86.1h0m.1 84.3h0m.1-46.5h0m0 26.8h0m.1 57.9h0m0-45h0m.2 26.4h0m.2-15.3h0m0-24.8h0m0 43.2h0m.2-11.8h0m.1-9.9h0m.1 32.5h0m0-56.5h0m.1 40h0m.1-72.9h0m0 67.1h0m0-10h0m0 27.6h0m0-32.8h0m0-60h0m0 5h0m.1 44.8h0m.1 7.5h0m.1-48.4h0m0-3h0m0 74.7h0m.1-88.1h0m0 52.7h0m0 34.9h0m.1-96.7h0m.2 68.7h0m0-21.9h0m0-13.4h0m0-.4h0m.1 6.8h0m0 73.9h0m.1-83.6h0m.4-4h0m.2 54.5h0m.1-4.3h0m.1 22.4h0m0-36h0m.2-31.5h0m.1 35.3h0m0-35.4h0m0 81.7h0m.1-111.1h0m0 65.3h0m.1 44.7h0m.1-21.8h0m.1-34.1h0m.1 20.6h0m0 46.2h0m0-37h0m0-20.8h0m.3 32.2h0m0-.9h0m0-37.8h0m.1 54.6h0m0-53.3h0m.1-20.7h0m.3-26.7h0m0 49.3h0m.3 22.4h0m.1-1.6h0m.1 11.5h0m.2-29.7h0m.4-1.4h0m.1-5.6h0m0 12.9h0m0 43.1h0m.2-56.4h0m.2 57.1h0m0-79.1h0m.1 7.5h0m0 47.4h0m.1-19.2h0m0 35.4h0m.5 8.6h0m.2-67.7h0m.1 29.2h0m.1-40.1h0m.5 80.9h0m.3-18.4h0m.8 10.6h0m.4-31.7h0m.2-9.7h0m.1 31.9h0m.6-15.8h0m0 35.2h0m.6-8.5h0m.2 5.4h0m.1-27h0m.1 28.7h0m.5-37.4h0m4.1 37.4h0m1.4 3.8h0m5.8-1.6h0m1.2 4.2h0m.2-.7h0m87 2.4h0"/></defs><use href="#q31" stroke="#868686" stroke-width="2.8"/><use href="#q31" stroke="#cacaca" stroke-width="2"/><defs><path id="q32" d="m386.4 469.2h0m0 8.6h0m.1 68.5h0m0-119.2h0m0 56h0m0 71.9h0m.1-84.1h0m.1 76.3h0m0-8.5h0m0-90.3h0m0 3.4h0m0 12.6h0m.1 24.4h0m0-26h0m.1 28.7h0m0 37h0m.1-72.1h0m0 74.2h0m0-13.1h0m.1-42.9h0m0-31.1h0m0 18.9h0m0 22.4h0m.1-29.6h0m0 37.7h0m0-19.8h0m0 64.4h0m.1-56h0m0 63.9h0m0-23.8h0m0-85.1h0m.1 17.4h0m0 63h0m.1-55.7h0m0 94.6h0m0-33.5h0m0-28.7h0m.1 47.6h0m.1-21h0m0 9h0m.1-85.6h0m0 61.2h0m.1 27.6h0m0-57.6h0m0 53h0m.1-31.3h0m.1-11.3h0m.2-6.9h0m0 76.2h0m0-42.6h0m0-50.6h0m0 70.6h0m0-83.4h0m.1 14h0m.1 56.1h0m0-49.1h0m.1 15.6h0m.1 17.7h0m.1 20.7h0m.1-58.2h0m.1-19.8h0m0 23.5h0m.1 35.1h0m.1-8.3h0m0-39h0m.1-12.1h0m0 72.3h0m.1-14.9h0m.1-20.5h0m.1-.9h0m.1 18.8h0m.2 50.5h0m.1-137.9h0m.1 31.1h0m.1 44.8h0m0 29.6h0m.1 8.1h0m0-39.4h0m.3 6.7h0m0-3h0m0 54.4h0m.1-78.4h0m.1-39.7h0m.1 32.1h0m.3 96.1h0m0-54.4h0m.3 16.4h0m.5-5.4h0m.4 5h0m0 24.2h0m.5-12.6h0m.5-17.9h0m0 29.4h0m.3-21.7h0m0 8.3h0m.3-18.5h0m.1-11.9h0m.3 12.8h0m.2 45.6h0m.1-51.5h0m.3 9.8h0m.4-3.4h0m.5 9.2h0m.8-12h0m.6 35.9h0m0-3.8h0m.1-26.2h0m1.5 14.5h0m2.5 31.1h0m1.9-17.1h0"/></defs><use href="#q32" stroke="#868686" stroke-width="2.4"/><use href="#q32" stroke="#cacaca" stroke-width="1.6"/><defs><path id="q33" d="m386.4 418h0m.1 71.9h0m0-8.9h0m.1 55.1h0m.1-9.2h0m0-7.7h0m.1-47.3h0m0 64.7h0m0-92.5h0m.1 80.8h0m0-25.8h0m0-32.3h0m.1 14.4h0m0 41.5h0m0-.3h0m0-1.4h0m0-12.7h0m.1-5.6h0m.1-27h0m0 2.8h0m0 29h0m.2 15h0m0-13.9h0m0-26.3h0m.1-49.3h0m.1 28.9h0m0 26.7h0m.2-11.5h0m0 37.2h0m.1-35.1h0m0 4.9h0m0 25.5h0m.1-80.5h0m.1 103.1h0m.1 12.4h0m.2-5.1h0m0-19.6h0m.1-60.4h0m0 70.1h0m.1 16.8h0m0-45.7h0m0-24.4h0m.1 41.8h0m0-58.9h0m.1 34.3h0m0-48.7h0m0 47.8h0m.1-18.2h0m.1 83.8h0m0-47.7h0m.1-1.4h0m.1 17.7h0m.1-98.2h0m0 117.6h0m.3-65.1h0m0 37h0m.2-20h0m0-11.8h0m.1 35.1h0m0-22.4h0m0-38.1h0m0 29h0m.3 3.7h0m0 48.7h0m0-32.2h0m.1 38.9h0m0 5.3h0m.3-27.3h0m.2 6.4h0m.4-19.8h0m.5 18.7h0m.1-52.5h0m.3 33.3h0m0-40.1h0m0-2.7h0m0 77.3h0m.1-34h0m.1-24.1h0m0 56.3h0m.2-17.8h0m.2 28.8h0m.1-46.9h0m.5 38.5h0m.1-67.5h0m.1 37.5h0m.2-12.1h0m.3 15.7h0m0-12h0m0 6h0m.6 2.6h0m.1 33.3h0m.1-24.2h0m.2-4.8h0m.2-21.9h0m.5-16.3h0m.4 52.4h0m1.9-11.1h0m.1 20.4h0m.1 16.5h0m3.3-21h0m2.1 17.3h0m.1 1.5h0m11.6 2.1h0m22.7 .3h0"/></defs><use href="#q33" stroke="#868686" stroke-width="3.2"/><use href="#q33" stroke="#cacaca" stroke-width="2.4"/><defs><path id="q34" d="m390.5 550h0m2.9 8.5h0m4.8-5h0m.4 9.5h0m2.4-7.4h0m4.8 4.4h0m.4-16h0m6.6-26.5h0m2 31.4h0m.6 10.9h0m.1-2h0m11.8 2.9h0m5.1 .7h0m3.2 1.3h0m.7-2h0m1.6 1.5h0m2.1-3h0m9.7 3.9h0m8.9-3h0m5 1.8h0m2.1-3.3h0m15.1 1.9h0m3.8 .7h0m8.1 .8h0m5.7 1.1h0"/></defs><use href="#q34" stroke="#868686" stroke-width="4"/><use href="#q34" stroke="#cacaca" stroke-width="3.2"/><defs><path id="q35" d="m386.4 485.4h0m.1 9h0m.1-6.5h0m.1 57.3h0m0-72.2h0m.1-8.4h0m0 76.6h0m0-4.8h0m.1-68.1h0m0 26.9h0m0 46.2h0m0-58.6h0m0 50.1h0m.1-119.6h0m0 61.4h0m0 43.8h0m.1 38.6h0m0-109.8h0m0 82.9h0m.1-32.3h0m0-65.4h0m0 92h0m.1-64h0m.1 91.8h0m0-11h0m.2-1.8h0m.1-2.3h0m0-75.8h0m0 59.6h0m.1 17.9h0m0-77.6h0m0 43.5h0m.1-43.6h0m.1-6.1h0m0-28.5h0m.1 27.1h0m0 26.8h0m0 44.8h0m.2-73.9h0m0 59.8h0m0-6.2h0m.2 2.6h0m.1-45h0m0-9.6h0m0 56.3h0m.1 11.6h0m.1 37.3h0m.2-141.1h0m.1 99h0m.1-23.5h0m.1 36.1h0m0-11.9h0m0-39.1h0m.3-24.9h0m0-25.9h0m.1 48.8h0m.1 66.6h0m.1-60.4h0m0 20.6h0m0 27.5h0m.1 7.4h0m.1-71.3h0m.1 1.2h0m.2-24.1h0m.1 62.5h0m.1 43.7h0m.1-98.4h0m.1 85h0m0 16.1h0m.1-22h0m0-16.8h0m0 36h0m0-42.7h0m0-20.2h0m.3 5.8h0m0 55.4h0m.1-29.3h0m0-41.7h0m.6 68.5h0m.5 14h0m0-78.8h0m.2 60.3h0m.3-46.5h0m0 33h0m0-38.6h0m.1 51.1h0m.5 6.5h0m.7-7.7h0m.1-37.9h0m0 13.8h0m.1 22.3h0m.4 17.7h0m.4 3.4h0m.3-30.1h0m0 16.6h0m.5-22.1h0m.2 4.9h0m.7 20.1h0m.5-10.8h0m2.4 5.8h0m.6-3.4h0m2 23.4h0m6.5-5h0m9.4-1.7h0"/></defs><use href="#q35" stroke="#868686" stroke-width="3.2"/><use href="#q35" stroke="#cacaca" stroke-width="2.4"/><defs><path id="q36" d="m386.4 457.7h0m.1-.3h0m.1 1.1h0m0 34.7h0m.1 13.2h0m0 37.6h0m.1-44.1h0m0-39.9h0m0 31.8h0m0-28.2h0m.2 52.3h0m0 2.5h0m0-37h0m0-2.4h0m.1-47.4h0m0 116h0m.3-17.3h0m0-13.6h0m0-85.4h0m0 50.6h0m.1 31.3h0m0-17.3h0m.1 50.4h0m0-22.6h0m0 8.2h0m.1-39.1h0m.1-17.2h0m0 38.1h0m0-52.7h0m0 45.6h0m0-22.2h0m.1-16.7h0m0 57.7h0m.1-12.4h0m0-28.1h0m.1-62.6h0m.1 74.9h0m0 2.7h0m.1 35.2h0m0 15.3h0m.1-95.8h0m.1 24.9h0m0 51.6h0m.2 8.3h0m.1-40.8h0m.1 57.5h0m0-33h0m.1-10.7h0m0-73.4h0m.1-2.1h0m0 64.9h0m.1-43.8h0m0-22.6h0m0 16.2h0m.1 13h0m.2 16.2h0m.2 66h0m0-30.3h0m0 35.5h0m.1-23.5h0m0 15.9h0m.4-21.9h0m0 37.6h0m.1-113.4h0m.1 33.5h0m.1 11.7h0m.1-79.8h0m0 109.7h0m0 30.7h0m.1-87.7h0m.1 55.3h0m0-25.1h0m.1-13.8h0m0 1h0m0 11.4h0m.1 9.4h0m0 26.2h0m0-60.6h0m.1 81.9h0m.2 6.3h0m.1-1h0m.2 .4h0m.1-2.7h0m0-42.6h0m.1-29.6h0m.2 27h0m0-6.2h0m.1 29.9h0m.9 1.5h0m0 10.2h0m1.5-23.4h0m.2-24.6h0m.2 55.3h0m.5-12h0m.1-8.5h0m3 8.4h0m0-28.5h0m1.5 48.9h0m.6-7.4h0m.1-28.2h0m9.3 33.5h0m6.7-4.1h0m19 5.6h0"/></defs><use href="#q36" stroke="#868686" stroke-width="2.8"/><use href="#q36" stroke="#cacaca" stroke-width="2"/><defs><path id="q37" d="m386.4 491.2h0m.1 14.3h0m0 23h0m0-80.1h0m.1 102h0m0-57.1h0m0-37.6h0m0 30.5h0m.1-11.9h0m0 56.9h0m0-.2h0m0-31.8h0m.1 2.4h0m0-18.5h0m.1 57.3h0m.1-32.3h0m0 45.4h0m0-74.3h0m.1-9.3h0m.1-9.4h0m0 .6h0m.1-21.7h0m.1 3.3h0m0 47.6h0m0-2.2h0m.1 19h0m.1 18h0m0-77.2h0m0 94.2h0m.1-120.6h0m.1 134h0m.1-35.3h0m.1-30h0m.1 36.4h0m0-26.8h0m0-18.9h0m.1-14.2h0m0 13.7h0m0 4.9h0m.2-38.3h0m0 83.6h0m.1 4.7h0m0-52.4h0m0-19.4h0m0 53.7h0m.1-41.7h0m0-27.4h0m.1 68.3h0m.2-65.4h0m.1-12.3h0m.1 79.8h0m0-106.3h0m0 92.4h0m0-29.9h0m.1-49.5h0m.1 99.1h0m.2-98.6h0m0 117.6h0m.3-1.6h0m0-134.8h0m.1 152.7h0m.1-19.7h0m.1-40.3h0m.2 4.1h0m0 16.5h0m0-52.7h0m.3 84.9h0m.2-128.3h0m.2 81.3h0m0-8.6h0m.1 47.5h0m.1 12.6h0m.2-14.6h0m.3-7h0m0-57.6h0m.1 58.1h0m.2-16h0m.2 6.5h0m.2 9h0m.1-31.1h0m0 37h0m0-14h0m.4-36h0m.2 27.2h0m.2-18.4h0m.4 8.7h0m.1 30.4h0m.1-45.9h0m.2 29.7h0m.2-28.6h0m.3 42.4h0m.2-23h0m.7-2.8h0m.4 32h0m.1-18.3h0m1 6.4h0m.3 13.1h0m.4-10.6h0m.3 20.3h0m.5-4.2h0m.8 13.4h0m4.9-12.2h0m16.5 9.2h0m12.3-2.4h0"/></defs><use href="#q37" stroke="#868686" stroke-width="3.2"/><use href="#q37" stroke="#cacaca" stroke-width="2.4"/><defs><path id="q38" d="m386.4 495.9h0m0-49h0m.1-11.3h0m0 102.6h0m.1-107.8h0m0 126.6h0m0-38.8h0m0-63h0m.1 16.6h0m0 86.6h0m0-123.7h0m.1 40.2h0m0 5.6h0m0 21.2h0m0-66.2h0m.2 10.9h0m0-3.4h0m.2 12.4h0m0 4.8h0m0 60.8h0m.2-55.6h0m0 75.6h0m0-100.3h0m0 9.2h0m.1 55.2h0m0 6.4h0m0 29h0m.1-48.6h0m.1-22.3h0m.2 39.7h0m0-59.4h0m.1 19.6h0m0 32.4h0m0 14.7h0m.1-49.7h0m0 91.3h0m0-12.7h0m0-59.6h0m.1-5.7h0m0-13.5h0m0 42.1h0m0-35.9h0m0 24.3h0m.1-35.5h0m0 34.7h0m0 42.9h0m.2-53.5h0m0-18.4h0m0 47.3h0m.1-18.9h0m0 49.9h0m0-14.4h0m.2-43.5h0m0 47.9h0m0 3.4h0m0 7.1h0m.1-101.9h0m0 27.5h0m.1 4.7h0m0 16.4h0m0-9.2h0m.1 27h0m.2-32.7h0m.2 83.6h0m.1-16.5h0m0-13.8h0m0-1.7h0m.2-10.7h0m.1-65.3h0m.1 101.1h0m0-98.2h0m.2 71.9h0m.1-71.9h0m.3 93.8h0m.1 .8h0m0-57.9h0m.2 17.1h0m0 37.8h0m.2-4.8h0m0-26.8h0m.1 27h0m.1-130.8h0m0 79h0m.3 36.2h0m.3-1.1h0m.1-61.2h0m.3 74.6h0m.3-18.2h0m.7-11h0m.1-19.5h0m.3 62.7h0m1-16.9h0m.1 18.4h0m.2-10h0m.9 9.4h0m0-14.2h0m.1 4.9h0m.1-34.6h0m1.7 5.6h0m13.3 40.8h0m.6 2.4h0m2.1 1h0m1.1-1.4h0m38.5-.2h0"/></defs><use href="#q38" stroke="#868686" stroke-width="3.2"/><use href="#q38" stroke="#cacaca" stroke-width="2.4"/><defs><path id="q39" d="m386.4 537.2h0m0-35.3h0m.1-44.1h0m0 .2h0m0 75.3h0m0-57.6h0m.2-41.5h0m0 20.5h0m0 94.4h0m.1-27.2h0m.2-75.5h0m0 90.1h0m0-28.2h0m0-12.3h0m.1 14.7h0m0-31.5h0m.1-52.8h0m0 106.9h0m.1-83.6h0m0-8h0m0 25.6h0m.1 28.1h0m0-82.1h0m.1 105.8h0m0-2.2h0m.1-67.1h0m.1 14.3h0m.1-14.8h0m0 35.3h0m0 69h0m.1-59.5h0m.1-17.4h0m.1 12.1h0m0-68.4h0m0 97.6h0m.1-20.6h0m0-7h0m.2 34.3h0m0-84.7h0m.1 65.6h0m0 26.9h0m0 18h0m.2-63.2h0m.1-2.4h0m.3-6.7h0m0 40h0m0 36.1h0m0-12.6h0m.1-53.8h0m0-5.3h0m.1-1.3h0m.1 75.6h0m0-83.3h0m.1 41.9h0m0-33.3h0m.2 38.6h0m0-13.9h0m.2 55.6h0m0-20.3h0m.1-31.3h0m.1-8.5h0m0-50.2h0m.1 42.3h0m0-14.8h0m.2-1.3h0m0 8.8h0m.2 55.9h0m0-69.3h0m.3 24.5h0m0 59.4h0m.1-27.7h0m.2-41h0m0 69.3h0m.2-50.3h0m0 10.6h0m.3 15.4h0m0-37.1h0m.1 52.5h0m0-74.7h0m.5 25.7h0m.3 41.8h0m.1-5.9h0m0 .1h0m.4 23.6h0m.1-19.6h0m.4-52.7h0m.1 68.6h0m.6-64.9h0m.1 27.5h0m.1-19.3h0m.5 55.2h0m.2-6.3h0m.2-18h0m.3 19.8h0m.8-32.6h0m0 14h0m.4-10.7h0m.6 18.6h0m4.5-7.7h0m.2 26.1h0m12.5-2.7h0m3.5-1h0m56.7 8.2h0m15.2 .4h0"/></defs><use href="#q39" stroke="#868686" stroke-width="2.8"/><use href="#q39" stroke="#cacaca" stroke-width="2"/><defs><path id="q40" d="m386.4 514.2h0m0-47.4h0m0 68.8h0m0-44.4h0m.1-28.1h0m0 45.5h0m0 35.4h0m0-1.6h0m.1-76.1h0m0 63.5h0m0-84.2h0m.1 53.4h0m.2 27h0m.2-49.8h0m.2-18.4h0m0 32.3h0m0-19.1h0m.1 72.2h0m0-119.1h0m0 4.3h0m0 29.6h0m.1-12.7h0m.1 109.2h0m.1-78h0m.1-24.4h0m0 101.5h0m0-41.8h0m.1-48.2h0m0 21.1h0m0 39.1h0m.1-96.1h0m0 70.4h0m.1-10.7h0m.2-13.2h0m.1 72h0m0-67.7h0m0 57.3h0m0-46.1h0m0 31.5h0m.1 17h0m0-.2h0m.1-119.2h0m0 104.2h0m.1-46.4h0m0 8.5h0m.1-15.4h0m0-20.1h0m.1 17.7h0m0-25.1h0m0 56h0m0 36.3h0m.1-29.7h0m0 8.4h0m.1-47.5h0m.1 55.1h0m.3-8.8h0m.1 9.3h0m.1-41.3h0m.2-4h0m.1 19.9h0m0-12.8h0m.1 63.4h0m.1-27.3h0m.1-23.6h0m.3 31.1h0m0 18h0m0-103.2h0m.1 78.1h0m.1-23.8h0m0 20.4h0m.1-7.6h0m.2-4h0m0-88h0m.3 79h0m.1 12.7h0m.4 35.2h0m.1-6.4h0m.1-4.6h0m.1-31.7h0m.4 12.6h0m.9-37.6h0m0 83.4h0m.6-24.7h0m.1-11.3h0m.1 10.6h0m.1-38.5h0m.4 53.2h0m.1-28.3h0m.8 23.7h0m.5-26.1h0m.4 35.2h0m.1-40.2h0m.4 15.5h0m.1 18h0m.7-37.3h0m.3 29.1h0m.9 11.7h0m.6 10.1h0m.3-19.3h0m.4-20.6h0m11.1 35.7h0m6.6 7h0m20.1-.4h0m46.3 .2h0"/></defs><use href="#q40" stroke="#868686" stroke-width="2.8"/><use href="#q40" stroke="#cacaca" stroke-width="2"/><defs><path id="q41" d="m390.2 561.4h0m3.2-5.5h0m.2 6.1h0m.2-3.4h0m.3 4.5h0m.6-1.2h0m2.6-1.4h0m.4-2h0m.2 1.2h0m1-8h0m3.4 6.4h0m3-11.8h0m1.6 11.8h0m1-6.3h0m2.5 8.2h0m2.9-10.6h0m1.2-.8h0m1 7.9h0m1.1 5.1h0m.1-7.6h0m1.1 5.7h0m2.7 2.3h0m1.6-.8h0m2.5-4.3h0m1.4 1.2h0m2.1 3.4h0m5.9-2.2h0m1.3 1.2h0m0 0h0m.9 2.4h0m.8-4.9h0m1.1 2.1h0m6.4 2.1h0m0-1.1h0m3.4 1.2h0m7.7-4.6h0m5.3 2.2h0m3-.7h0m14.9 3.3h0m10.6-1.5h0m5.8 1.5h0"/></defs><use href="#q41" stroke="#868686" stroke-width="4.4"/><use href="#q41" stroke="#cacaca" stroke-width="3.6"/><defs><path id="q42" d="m386.4 549.1h0m0-86.6h0m0-1.9h0m.1-7.3h0m0 16.3h0m.1 68.9h0m0-8.6h0m0-81.7h0m0 29.5h0m0 7.8h0m.1-40h0m0 113.9h0m.1-95.9h0m0 59.5h0m0-94.5h0m0 72h0m0-39h0m.1-1.1h0m0-32.4h0m0 75.9h0m.1 58.6h0m0-110.4h0m.1 35h0m0 28.4h0m0-17.8h0m0-42.7h0m.1 31.6h0m.1 44.8h0m0-41.3h0m.1-19.9h0m0-25h0m0 93.5h0m0-75.5h0m0 34.1h0m.1 28.3h0m.1-13.2h0m.1-51.1h0m0-16.9h0m0 92.3h0m.1-74.5h0m0 77.8h0m.1 .2h0m.2-10.6h0m.1-44.6h0m0 12.6h0m0-75.4h0m.1 74.7h0m0-37.2h0m0 56.7h0m.1 12h0m.2-55h0m0 33.2h0m.1-96.7h0m0 86.8h0m.1-23.3h0m0 31.5h0m0 50.3h0m.2-114.1h0m0 2.2h0m0 37.7h0m.2-7.1h0m0 85h0m.1-34.9h0m0-62.5h0m0 74.3h0m.1-40.3h0m0 48.7h0m.1-3.6h0m0-84.1h0m0 49.1h0m.1-97.7h0m.1 119.8h0m0 22.4h0m.1-79.1h0m.2 8.8h0m.1-15.2h0m0 22.5h0m.2 30.9h0m.3-2.7h0m.1 11.7h0m.1 9.2h0m0-8.9h0m.1 5.9h0m.1 9.8h0m.1-46.6h0m0-11.9h0m0-37.4h0m.1 57.9h0m.1 15.5h0m.1 32.4h0m.2-8.9h0m.3-32.3h0m.1 9.7h0m.3 27.6h0m.3-55h0m.6 49.9h0m.2-17.1h0m.2 16h0m.2-10.1h0m.3 21.4h0m.2-14.1h0m.2-6.2h0m.4-28.1h0m.8 25.8h0m.3-17.4h0m.7 15.4h0m.2 25.1h0m.8-8.6h0m.3-1.9h0m.1 2.3h0m.9-23.4h0"/></defs><use href="#q42" stroke="#868686" stroke-width="2.4"/><use href="#q42" stroke="#cacaca" stroke-width="1.6"/><defs><path id="q43" d="m389 550.7h0m1.3 6.9h0m2.1 4.7h0m1.6-2.1h0m8.7-3h0m1.2 4.7h0m3.4-43.6h0m8.9 41.3h0m13.1-1h0m6.2-16.7h0m1.7 20.6h0m1-1h0m4.7-1.3h0m.6 0h0m.5 1.3h0m15.5 1.6h0m10.1-1.7h0m8.8 1h0m7.3-1.8h0m7 1.7h0"/></defs><use href="#q43" stroke="#868686" stroke-width="5.2"/><use href="#q43" stroke="#cacaca" stroke-width="4.4"/><defs><path id="q44" d="m386.4 476.4h0m.1 14.3h0m0 18.4h0m0 17.8h0m0-35.5h0m.1 49h0m0 11.9h0m0-25.5h0m0-34.5h0m.1-52.1h0m0-2.2h0m0 41.8h0m.1-33.3h0m0 53.5h0m.1 34.4h0m0-38.7h0m0-15.9h0m0 7.2h0m.1-24.2h0m.1 17h0m0-8.1h0m0 75.7h0m.1-99.2h0m0 104.2h0m.1-34.9h0m.1 19.4h0m.2 25.9h0m0-20.6h0m0-5.6h0m0-42.8h0m.1-72h0m.1 63.4h0m.1 9.3h0m0-56.1h0m0 111.7h0m.2-110.2h0m0 55.4h0m.1 20.3h0m0-66.8h0m.1 20.7h0m.2 74.1h0m0-37.5h0m.1-69.5h0m.1 78.8h0m.1-75.9h0m0 89.1h0m0-15.4h0m0-29.4h0m0 17.8h0m.2 39.1h0m0-52.9h0m.3-28.4h0m.1 41.8h0m.2 58.7h0m0-81.3h0m.1-15.4h0m0 53.7h0m.1 24.3h0m.1-12.3h0m0-8.4h0m.1 21.7h0m.2 16.8h0m.1-139.5h0m.1 85.3h0m0 27.3h0m.1-120.5h0m0 80.9h0m0-2.5h0m.1 71.2h0m0-34.3h0m.2-40.7h0m0-43.1h0m.1-29.4h0m.1 105.6h0m.1-57.6h0m.1 17.8h0m0 61h0m0-69.7h0m.2 59h0m0-42.4h0m.1 71.6h0m0-23.3h0m.1-28.8h0m.1-33.8h0m.2-2.6h0m0-6.9h0m.5 55.4h0m0-28.4h0m.5 44.2h0m.2-9.1h0m.1 4.6h0m.1-3.3h0m.3-8.9h0m.2-29.7h0m.2 43.8h0m.3 11.4h0m1.1 17.2h0m.4-30.9h0m.1 9.9h0m.2 20.3h0m.3-41.7h0m.2 27.4h0m2.8-6.3h0m1.9 14.6h0m8.5 .7h0"/></defs><use href="#q44" stroke="#868686" stroke-width="3.2"/><use href="#q44" stroke="#cacaca" stroke-width="2.4"/><defs><path id="q45" d="m386.4 470.5h0m0-20.1h0m.1 81.3h0m0 1.8h0m.1-10.2h0m.1-41.2h0m0-8.8h0m.1 56.8h0m0-.5h0m.1-19.7h0m0-6.6h0m0 9.3h0m0-47.3h0m.1 3.9h0m0 29.3h0m.1-31.6h0m0 22.2h0m.1-20.5h0m0 9.6h0m0-13.2h0m.2 8.4h0m0 37.9h0m0-21.9h0m.1-64.2h0m0 38.2h0m0-6.1h0m0-19.4h0m0 24.1h0m.1 57.8h0m.1-15.3h0m.1-57h0m0 67.8h0m0-36.9h0m0 60.1h0m0-23.2h0m.1-38h0m0 81.8h0m.1-42.6h0m0-42.2h0m0-58.4h0m0 111.6h0m.1-48.2h0m0-35.6h0m.1 31.7h0m0-29.1h0m.1 78.3h0m0-32.4h0m0-17.7h0m0 23.4h0m.1-45.1h0m.1-2.4h0m0 78.8h0m.1-96.3h0m0 25.1h0m.1-38.1h0m0 85.4h0m.1 .2h0m.1-33.1h0m0 43.8h0m.1-19.7h0m0-18h0m0 77.7h0m0-136.3h0m.2 21.5h0m.1 50.1h0m0 10.1h0m.1 36.9h0m.7-66.8h0m0-61.1h0m.2 93.9h0m.1-13.5h0m.1-5.6h0m0-21h0m0-27.9h0m.3 51.4h0m.1-11.9h0m0 7.6h0m0-53.6h0m.2 90.1h0m.1 25h0m.3-37.6h0m0 28.8h0m.4 17.5h0m.5-63h0m.4 46.6h0m.4 23h0m.1-68.5h0m0 33.9h0m.5 1.5h0m.2 34.8h0m.2-31.4h0m.2-34.8h0m1.1 60.8h0m.2-14.8h0m.7 13.7h0m1.7-5.4h0m1.1 2.9h0m2.3 9.6h0m12.9-.4h0m4.6-8.9h0m2.6 5h0m6.3 3.6h0m36.2 .3h0m14.5-.2h0"/></defs><use href="#q45" stroke="#868686" stroke-width="2.8"/><use href="#q45" stroke="#cacaca" stroke-width="2"/><defs><path id="q46" d="m388.2 562h0m1.8-5.2h0m1.9 3h0m4.6-4.2h0m0 2.5h0m.4 3.7h0m.7-24.6h0m9.9 20.9h0m.1 1.2h0m1.4 1.5h0m5.2-20.5h0m2.4 21.1h0m4.3 1.6h0m1.2-.5h0m1.4-3.8h0m2.4 2h0m6.4 .7h0m3.4-.1h0m4.3 .1h0m1.1-3.6h0m2.8 3.8h0m7.7 1.3h0m29.6-.5h0m7.2 .3h0m7.7-.5h0"/></defs><use href="#q46" stroke="#868686" stroke-width="4.8"/><use href="#q46" stroke="#cacaca" stroke-width="4"/></g>
<g fill="none" stroke-linecap="round"><defs><path id="q47" d="m389.4 508h0m.5 9.9h0m.2-9h0m.2 14.9h0m.8-32.4h0m.4 54.6h0m.5 4.5h0m.8-14.4h0m1.7-9.5h0m5.5 14.8h0"/></defs><use href="#q47" stroke="#a81014" stroke-width="3.1"/><use href="#q47" stroke="#c4181c" stroke-width="2.5"/><defs><path id="q48" d="m388 465.7h0m.4 52.4h0m2 37.9h0m.4-88.7h0m2.5 48.6h0m5.4-10.7h0m4.9 37.3h0m.3 12.2h0m1.1-.1h0m.2-11.9h0"/></defs><use href="#q48" stroke="#a81014" stroke-width="1.9"/><use href="#q48" stroke="#c4181c" stroke-width="1.3"/><defs><path id="q49" d="m394.3 526.6h0m.3 4.1h0m11.1 18.8h0"/></defs><use href="#q49" stroke="#a81014" stroke-width="2.3"/><use href="#q49" stroke="#c4181c" stroke-width="1.7"/><defs><path id="q50" d="m394.5 502h0m2.7 13.3h0m.6-3.4h0m2.2 38h0m1-12h0m3.3 4.2h0"/></defs><use href="#q50" stroke="#a81014" stroke-width="3.5"/><use href="#q50" stroke="#c4181c" stroke-width="2.9"/><defs><path id="q51" d="m388.6 516.7h0m1.5-23.1h0m2.3 3.1h0m.5 27.8h0m2.2 1h0m1-25.6h0m.4 .1h0m2.3 22.4h0m.5-11.1h0m2.6 15.1h0m1 12h0m15.5 20h0"/></defs><use href="#q51" stroke="#a81014" stroke-width="2.7"/><use href="#q51" stroke="#c4181c" stroke-width="2.1"/><defs><path id="q52" d="m408.7 552.9h0"/></defs><use href="#q52" stroke="#a81014" stroke-width="3.9"/><use href="#q52" stroke="#c4181c" stroke-width="3.3"/><defs><path id="q53" d="m388.4 544h0m2.2-54.4h0m0 49.4h0m.4-18.6h0m2-.1h0m4.6 3h0m1-19.8h0m.5 43.9h0m.3-10.6h0m1.2-12.8h0"/></defs><use href="#q53" stroke="#a81014" stroke-width="1.5"/><use href="#q53" stroke="#c4181c" stroke-width="0.9"/></g>
<g fill="none" stroke-linecap="round"><defs><path id="q54" d="m513.7 562.5h0m8.8 1.7h0m1.6-.7h0m.9-.1h0m.3 .2h0m.5-1.5h0m.1 .5h0m8.6-.3h0m.9 .4h0m.9 1.1h0m.6-1.2h0m.3 .6h0m.2-.4h0m1.2 .6h0m1.1 .3h0m2.5-.7h0m2.4 .6h0m.6-.7h0m.4-.2h0m.7 .8h0m1.8 .4h0m.2-.1h0m.7-1h0m1 2.1h0m.3-1.2h0m.1-2.1h0m.9 1.2h0m5.5 1h0m.7-.8h0m1.5-.5h0m1.7 .1h0m.1-.7h0m2.3 1.6h0m8.6-.4h0m1 0h0m2.3 .1h0m2.4-.3h0m.4 .6h0m1.5-1.2h0m1.1 1.3h0m.5 0h0m2.5-1.2h0m1 .2h0m1.7-.1h0m1.1 1.6h0m.1-1h0m3.1-.1h0m4.7-.4h0m.1-.6h0m3.9 .7h0m3.2 0h0m.1 .9h0m1.3-.2h0m1.8-.9h0m2.3 .7h0m.1-.8h0m3.6 .3h0m.2 .4h0m.4-.2h0m3 0h0m1.3 0h0m2.8-.3h0m2.4 .7h0m.8-.9h0m7.7 .8h0"/></defs><use href="#q54" stroke="#4a9c26" stroke-width="3.2"/><use href="#q54" stroke="#64be36" stroke-width="2.4"/><defs><path id="q55" d="m411.5 560.7h0"/></defs><use href="#q55" stroke="#4a9c26" stroke-width="2.4"/><use href="#q55" stroke="#64be36" stroke-width="1.6"/><defs><path id="q56" d="m528.1 563h0m1.2 .5h0m3.5 .3h0m1.8-2h0m3.5 .6h0m1.5 1h0m.4 .6h0m.8-.9h0m.7-.2h0m1.4-1.6h0m.4 1.7h0m2.1-.2h0m.5-.4h0m5.8 .4h0m4.1 .3h0m1.5-.9h0m.7 1.2h0m4.6-.5h0m2.4 1.3h0m.5-1.1h0m0 .3h0m.3-.7h0m6.7 .1h0m.5-.2h0m4.1 .2h0m3.1-.2h0m2.8-.3h0m0-.3h0m1.4 1.4h0m3.2-.3h0m3.8-.6h0m5.5 .4h0m6.6-.4h0m.1 .2h0m1.3-.7h0m1.6-.5h0m3.7 1.9h0m5.7 0h0m.2-.6h0m5.1 .6h0m3.9 .5h0m2.5-1.3h0"/></defs><use href="#q56" stroke="#4a9c26" stroke-width="2.8"/><use href="#q56" stroke="#64be36" stroke-width="2"/><defs><path id="q57" d="m515.3 562.6h0m2.4 .7h0m1.3-.9h0m2.3 .7h0m1.7-.2h0m2.7 .4h0m.2-1.6h0m5.5 .6h0m.1 .8h0m8.1 .2h0m.8 .4h0m2.2-.7h0m.2 .1h0m3.6-.3h0m0 .7h0m.3-1.3h0m6.3 1.3h0m3.9-.4h0m.6-.5h0m1.4 1.3h0m1-.9h0m3.5 .4h0m4 0h0m2.1-1.7h0m.3 .6h0m3 .3h0m3 .6h0m.4-1.1h0m2.8 .1h0m.8 1.5h0m1.5-.8h0m.1-.2h0m1.5 .2h0m0 1.2h0m1.5-.6h0m3.1-.9h0m1.7 .3h0m3.7-.6h0m.3 .6h0m.5 .9h0m1.8-.3h0m4.6 .2h0m.4-.4h0m1.8-1.1h0m1.1 1.2h0m3.3-.4h0m.6 .5h0m2.2-.4h0m1.5-.8h0m3.2 1.2h0m.5-.5h0m4.4-.8h0m2 .6h0"/></defs><use href="#q57" stroke="#4a9c26" stroke-width="4"/><use href="#q57" stroke="#64be36" stroke-width="3.2"/><defs><path id="q58" d="m636.4 563.1h0"/></defs><use href="#q58" stroke="#4a9c26" stroke-width="4.4"/><use href="#q58" stroke="#64be36" stroke-width="3.6"/><defs><path id="q59" d="m388 412.3h0m110.4 149.2h0m25.5 1.5h0m2.1-4.6h0m.9 4.7h0m2.1 .5h0m1.4-1.9h0m.9 .9h0m3.4 1.4h0m4-2.2h0m1.5 1.5h0m1.6-.3h0m1.8-.2h0m1.8-.7h0m.5 .8h0m3.3 .4h0m.8-.5h0m2.3 .2h0m.8 .1h0m1.8 .2h0m.3-.2h0m2.1 0h0m.3-.3h0m.6-.6h0m.4 .4h0m1.9-.3h0m.5 .2h0m14.1 .4h0m.2-.1h0m1.4-1.4h0m1.3 .7h0m2.4 2.2h0m1.9-2.6h0m3 1.3h0m2.7 .3h0m.7 .2h0m4.8-.6h0m.3 .5h0m.1-.3h0m2.4-.1h0m2.3 .1h0m1.6-.5h0m.5 1.1h0m3-.5h0m1.9-.6h0m1.4 .6h0m7.2 1.1h0m1.4-2.1h0m4.7 1.7h0m7.8-1.1h0m2.8 .5h0m.9-1.6h0m2.4 .5h0"/></defs><use href="#q59" stroke="#4a9c26" stroke-width="3.6"/><use href="#q59" stroke="#64be36" stroke-width="2.8"/></g>
<g class="bl"><circle cx="503" cy="563.3" r="1.9"/><circle cx="560.3" cy="563.3" r="1.9"/></g>
<path d="M396.7 397.3V572.8" stroke="#333" stroke-width="1.1" stroke-dasharray="1 0.8" fill="none"/>
<path d="M399.8 397.3V572.8" stroke="#222" stroke-width="1" fill="none"/>
<path d="M375.3 527.1H677.3" stroke="#333" stroke-width="1.1" stroke-dasharray="1 0.8" fill="none"/>
<path d="M375.3 542.9H677.3" stroke="#a6a6a6" stroke-width="1.8" fill="none"/>
<text transform="translate(394.2 432.2) rotate(-90)" font-size="5.6" text-anchor="middle" fill="#222" textLength="57.5" lengthAdjust="spacingAndGlyphs">AVG([X])+(3*STD([X]))</text>
<text transform="translate(405.2 432.2) rotate(-90)" font-size="5.6" text-anchor="middle" fill="#222" textLength="57.5" lengthAdjust="spacingAndGlyphs">AVG([X])+(2*STD([X]))</text>
<text x="615.3" y="521.5" font-size="5" fill="#222" textLength="56.4" lengthAdjust="spacingAndGlyphs">AVG([Y])-(2*STD([Y]))</text>
<text x="615.3" y="537.9" font-size="5" fill="#222" textLength="56.4" lengthAdjust="spacingAndGlyphs">AVG([Y])-(3*STD([Y]))</text>
<rect x="473.4" y="550.6" width="28.1" height="8.1" fill="#fff" stroke="#c8c8c8" stroke-width="0.7"/>
<text x="487.4" y="556.8" font-size="6" fill="#222" text-anchor="middle" textLength="22.6" lengthAdjust="spacingAndGlyphs">EBSELEN</text>
<rect x="560.6" y="549.8" width="78.4" height="8.4" fill="#fff" stroke="#c8c8c8" stroke-width="0.7"/>
<text x="599.8" y="556.1" font-size="6" fill="#222" text-anchor="middle" textLength="72.9" lengthAdjust="spacingAndGlyphs">RepSox;E-616452;SJN 2511</text>
<circle cx="606.3" cy="406.5" r="3.8" fill="#4fd06c"/>
<text x="614.2" y="409.6" font-size="9" fill="#1a1a1a" font-weight="bold" textLength="17.0" lengthAdjust="spacingAndGlyphs">-DOX</text>
<circle cx="606.3" cy="418.5" r="3.8" fill="#e0454c"/>
<text x="614.2" y="421.6" font-size="9" fill="#1a1a1a" font-weight="bold" textLength="18.0" lengthAdjust="spacingAndGlyphs">+DOX</text>
<circle cx="606.3" cy="431" r="3.8" fill="#a9a9a9"/>
<text x="614.2" y="434.1" font-size="9" fill="#1a1a1a" font-weight="bold" textLength="63.1" lengthAdjust="spacingAndGlyphs">+DOX + compound</text>
<text transform="translate(359.4 489.0) rotate(-90)" font-size="12.4" text-anchor="middle" fill="#222" textLength="43.4" lengthAdjust="spacingAndGlyphs">M-quant</text>
<text x="524.4" y="600.2" font-size="12.4" text-anchor="middle" fill="#111" textLength="39.0" lengthAdjust="spacingAndGlyphs">E-quant</text>
<text x="17.9" y="626.5" font-size="12" textLength="8.4" lengthAdjust="spacingAndGlyphs">E.</text>
<rect x="56.7" y="627.4" width="270.5" height="157.6" fill="#fff"/>
<path d="M67.2 627.4V785M96.4 627.4V785M125.6 627.4V785M154.8 627.4V785M184.0 627.4V785M213.2 627.4V785M242.4 627.4V785M271.6 627.4V785M300.8 627.4V785M56.7 778.1H327.2M56.7 765.0H327.2M56.7 752.0H327.2M56.7 738.9H327.2M56.7 725.8H327.2M56.7 712.8H327.2M56.7 699.7H327.2M56.7 686.6H327.2M56.7 673.5H327.2M56.7 660.5H327.2M56.7 647.4H327.2M56.7 634.3H327.2" stroke="#ececec" stroke-width="0.7" fill="none"/>
<g font-size="5.6" fill="#444" font-weight="bold"><text x="67.2" y="792.6" text-anchor="middle">0</text><text x="96.4" y="792.6" text-anchor="middle">20000</text><text x="125.6" y="792.6" text-anchor="middle">40000</text><text x="154.8" y="792.6" text-anchor="middle">60000</text><text x="184.0" y="792.6" text-anchor="middle">80000</text><text x="213.2" y="792.6" text-anchor="middle">100000</text><text x="242.4" y="792.6" text-anchor="middle">120000</text><text x="271.6" y="792.6" text-anchor="middle">140000</text><text x="300.8" y="792.6" text-anchor="middle">160000</text><text x="53.7" y="780.1" text-anchor="end">0</text><text x="53.7" y="767.0" text-anchor="end">100000</text><text x="53.7" y="754.0" text-anchor="end">200000</text><text x="53.7" y="740.9" text-anchor="end">300000</text><text x="53.7" y="727.8" text-anchor="end">400000</text><text x="53.7" y="714.8" text-anchor="end">500000</text><text x="53.7" y="701.7" text-anchor="end">600000</text><text x="53.7" y="688.6" text-anchor="end">700000</text><text x="53.7" y="675.5" text-anchor="end">800000</text><text x="53.7" y="662.5" text-anchor="end">900000</text><text x="53.7" y="649.4" text-anchor="end">1000000</text><text x="53.7" y="636.3" text-anchor="end">1100000</text></g>
<g fill="none" stroke-linecap="round"><defs><path id="q60" d="m67.8 735.3h0m.4 11.8h0m.8-8h0m0 5.8h0m.2 12.1h0m.2-12.6h0m.2 7.4h0m.1 5.4h0m.3-25.4h0m.3 31.3h0m.4-31h0m0 18.3h0m.2-20.7h0m.5 35.7h0m0-39.6h0m.2 20.7h0m.3 1.5h0m0 6.9h0m0-2.8h0m.2-4.1h0m.1-42.2h0m.3 69.4h0m0-6.8h0m.1-28.2h0m.1 13.3h0m0-.3h0m.3-12.4h0m.1 30.4h0m.5-57.7h0m.1 20.3h0m0 35.8h0m.2-85.8h0m.1 77.5h0m.4-60.6h0m.1 62.5h0m.2-29.4h0m0-10.4h0m.4 21.4h0m0-19.3h0m.3 9.8h0m.6-7.1h0m.1 1.6h0m.8 6.2h0m0 .1h0m.6 34.2h0m.7-32.9h0m.1 25h0m.4-44.1h0m.1 55.4h0m1.1-3.9h0m.4-5.1h0m.9-11.6h0m.9-11h0m1.1 5.4h0m.5 27.5h0m.6-10.2h0m1.9-23.5h0m.7 6.7h0m.7 7.1h0m5.1-26.6h0m4.5-6.4h0m2 28.1h0m.5-1.8h0m1.1 12.7h0m10.2 17h0m5.1-51h0m96.2 12.2h0"/></defs><use href="#q60" stroke="#8f8f8f" stroke-width="4.5"/><use href="#q60" stroke="#cdcdcd" stroke-width="3.5"/><defs><path id="q61" d="m69.3 748.9h0m0-28.8h0m0 15.4h0m.3 38.2h0m0-56.3h0m.3 53.9h0m0-38.2h0m.3 2h0m.1-17.2h0m.3 32.8h0m.1-20.6h0m0 11.4h0m.3 26.5h0m.1-35.2h0m0 10h0m.1-15.8h0m.1 11.9h0m0 33.6h0m.5-38h0m.1 7.4h0m.1-27.6h0m.3 55.6h0m.1-36.4h0m0-8.5h0m2.1 36.4h0m0 9.4h0m.3-9.7h0m1-18.5h0m.3 24.2h0m.1-37h0m.6 7.9h0m.3 27.6h0m.2-15.9h0m.2 26h0m.2-28.3h0m.6-25.4h0m.1-11.5h0m.1 34.3h0m.2 9.6h0m0 9.1h0m.7-14h0m.9-11.8h0m.1-22.2h0m1.5 43.7h0m.2-9.6h0m.4 13.8h0m.8-2.1h0m2-16.2h0m0-14.8h0m3 .4h0m3.3 13.5h0m.6 12.6h0m9-38.7h0m0 36.4h0"/></defs><use href="#q61" stroke="#8f8f8f" stroke-width="5.2"/><use href="#q61" stroke="#cdcdcd" stroke-width="4.3"/><defs><path id="q62" d="m67.6 748.4h0m.5-6.1h0m.1 19.9h0m.3-56.4h0m.7 64.5h0m.4 5.7h0m.6-55.4h0m.3 24.1h0m.1 27.4h0m.5-33.5h0m.6-4.7h0m.1-.9h0m.2-7.6h0m1 31h0m.2-56.7h0m.2 77.2h0m0-10.4h0m.2 2.4h0m.2-22.6h0m.1 29.3h0m.1-9.3h0m.2-13.7h0m.8 18.3h0m.2-34h0m.5 22.6h0m0-1.2h0m.2-11.3h0m0-3.6h0m1 31h0m0-33.3h0m.6 14.3h0m.3-26.3h0m.4 29.4h0m.3 5.7h0m0-3.7h0m.3-15.7h0m.2 5.3h0m0 21.2h0m.2-26.2h0m0-28.3h0m0 32.9h0m.4 3.8h0m0-3.4h0m.1-35.1h0m.5 15.4h0m.2 11.7h0m.6 8.5h0m.3-27.1h0m1.1 35.8h0m.1-9.4h0m.4-7.1h0m.2-82h0m.7 73.8h0m1.3 15h0m1.2-19.8h0m.5 24h0m1.4 .8h0m.6-19h0m6.9 21.6h0m1.9-21.4h0m.4-7.3h0m2 25.4h0m3 2.6h0m12.4-18.3h0m2.9-12.4h0m90.1 25.7h0m10.8 5.2h0"/></defs><use href="#q62" stroke="#8f8f8f" stroke-width="4.5"/><use href="#q62" stroke="#cdcdcd" stroke-width="3.5"/><defs><path id="q63" d="m68.3 751h0m.1-45.4h0m.2-42.1h0m0 24.8h0m.3 83h0m.7-62.3h0m.5 31.5h0m.2-17h0m.3 53.5h0m.1-3.2h0m.2-37.6h0m.5 10.2h0m0-34.4h0m.5-.5h0m0 65.3h0m.1-33.4h0m.1 30.7h0m.1-34.1h0m.3-3.7h0m.1 20.2h0m.1 14.1h0m.5-24.7h0m.2 29.2h0m.3-13.1h0m.1 6.3h0m1.3-48.5h0m0-17.7h0m0 27.1h0m.5 15.6h0m.2-24.8h0m.6-18.6h0m.6 39.4h0m.2 9.4h0m0 13.5h0m.1-15.9h0m1 17.8h0m0-2.2h0m.1 10.7h0m.3-69.1h0m.7 73.6h0m.3-11.6h0m.5-58.5h0m.7 25h0m.3 7.9h0m.6-4.2h0m.5 27.9h0m.4-42.8h0m.3-2.6h0m.1 52.3h0m.4-16h0m2.1-21.5h0m.1-1.8h0m1.2-42.2h0m.7 62.7h0m.5-23h0m.3-12.6h0m.3 29.3h0m1.9 1.5h0m1-10.6h0m2.1-19.8h0m3.5 3.2h0m3.7 8h0"/></defs><use href="#q63" stroke="#8f8f8f" stroke-width="4.9"/><use href="#q63" stroke="#cdcdcd" stroke-width="4"/><defs><path id="q64" d="m68.5 757.3h0m.1-31h0m.4 51h0m.2-3.6h0m.2-28.6h0m0-11.7h0m0 7.8h0m.1 7.1h0m.1 22.1h0m.6-35h0m.1-16.8h0m.6 51.9h0m.1-59.8h0m.1 2.5h0m.5 27.5h0m.2 22h0m.7-12.2h0m.3-13.1h0m0 19.4h0m.3-38.7h0m.1 55.5h0m.5-45.8h0m.2 10.2h0m.2-2h0m.1 30.8h0m.5-6.4h0m0-9.7h0m.1-3.2h0m.6 14.1h0m.1 13.6h0m2-21.1h0m.1-3.9h0m.5 21.7h0m.2-6.1h0m.1-.6h0m.3-36h0m0 5h0m.6 23h0m.2-27.5h0m.2 8.4h0m.4-25.2h0m1.3 42.5h0m.1-4h0m.9 10.2h0m0-22.6h0m1.5 8.5h0m.2 8.2h0m.6-17h0m3.2-8.5h0m4-2.5h0m.5 21.3h0m4.2-23.6h0m2.6-1.9h0m0 12.1h0"/></defs><use href="#q64" stroke="#8f8f8f" stroke-width="5.2"/><use href="#q64" stroke="#cdcdcd" stroke-width="4.3"/><defs><path id="q65" d="m67.7 737.1h0m.3 17.1h0m1.1-97.5h0m1.2 91h0m.6-23.5h0m.2-14.8h0m.2 49.8h0m.2-12.7h0m.2-13.7h0m1.7 16.2h0m.1 26.1h0m.1-47h0m.1 13.6h0m.1-15.9h0m.2 21h0m0-20h0m.1 43.6h0m0-8.4h0m.1-36.7h0m.1-8.1h0m.1 24.1h0m0 9.1h0m.7-41.5h0m0 11.5h0m.1-2.3h0m.3 29.3h0m.6-38.5h0m.3 47.3h0m.1-31.4h0m0 46.3h0m.1-3.9h0m.2-23.3h0m.1 12.6h0m.4-17.3h0m.2-2.1h0m.6 13.4h0m1 7.8h0m.3-21.7h0m.4-7.5h0m.5-4.2h0m.3-16.4h0m.2 31.4h0m.1-2.9h0m.2 26.7h0m.1-97h0m.4 61.8h0m.3 23.4h0m.5 2.9h0m0-6.1h0m.3-13.6h0m.2 9.3h0m.4-25.5h0m.5 2h0m.2 18.5h0m.4-14.5h0m0 14.7h0m1.8 .1h0m3.9 16h0m2.3-35h0m4.3 13.6h0m1 4.2h0m3.3 5.1h0"/></defs><use href="#q65" stroke="#8f8f8f" stroke-width="4.9"/><use href="#q65" stroke="#cdcdcd" stroke-width="4"/><defs><path id="q66" d="m68.2 755.2h0m.1 21.3h0m1.4-26.1h0m.2 5.9h0m0-12.2h0m.4 17.5h0m.6-29.8h0m.3 44.2h0m.5-14.5h0m.1-33h0m.3 31.9h0m.1-12.3h0m0-3.5h0m.7-8.7h0m.1-3h0m.4 26.3h0m.2 11.3h0m.6-6.6h0m.1 5.2h0m.1-2.6h0m.1-28.3h0m0 6.6h0m.1 26.7h0m1-49.4h0m.3 34.6h0m.1 5.1h0m.3-6.1h0m.5-45.3h0m.2 32.4h0m.1-10.2h0m.3 16.4h0m.4 10.5h0m0-26.8h0m.3 18h0m.4-27.2h0m.3-69.1h0m.3 88.6h0m.2 28.1h0m.5-8.6h0m.7 12h0m.1-40h0m1.3 31.4h0m.7-8.9h0m2-30.3h0m.1 10.3h0m3.8 16.9h0m0-23h0m3.3 14h0m2.6-14.7h0m1.6 8.9h0m.1-8.1h0m1.7-10h0"/></defs><use href="#q66" stroke="#8f8f8f" stroke-width="4"/><use href="#q66" stroke="#cdcdcd" stroke-width="3.1"/><defs><path id="q67" d="m68.2 688.8h0m.2 72.2h0m.6-19.5h0m0 5.3h0m.6 5.1h0m.1 2.5h0m.1-7.7h0m.2 30.7h0m.1-53.4h0m.1-5.6h0m0-57.9h0m.2 101.2h0m.3-12.1h0m0 1.3h0m.2-3.3h0m.2 3.5h0m0-42.6h0m.3 61.8h0m0-16.5h0m.1 14.3h0m.1 1.6h0m.3 2.4h0m.1-21.2h0m.2 18h0m.3-6.7h0m.3-22h0m0 12.4h0m.3 1.4h0m.1 15.7h0m0-22.5h0m.1-17.1h0m.4 18h0m.3-21.3h0m.3 10.4h0m.3 15.1h0m.6-32h0m.5 47h0m0-.5h0m.3-25.8h0m.4 21.6h0m.1 9.2h0m1-22.3h0m.2 23.3h0m0-5.3h0m.1-6.3h0m.3-44.5h0m.4 18.7h0m.2-32.6h0m.3 40.7h0m1.9 14.9h0m1.5 .4h0m1.4 19.1h0m2.6-25h0m.1-88.8h0m.2 74.8h0m.7 20.3h0m0-64.5h0m.8 35.5h0m.6 15.3h0m3.9-5.7h0m1-9.9h0m.3 18.2h0"/></defs><use href="#q67" stroke="#8f8f8f" stroke-width="4.9"/><use href="#q67" stroke="#cdcdcd" stroke-width="4"/><defs><path id="q68" d="m68.2 742.9h0m.2-23h0m.4 21.9h0m.2 10.4h0m.2 19.8h0m.2-31.6h0m.1 21.9h0m.1-57.8h0m.3 40.5h0m0-6.3h0m.1 28.1h0m.5-15.8h0m.4 1.3h0m.1-27.6h0m.1 20.7h0m.2-11.8h0m.4-2.4h0m.5 20.4h0m0 5.7h0m.4-21.7h0m.1 26.8h0m.1 14.8h0m0-39.4h0m0 6.5h0m.3 13.1h0m.3 13.3h0m.2-46.6h0m.4 34.9h0m.7-24.3h0m0 29h0m.2 1.4h0m0-42.1h0m.6 6.7h0m0 32.7h0m.4-76.5h0m.1 84.7h0m.4-40.7h0m.4-.1h0m.1-70.1h0m.3 91.2h0m.1 20.2h0m.4-11.1h0m.2-9.8h0m0-19.4h0m0 14.3h0m.1-7.2h0m.2 9.6h0m.3 11.1h0m.2-.8h0m.7-11.6h0m.2 5h0m4-22.9h0m1.5 13.9h0m.2 10.3h0m.3-95.2h0m.2 116.5h0m.1-40h0m.5 29.1h0m2.2-42.8h0m3.4 13.4h0m4 12.9h0m4.1 24.5h0m.7-23.8h0m7.3-9.5h0m10.9 2.6h0m16.8 8.5h0m49.6-5.8h0m12.8 .5h0"/></defs><use href="#q68" stroke="#8f8f8f" stroke-width="4.5"/><use href="#q68" stroke="#cdcdcd" stroke-width="3.5"/><defs><path id="q69" d="m67.9 667.6h0m.5 50.4h0m.5-1.1h0m.5 55.9h0m.2-1.6h0m.3-62.2h0m0-3.6h0m.3 68.9h0m.1 2h0m0-65.9h0m.1 52h0m.1 1.7h0m0-8.9h0m.2-17.5h0m.3-22.5h0m.1 .4h0m.1 52.4h0m.3-9.9h0m.6 1h0m1-5.3h0m.6-21.3h0m.5 21.4h0m.6-20.2h0m.3 26.9h0m.8-36.9h0m.1 21.9h0m.4 4.8h0m0 15.9h0m.3-7.4h0m0-33h0m.2 10.3h0m.2 41.7h0m.2-31.7h0m.1 26.5h0m.1-6.7h0m.5-55.1h0m.2 15.5h0m0 6.9h0m.1 24.7h0m.2-16.3h0m.7-19h0m.2 1.6h0m.9 24.5h0m.4 .3h0m1.5-4.1h0m0-20.1h0m.2 6.8h0m1 16.1h0m.2-7.2h0m.3 3.4h0m1.8-44.7h0m2.1 18.1h0"/></defs><use href="#q69" stroke="#8f8f8f" stroke-width="4"/><use href="#q69" stroke="#cdcdcd" stroke-width="3.1"/><defs><path id="q70" d="m67.7 743.5h0m.4 8.2h0m.2-11.7h0m.1-22h0m.2 47.6h0m0-7.6h0m.2 10.8h0m.1-25.6h0m0-40.2h0m.1 63.2h0m.2-28.5h0m.5 26.5h0m0-33.3h0m.1-13.6h0m.4 57.2h0m.5-35.3h0m.2 13.2h0m.2-25.8h0m.1-.6h0m.8 43h0m.3-5.1h0m0-2h0m0-19h0m.5-35.8h0m0 41.2h0m.2-33.8h0m0 30.6h0m.3-48.1h0m.1 50.8h0m.2-21.7h0m.6 19.5h0m0 7.7h0m.1-31.6h0m.3-68.3h0m.4 18h0m.9 91.5h0m.1 3.4h0m0-1.3h0m0-35.9h0m.3 4h0m.3 33h0m.1-42.7h0m.1-13.2h0m.1 20.1h0m0 6.7h0m.8 11.1h0m.2-23h0m.5-35h0m.4 70.4h0m.1-11.9h0m1 17.9h0m.1-40.1h0m.2 23h0m0 10h0m.5 9.8h0m1-24.1h0m.2-5.9h0m.1 6.5h0m1.3 1.2h0m3.6 17.8h0m1.6-41.6h0m15.2 46.5h0m5.8-127.4h0m5.9 109.8h0m14.6-14.4h0m22.6 16.3h0m30.8-1.3h0"/></defs><use href="#q70" stroke="#8f8f8f" stroke-width="4.5"/><use href="#q70" stroke="#cdcdcd" stroke-width="3.5"/><defs><path id="q71" d="m67.5 677.4h0m.6 95h0m.5-37.9h0m.5 21.4h0m.2-23.5h0m.3-21.8h0m0 42.9h0m.3-29h0m.1 46.7h0m.5-4.4h0m.2-28.9h0m.1-20.6h0m.4 12.1h0m.4-32.3h0m.2 38.6h0m.2 17.4h0m0-.4h0m0 13.6h0m0-40.9h0m.1 18.2h0m.2 3.9h0m.3 3h0m.8-11.3h0m.2-28h0m.6 61.4h0m.8-31.4h0m.6 27.6h0m.7-24.8h0m.1 3.1h0m.3-30.2h0m0 31.2h0m0-5.4h0m.6 2.9h0m.1 8.1h0m0-.1h0m.6-7h0m.1-3.7h0m.2 3.7h0m.3-15h0m.3-14.7h0m0 45h0m.6-15.2h0m0-25.7h0m.9 43.7h0m0-27.2h0m.2 9.3h0m.1 0h0m.3-27.8h0m.4 16.2h0m.8-70.7h0m.2 66.3h0m.2 17.7h0m.4 23.1h0m.8-10.3h0m.1 10.6h0m.3 1.2h0m1.4-22.5h0m.9-15.8h0m1.9 21.8h0m7.5-35.4h0m2.5 10.5h0m1.7 3.1h0"/></defs><use href="#q71" stroke="#8f8f8f" stroke-width="4.9"/><use href="#q71" stroke="#cdcdcd" stroke-width="4"/></g>
<g class="rd2"><g class="r2"><circle cx="75.9" cy="732.9"/><circle cx="74.6" cy="741.6"/><circle cx="75.9" cy="744.6"/><circle cx="82.3" cy="742"/><circle cx="132.9" cy="739.3"/><circle cx="194.6" cy="737"/><circle cx="75" cy="743"/></g></g>
<g fill="none" stroke-linecap="round"><defs><path id="q72" d="m187 763.8h0m3.4-1.6h0m.2-.3h0m5 1.2h0m1.8 .2h0m2.2 .2h0m2.4-.7h0m4.2-1.2h0m2.8 6.2h0m1.5-4.3h0m7.3 3.5h0m.4-2.6h0m3.7-.2h0m7.3-2.7h0m2.7 4.5h0m1.4-1.1h0m.4 1.6h0m.6-1.5h0m.6 .8h0m.2 1.6h0m2.2-2.8h0m4-1.1h0m1.5 3.1h0m.2 0h0m8.7 .2h0m.5 .3h0m1.2-1.7h0m2.6 .3h0m.6-1.3h0m9.4 1.8h0m5.8 1.6h0m9.7-3.1h0m2.7-2.4h0m1.2 5.7h0"/></defs><use href="#q72" stroke="#36a050" stroke-width="4.9"/><use href="#q72" stroke="#54d272" stroke-width="3.9"/><defs><path id="q73" d="m178.2 768.3h0m9.8-7.8h0m6.8 5.2h0m7-1.6h0m.1 .4h0m4.9-1.5h0m0 1.4h0m1 .5h0m1-2.5h0m3.1 3.6h0m.9 .5h0m.2-2.1h0m2.3 3.9h0m1.3-5h0m.3 3.1h0m.2 .9h0m.9-.7h0m8.3-2.1h0m1.7-3.7h0m6.3 6.4h0m1.1-6.5h0m1.3 6.4h0m2.4 2.8h0m4-6.1h0m1 4.1h0m.4-1.1h0m.3-2.2h0m.1 .7h0m.1 3.3h0m3.5 .5h0m1.5-.1h0m.4-2.8h0m3.9-1h0m.6-1.5h0m7.3 0h0m7.8 6.2h0m6.1-5.2h0m26.9 .3h0"/></defs><use href="#q73" stroke="#36a050" stroke-width="4.5"/><use href="#q73" stroke="#54d272" stroke-width="3.5"/><defs><path id="q74" d="m92 777.9h0m39-10h0m58.6-5.4h0m.2 9.1h0m.2-10.5h0m.2 2.9h0m14.4 .3h0m.6 2.1h0m.1-4h0m1.4 5.9h0m.6-4.9h0m.9 6.5h0m.9-6.4h0m.6 2.9h0m.3 3.4h0m.4-3.3h0m4.5 2.2h0m0-.6h0m4.4-2.6h0m6 1.1h0m1.4-2.3h0m5.6 2.6h0m.9-2.7h0m3.6-1.5h0m2.1 .5h0m8.3 2.7h0m5.1 1.9h0m1.4-3.4h0m.8 .5h0m9-.3h0m1.2 .8h0m.4 .6h0m.1 .2h0m8.4-4.2h0m5.6 7.3h0m12.8-1.7h0m3-1.3h0m8 2.7h0m13.1-3.3h0"/></defs><use href="#q74" stroke="#36a050" stroke-width="4.5"/><use href="#q74" stroke="#54d272" stroke-width="3.5"/><defs><path id="q75" d="m188.1 757.3h0m1.5 4.9h0m1.6 .8h0m2.7 .9h0m3.5 1.5h0m.2-4.6h0m.2 3.4h0m.1 .5h0m4.2 2.9h0m1.2-1.3h0m2.3 1.5h0m2.4-4.3h0m0 2.2h0m1.1 1.9h0m.5-6.1h0m.4 2.1h0m.1 .3h0m1.4 3.2h0m1-3.1h0m2.7-.3h0m1.2 2.7h0m4.3-2.1h0m.3 2.2h0m4-5.5h0m1.8 3.6h0m4.4 1.4h0m.3-1.9h0m2.4 2.4h0m5.8 .3h0m.2-6.3h0m2.2 7h0m.3-5.2h0m1.5 1.1h0m3.6 2.7h0m.3-.1h0m.2-.5h0m2 .9h0m.2-.8h0m.5-1.9h0m2.5 4.9h0m2.7-2h0m.2-4.2h0m.4 1.8h0m.2 5h0m.2-4.5h0m3.3 .3h0m3.5 3.4h0m.2-3.4h0m5.2 1.5h0m2.8 .9h0m1.1-.6h0m.1-.3h0m7.3 2.4h0"/></defs><use href="#q75" stroke="#36a050" stroke-width="5.3"/><use href="#q75" stroke="#54d272" stroke-width="4.3"/><defs><path id="q76" d="m196.3 764.3h0m1.7-.7h0m1.4-1.9h0m4.4 1.7h0m.5 2.6h0m.8 .9h0m5-.1h0m.4-4.3h0m2 3.5h0m5.9-3.4h0m.3 3.5h0m1.3-2.5h0m.6-.1h0m4.1 4.9h0m3.8-.3h0m.1-1.5h0m.5-2.8h0m2.7-1.9h0m.4 6.7h0m.2-6.2h0m8 7.3h0m.6-6.8h0m7.8 1.8h0m3.8 2.1h0m.3-4.4h0m6.4 4.4h0m0-2.9h0m1.1 2.2h0m2-1.9h0m2.3 3.4h0m2.6 .8h0m3.8-1.4h0m2.4-1.4h0m7.9-.4h0"/></defs><use href="#q76" stroke="#36a050" stroke-width="4.9"/><use href="#q76" stroke="#54d272" stroke-width="3.9"/><defs><path id="q77" d="m80 779h0"/></defs><use href="#q77" stroke="#36a050" stroke-width="3.7"/><use href="#q77" stroke="#54d272" stroke-width="2.7"/><defs><path id="q78" d="m192.8 773.5h0m.7-9.4h0m6.5-3.3h0m1.8 1.2h0m3.4 1h0m1 .1h0m.8 5.4h0m2.5-4h0m.2-1.4h0m1.3-1.7h0m2.2 5.7h0m1.2-2.7h0m1.4-1.5h0m2.8 1.7h0m.1-.1h0m1.4 2.4h0m.4 2.9h0m5.2-4.5h0m3.6-.3h0m3.8 .3h0m.4-1h0m.2 1.2h0m.1-.6h0m.3 1.4h0m2.7-4.6h0m4 3.5h0m7.9 3.6h0m.5-8.4h0m.7 9.6h0m.6-5.1h0m1.4-1.6h0m3.9 2.5h0m.2-.8h0m.3 1.5h0m8.3-2h0m7.7-1.4h0m7.4 3.2h0m4.6-.2h0m3.4-1.7h0"/></defs><use href="#q78" stroke="#36a050" stroke-width="4.5"/><use href="#q78" stroke="#54d272" stroke-width="3.5"/><defs><path id="q79" d="m191.4 762.6h0m3.3-.6h0m.9-3.2h0m4.5 6h0m5.2-2.5h0m2.5 2.1h0m1.6-.3h0m.6 4h0m.5-4.6h0m.2 .4h0m.2 .3h0m1.5 1.5h0m1.8-2.7h0m.8-1.9h0m.7 3h0m2.2 .2h0m3.3-1.5h0m1.2 .5h0m1 3h0m1.3 1.4h0m.1-7.1h0m3.4 3.9h0m4.1 2.4h0m1 .1h0m12.8-2.1h0m3.3-.5h0m3.5-1.2h0m2.5 .3h0m2.7 2.1h0m1.2-1h0m10.1 .7h0m4.1 0h0m3.6-1.3h0m9.7 1.9h0"/></defs><use href="#q79" stroke="#36a050" stroke-width="4.9"/><use href="#q79" stroke="#54d272" stroke-width="3.9"/></g>
<g class="bl"><circle cx="77.7" cy="741" r="2"/><circle cx="186.7" cy="752" r="2"/></g>
<path d="M93.5 627.4V785" stroke="#222" stroke-width="0.9" stroke-dasharray="1.4 0.8" fill="none"/>
<path d="M100.9 627.4V785" stroke="#888" stroke-width="1.5" fill="none"/>
<path d="M56.7 747.7H327.2" stroke="#222" stroke-width="0.9" stroke-dasharray="1.4 0.8" fill="none"/>
<path d="M56.7 750.8H327.2" stroke="#888" stroke-width="1.6" fill="none"/>
<text transform="translate(89.2 657.3) rotate(-90)" font-size="5.2" text-anchor="middle" fill="#222" textLength="47.5" lengthAdjust="spacingAndGlyphs">AVG([X])+(2*STD([X]))</text>
<text transform="translate(107.8 657.3) rotate(-90)" font-size="5.2" text-anchor="middle" fill="#222" textLength="47.5" lengthAdjust="spacingAndGlyphs">AVG([X])+(3*STD([X]))</text>
<text x="221.2" y="742.8" font-size="5" fill="#333" textLength="46.0" lengthAdjust="spacingAndGlyphs">AVG([Y])-(2*STD([Y]))</text>
<text x="274.9" y="746.1" font-size="5" fill="#333" textLength="46.0" lengthAdjust="spacingAndGlyphs">AVG([Y])-(3*STD([Y]))</text>
<rect x="78.4" y="728.8" width="25.6" height="8.2" fill="#fff" stroke="#c8c8c8" stroke-width="0.7"/>
<text x="91.2" y="735.0" font-size="6" fill="#222" text-anchor="middle" textLength="20.1" lengthAdjust="spacingAndGlyphs">EBSELEN</text>
<rect x="109.9" y="739.8" width="72.9" height="8.9" fill="#fff" stroke="#c8c8c8" stroke-width="0.7"/>
<text x="146.4" y="746.4" font-size="6" fill="#222" text-anchor="middle" textLength="67.4" lengthAdjust="spacingAndGlyphs">RepSox;E-616452;SJN 2511</text>
<circle cx="251.1" cy="635.5" r="3.8" fill="#4fd06c"/>
<text x="259.0" y="638.6" font-size="9" fill="#1a1a1a" font-weight="bold" textLength="17.0" lengthAdjust="spacingAndGlyphs">-DOX</text>
<circle cx="251.1" cy="647.8" r="3.8" fill="#e0454c"/>
<text x="259.0" y="650.9" font-size="9" fill="#1a1a1a" font-weight="bold" textLength="18.0" lengthAdjust="spacingAndGlyphs">+DOX</text>
<circle cx="251.1" cy="660" r="3.8" fill="#a9a9a9"/>
<text x="259.0" y="663.1" font-size="9" fill="#1a1a1a" font-weight="bold" textLength="63.0" lengthAdjust="spacingAndGlyphs">+DOX + compound</text>
<text transform="translate(26.7 710.4) rotate(-90)" font-size="12.4" text-anchor="middle" fill="#222" textLength="84.3" lengthAdjust="spacingAndGlyphs">Firefly luciferase</text>
<text x="136" y="811.8" font-size="12.4" fill="#111" textLength="86" lengthAdjust="spacingAndGlyphs"><tspan font-style="italic">Renilla</tspan> luciferase</text>
<text x="352.0" y="626.5" font-size="12" textLength="8.0" lengthAdjust="spacingAndGlyphs">F.</text>
<rect x="390" y="626.6" width="281.0" height="158.9" fill="#fff"/>
<path d="M400.3 626.6V785.5M430.9 626.6V785.5M461.6 626.6V785.5M492.2 626.6V785.5M522.9 626.6V785.5M553.5 626.6V785.5M584.2 626.6V785.5M614.9 626.6V785.5M645.5 626.6V785.5M390 778.4H671M390 754.9H671M390 731.3H671M390 707.8H671M390 684.2H671M390 660.6H671M390 637.1H671" stroke="#ececec" stroke-width="0.7" fill="none"/>
<g font-size="5.6" fill="#444" font-weight="bold"><text x="400.3" y="792.6" text-anchor="middle">0</text><text x="430.9" y="792.6" text-anchor="middle">20000</text><text x="461.6" y="792.6" text-anchor="middle">40000</text><text x="492.2" y="792.6" text-anchor="middle">60000</text><text x="522.9" y="792.6" text-anchor="middle">80000</text><text x="553.5" y="792.6" text-anchor="middle">100000</text><text x="584.2" y="792.6" text-anchor="middle">120000</text><text x="614.9" y="792.6" text-anchor="middle">140000</text><text x="645.5" y="792.6" text-anchor="middle">160000</text><text x="386.8" y="780.4" text-anchor="end">0</text><text x="386.8" y="756.9" text-anchor="end">500000</text><text x="386.8" y="733.3" text-anchor="end">1000000</text><text x="386.8" y="709.8" text-anchor="end">1500000</text><text x="386.8" y="686.2" text-anchor="end">2000000</text><text x="386.8" y="662.6" text-anchor="end">2500000</text><text x="386.8" y="639.1" text-anchor="end">3000000</text></g>
<g fill="none" stroke-linecap="round"><defs><path id="q80" d="m399.9 776.3h0m0-7.1h0m0-5.7h0m0 4.6h0m.4 8.7h0m.1-3h0m.4 3.8h0m0-18.9h0m.2 17.7h0m.1-1h0m.1-6.8h0m.1 7.2h0m.1-22.8h0m0 19.2h0m.2-3.2h0m0-6.7h0m.2-.5h0m.1 16.4h0m0-5.4h0m.2-18h0m.1 11.7h0m.3-1.1h0m0 12.3h0m.3-8.5h0m0-14h0m0 16h0m.2-1.5h0m0-5.1h0m.4 13.9h0m.2-22.9h0m0 1.5h0m.4 16.1h0m.1 1h0m0 2.4h0m.2-15.9h0m.3-7.6h0m.2 9h0m.1-10.4h0m.2 9.5h0m0 14.6h0m.2-12.8h0m0 14h0m.1 .6h0m0-15.1h0m0 14.4h0m.1-15.2h0m0 11.1h0m.1-18.2h0m.1 18.6h0m.1-3.3h0m.3-13.4h0m0 2.6h0m.2 4.5h0m.1 2.3h0m.1-2.2h0m.1-3.5h0m.2 17.8h0m.1-12.2h0m.2 4.6h0m.2-1.2h0m.2 4.9h0m.1-22.2h0m.2 10h0m0 .3h0m0-2h0m.1 1.3h0m.1-3.3h0m.1 1.9h0m0-8h0m.1 26.3h0m.1-1.4h0m0-13.9h0m.1 2.5h0m.2 1h0m0 7.8h0m0-10.7h0m.1 .6h0m.1 1h0m.1 4.3h0m.1-16.3h0m.2 .4h0m0-1.7h0m0 24.7h0m.3-11.6h0m0 5h0m.1 1.2h0m0-7.2h0m0-1.8h0m.3 9.3h0m.1-3.5h0m0-5.3h0m.1-9.3h0m0 23h0m0-12.3h0m.2-3h0m0 10.6h0m0-6.5h0m0 4.5h0m0-13.7h0m.1 18.5h0m0 2.6h0m.1-5.4h0m.2-1.2h0m.1-18.7h0m.3 19.1h0m.1 3.8h0m.2-17.4h0m0-4.3h0m.1 20.4h0m0-3.1h0m.1-17.8h0m0 23.3h0m.1-1.5h0m.2 1.4h0m.1-4h0m.5-7.1h0m0 3.7h0m0-19.2h0m.4 24.6h0m.1-10.6h0m.2-9.5h0m0 18.7h0m.1-7.2h0m0 8.6h0m.1-24.2h0m0 2.6h0m.1 23.3h0m.1-2.2h0m.3-10.5h0m.1-3.4h0m0 1.2h0m.2-7.5h0m.2 13.2h0m.1-9.8h0m.1 12.7h0m.3-3.7h0m.1 1.1h0m.1 2.7h0m.1-7h0m.2-1.7h0m.1-24.7h0m.2 19.7h0m.3-7.9h0m0 13h0m.3 12.4h0m.4-15.7h0m0-10.4h0m.1 13.6h0m.1 15.4h0m.1-3.5h0m0-8.1h0m.5-26.6h0m0 21.7h0m.1-4.2h0m.1 18.8h0m.1-17.9h0m.4 18.8h0m0-13.3h0m.1-15.1h0m.2 6.8h0m.1 21h0m.1 3.7h0m.1-3.2h0m.1-3h0m.3-11.4h0m0 11.8h0m.1 1.9h0m0-10h0m.1-15.8h0m.1 15.5h0m0 1.8h0m.1 1.3h0m0-6h0m.3 14.6h0m.3-.8h0m.5-21.3h0m.1-4.4h0m.1 22h0m.2-15.6h0m0 9.7h0m.5-9h0m.1 10.3h0m0 .4h0m.1 2.6h0m0-19.4h0m0 19.3h0m.2-5.6h0m.5-5.6h0m.1 17h0m.4-9.1h0m.2-15.9h0m.1 21.9h0m.2-2.7h0m.1-9.6h0m.2 15.9h0m0-8.9h0m.1-7.5h0m.3 9.5h0m0-17.3h0m.1 17h0m.1-7.5h0m0 2.8h0m0-7.9h0m.4 4.7h0m.4 5.9h0m.1-.4h0m0 3.1h0m.1-16.4h0m.1 3h0m.3-3.9h0m.2 22.5h0m.1-14.1h0m.1 3.8h0m.5-9.4h0m.1-4.2h0m.2 18.9h0m0-11.7h0m.1 10.9h0m.1-6.3h0m0-8.6h0m.4 14.5h0m.3-10.5h0m.1-7.5h0m0 2.6h0m.2 20.5h0m1-9.2h0m.4-6.4h0m0 5.6h0m.1-18.6h0m.1 10.4h0m.2 15.4h0m.1-14.8h0m.1 18.1h0m0-22h0m.2-1.4h0m.5 10.3h0m0-2h0m.8 .1h0m.3 6.6h0m0 4.4h0m.5-9.9h0m.3 7h0m.1-13h0m.1-4.4h0m.2 15.1h0m0 2.7h0m1.4-12.7h0m.1 10.8h0m.2-3.1h0m.2 2.5h0m.1 2.4h0m.2-19.7h0m.3 8.1h0m1.4 10.5h0m.1 4.6h0m.4-23h0m.6 15h0m.1-4.3h0m1.5 4.8h0m1.4-15.1h0m1.6 13.4h0m.3-7.7h0m4.3-5h0m.9 20.2h0m3.9-2.3h0m7.6-11.8h0m2.4 12.8h0m1.6-.7h0m1.2-2h0m3.8-4.7h0m3 .5h0m12.2 10.4h0m8.6-20.7h0m73.4 10.8h0m47.3 15.3h0"/></defs><use href="#q80" stroke="#8a8a8a" stroke-width="2.5"/><use href="#q80" stroke="#cccccc" stroke-width="1.75"/><defs><path id="q81" d="m400.5 776.7h0m0 1.2h0m.9-9.5h0m0-2.8h0m.1 4.1h0m.1-8.6h0m0 4.4h0m.3 2.7h0m.1-.6h0m.1-.5h0m.1-7.7h0m.2 12.5h0m0-7.5h0m.1-1.8h0m.5-6.1h0m.1 15.1h0m0-14.6h0m.1 15.3h0m.1-3.9h0m0-1.6h0m0 10.9h0m.1-4.4h0m.3-8.9h0m.3 13.9h0m0-11.6h0m0 5h0m0-19.5h0m.1 5.5h0m0 14.4h0m0-7.2h0m.3-4h0m.1 5h0m.3 .5h0m0 6h0m0-.8h0m.2-8.8h0m.1 9.1h0m.1-20.3h0m.1 26.6h0m0-18.4h0m.3 14.5h0m.3-9.1h0m.1-16.6h0m.2 12.3h0m.2 16.7h0m0-5.5h0m.3-15.4h0m0 6.1h0m.2 9.8h0m.1-7.1h0m0 8.7h0m.1-1.2h0m0 1.1h0m.1-8.9h0m0-38.1h0m.1 36.9h0m.1-7h0m0 6.4h0m.1 1.5h0m.3 13.3h0m.2-25.3h0m.2 6.3h0m0-6.7h0m.2 8.1h0m.1 6.2h0m0 .9h0m.2 1.1h0m0-1.7h0m.1 3.9h0m.3-8.3h0m.2-13.8h0m0 28.2h0m0-.6h0m.1-18.3h0m0 11.8h0m.1-2.7h0m.1-2.2h0m.2-3.2h0m0-.6h0m.1-1.5h0m.2 15.2h0m.3-23.2h0m.2 19.9h0m.1-10.7h0m0 13.3h0m.1 .2h0m.1-4.6h0m0-11.5h0m.1-3.5h0m0 .3h0m.1-1.2h0m.1 19.3h0m0-15.9h0m.1 .7h0m.1 15.5h0m.1 2.2h0m0-4.4h0m.2-6h0m.4 1.1h0m.2-11.6h0m.2 18.7h0m.2-3.5h0m.1 1h0m0-1.1h0m0 2.1h0m.1-7.1h0m.1-4.5h0m.1-3.1h0m.3 15.4h0m.1-22.9h0m0 9.8h0m0 14.3h0m.2 .9h0m.1-29.6h0m.2 24.7h0m0 1.8h0m.1-10.6h0m0 4.2h0m.5 9.6h0m.1-.3h0m.1-.9h0m0-10.7h0m.1 6.5h0m.1-4.1h0m.4 8.8h0m.1-13.9h0m0 9h0m0 2.6h0m.2-9.9h0m0-2h0m0 11.4h0m.1-6.2h0m.1-2.6h0m.2 12.9h0m0-2h0m.1-14.7h0m0-3.7h0m.9 14.1h0m.2 3.9h0m.2-2.5h0m.2-19.3h0m.1 17.1h0m0-6.4h0m.1 5.8h0m.2-11.8h0m.1 11.9h0m.1 5.5h0m0-20h0m0 4.1h0m.1 .8h0m.1 14.9h0m.3-5.6h0m.3 4.9h0m.1-2h0m0-16.3h0m.2 23.8h0m.2-16.5h0m.1 5.3h0m0-14h0m0 3.5h0m.2 12.3h0m0-2.1h0m0 9.7h0m.5-22.6h0m.1 19.2h0m.1-15.7h0m.1-7.2h0m.1 9.8h0m.1 16.9h0m.1-13.5h0m.4 3.7h0m0 .8h0m.2 7.1h0m0 .9h0m0-17.1h0m.1 15.3h0m.1-13.6h0m0 16.5h0m.4 .3h0m0-12.8h0m.2 8.2h0m.1-9.3h0m0 4h0m0-4.8h0m.2 5.9h0m0-8.6h0m.7 13.8h0m0-19.3h0m.2 14.2h0m0-19.4h0m.3 12.8h0m.5 5.8h0m0-11.1h0m.2 17.4h0m0 1.3h0m.2-8.3h0m.1-12.2h0m.5-4.5h0m.2 10.9h0m0-2.3h0m.5 3.5h0m.2-15.6h0m.4 6.3h0m.1 14.9h0m0 5.7h0m.1-29.3h0m.1 30.1h0m.7-19.1h0m0-9.4h0m.1 4.4h0m.1 15.7h0m.3-8.8h0m.1 16.8h0m.2 1.4h0m.1-20.8h0m.1 11.8h0m.1-8.8h0m0 12.4h0m.2 .7h0m0-22h0m.1 12.1h0m0 .7h0m.3-24.9h0m.1 31.6h0m.1-1.6h0m.1-.3h0m0-6.3h0m.3-4.8h0m.3 1.8h0m0 12.7h0m0-7h0m0-5.5h0m0 1.8h0m.5-6.9h0m.1 6.1h0m.4 10.2h0m.4 3.7h0m0-4.4h0m.2-8.6h0m.2 12.1h0m.3-3.1h0m.5-21.4h0m.6 14.2h0m.5-9.4h0m.2-1.3h0m.1 17.1h0m.6-10.3h0m.2 3.6h0m.1-4.3h0m0 10.1h0m.3 2.2h0m.2-11h0m0 11.9h0m1.2-28.6h0m.1 18.7h0m0 6.1h0m.2-2.4h0m.2-4.6h0m.2-1.8h0m.3 0h0m.2 7.4h0m.9-1.9h0m.4-2h0m.8 6.7h0m.1-2.5h0m6.1 2.8h0m.1-16h0m.1 19.4h0m2.5-1.8h0m.1-2h0m.8-9.2h0m2.3 1.7h0m19.3 12h0m77.3-4.5h0m92 4.6h0"/></defs><use href="#q81" stroke="#8a8a8a" stroke-width="2.5"/><use href="#q81" stroke="#cccccc" stroke-width="1.75"/><defs><path id="q82" d="m400 764.9h0m.1 4h0m.1 4.2h0m.1-20.7h0m.3 6.5h0m.3 10.5h0m.2 3.7h0m.3-5.7h0m0 10.6h0m.1-10.4h0m.1-3.6h0m.1 1.8h0m.2 9.1h0m.2 1.5h0m.1-18.3h0m0-5.4h0m.1 7.9h0m.3-4.9h0m.2 16h0m0-18.2h0m.3 11h0m.5-2.8h0m.2 7h0m0 3h0m.2 6.4h0m.3-2h0m.1-4.3h0m0-15.2h0m.2 7.9h0m0-7.4h0m.1 4.4h0m0-2h0m.2-.2h0m.3 18h0m.1-10.1h0m.1 6.2h0m0-15.4h0m.3 15.7h0m0-2.3h0m.1-16.8h0m0-.3h0m.2 4.7h0m0 2.5h0m.1 13.8h0m.1-10.1h0m.2-10.6h0m.3 4.5h0m.2 1.6h0m0 15h0m.2-2.8h0m0-.2h0m.1-11.5h0m.1 7.2h0m0 1.9h0m.1-4.1h0m.1-16.8h0m.2 13.8h0m0 13.7h0m.3-4h0m.4-20.1h0m.3 6.9h0m.1-5.9h0m.1 19h0m.1-8.1h0m0 .7h0m.1 9.4h0m.2-14.8h0m0-23.8h0m.3 34.4h0m.1-21.8h0m0 6.8h0m.3 14.3h0m0-6h0m.5-12h0m.1 24.1h0m.1-14.6h0m.1 4.9h0m.4-7.3h0m.2 16.7h0m0-12.2h0m.2 .4h0m.1-1.7h0m.1 .4h0m.1 12.9h0m.2-4.7h0m.1-9.5h0m.1 9.9h0m.2 3.1h0m0-1h0m.1-1.5h0m.2-16.1h0m0-4.8h0m.1 14.8h0m.4-7h0m.2 7.8h0m.1-13.4h0m.1 6.9h0m.1 8.1h0m0-2h0m.3 7.2h0m.2-9.8h0m.1-5.3h0m.1 9.8h0m.2-5.6h0m.1 4.6h0m0 .4h0m.1-.6h0m0-2.9h0m0-1.7h0m.1 5.3h0m0-5.6h0m.1 3h0m.2 10.4h0m.1-21h0m.2 4.1h0m0 11.9h0m.6-4h0m.1-5.4h0m.1 12h0m.2-8.1h0m.1-4.3h0m.1-10.9h0m.1 20.7h0m0 1.8h0m.1-7.7h0m.4 4.5h0m0 9.5h0m.1-7.1h0m.1-1h0m0 5.7h0m0-2.7h0m.2-4.5h0m.1-9h0m.4 3.8h0m.2-6.9h0m0-8.3h0m.2 25.6h0m0 2.9h0m0-5.5h0m.1-9.9h0m0 14.5h0m0-19.4h0m.1 14.5h0m.1 3.4h0m.5-4.8h0m0 2.9h0m.3-5.4h0m.1-26.4h0m0 22.4h0m.2-.9h0m0-2h0m.2 11.2h0m0-5.1h0m.4-15.8h0m.1-10.1h0m.1 4.9h0m0 19.2h0m0 2.7h0m0-15.9h0m.1 26.7h0m.1-3.6h0m.1-15.2h0m.6-8.3h0m0 25.1h0m.1-8.6h0m0-2.5h0m.1 5.2h0m.1 4.1h0m.1-21.1h0m0 1.5h0m.1 14.9h0m0 6.5h0m.1-9h0m.1-8.6h0m.3-3h0m.2 15.1h0m.2-5.8h0m.3 4.5h0m0-15.8h0m.2 3.1h0m.4-7.5h0m.4 24.3h0m0-3.2h0m0-10.7h0m.1 6.8h0m0 8.1h0m.1-12.2h0m.1 2h0m.1-3.4h0m.2 12.8h0m0 1.2h0m.1-22.7h0m.1 17.8h0m.1-6h0m0-2.1h0m.2 5.3h0m.4-5.9h0m.4 4.7h0m.3 7h0m0-3.5h0m0-16.2h0m0-1.9h0m.2 15.8h0m.5-16.6h0m0 16.5h0m.1-.4h0m.5-2.2h0m0 4h0m.1-12.5h0m.1-6.1h0m.1-4.2h0m.1 29.5h0m0-11.5h0m.1 9.2h0m.1 1.1h0m.6-6.1h0m.3-14.1h0m.1 16.6h0m0-34.2h0m.3 35.9h0m.1-.8h0m.1-4.5h0m.1-2.5h0m0-16.5h0m.1 1.3h0m.1 20h0m.9-.2h0m.6-20.9h0m.3 .4h0m.2 0h0m.1 5h0m.7-9.4h0m.2 26.5h0m.2-4.2h0m.5 1.1h0m.1-5.6h0m.3 10.2h0m0-3.8h0m.2 0h0m.1-17.7h0m0 14.8h0m0 4.9h0m.1-3.4h0m.1-12.7h0m0 .4h0m.1 13.1h0m.2-4.1h0m.1-4.5h0m.9 12h0m1.4-13h0m.1 7h0m0-4h0m.5 9.9h0m.9-5.7h0m.5 2.5h0m0-14.1h0m.8 8.3h0m3.7-13.1h0m2.7 22.6h0m1-6h0m1.4-13.2h0m.7 4h0m.6 14.5h0m10.2-34.6h0m6 25.9h0m8.1-4.1h0m11.1 12.7h0m44.8-17.6h0m26.5 15.3h0m14.4 1h0m29.3-6h0m6.1 .5h0m1-.4h0m24.9 4.6h0m22 .2h0"/></defs><use href="#q82" stroke="#8a8a8a" stroke-width="2.5"/><use href="#q82" stroke="#cccccc" stroke-width="1.75"/><defs><path id="q83" d="m400 759.4h0m.3 17.3h0m.1 .2h0m.4-30.8h0m.2 9.8h0m.1 13.2h0m.2-12h0m.1 10.9h0m.2 2.2h0m.1-2.3h0m0-1.5h0m0 1.2h0m.4-.2h0m.2-8.7h0m.1 16.8h0m0-5.3h0m1-15.7h0m.2 12.3h0m.1 7.6h0m.1-10.2h0m.1 1.6h0m.1-.3h0m0-.1h0m.4-1.5h0m.1-4.5h0m.1 3h0m.1 11.9h0m.3-8.5h0m0 10.9h0m.2-40.2h0m0 41.8h0m.4-18.4h0m.4-2.7h0m.3 14.3h0m.4 2.1h0m.2-14.2h0m0-4.9h0m0-1.3h0m.1 9h0m0 11.3h0m.1-18.6h0m0 5.7h0m.2-3.3h0m0-.4h0m.3 17.5h0m0-17.2h0m.1 11.3h0m.1-6.1h0m0-1.3h0m.2 13.1h0m.1-18.8h0m0-1.1h0m0 14.2h0m.1 6.4h0m.2-11.4h0m0-6.7h0m0 11.2h0m.1 6.3h0m.1-2.4h0m0-18.3h0m0 14.9h0m.1 4.8h0m0-4.1h0m.1 2.8h0m.1-3.4h0m.1 1.4h0m.1-13.3h0m0 21.5h0m.1-8.8h0m0-13.4h0m.3 20.3h0m.1-14.9h0m0-1.9h0m.1 7.7h0m.2 11.1h0m.1-5h0m.1 .4h0m0-3.1h0m.3-1.8h0m0-7.1h0m0 2.7h0m.2 9.8h0m.4-24.8h0m.2 17h0m0-12.5h0m.1 18.1h0m0-7.9h0m.2 0h0m0 5.5h0m.3-19.5h0m0 16.5h0m0 4.9h0m.1-7.7h0m0-11.8h0m0 12.7h0m.1 12.1h0m.2-11.3h0m.3-4.9h0m.2 8.2h0m.1 1.9h0m0-2.4h0m.1 5.9h0m0-19.1h0m0 6.1h0m.1-2h0m.1 .9h0m.2 6.3h0m.1 2h0m.4-2.5h0m0-.8h0m.2-6.6h0m.3 8.3h0m.1-13.9h0m.5 8.3h0m0 2.1h0m.1 6.9h0m.2 1.8h0m.2-3.5h0m.1-16.6h0m0 12.6h0m.1-4.8h0m.3 6.3h0m0 9h0m0-8.1h0m.1-17.8h0m.1 27.1h0m.1-27.8h0m0 23.6h0m.1-11.4h0m0 12.1h0m0-8.5h0m.1-3.5h0m0 7.6h0m0-14.9h0m.1 17.6h0m.1-7.2h0m.3-4h0m0 9.6h0m.1 3.8h0m.1-6.9h0m.1 1.2h0m.2-2.6h0m.2 13h0m.1-25.5h0m.1 5.7h0m.1 17.5h0m.1-.2h0m.2 1.6h0m.1-15.9h0m.1 11h0m.2 2.3h0m0-19.4h0m.1 19.5h0m.2-2.6h0m0 2.5h0m0 .3h0m.1-11h0m.1 14.5h0m.1-1.7h0m0-4.9h0m.2-23.3h0m.2 4.6h0m.1 22h0m.3-16.3h0m0-.9h0m0 8.8h0m.2 .8h0m0-.5h0m0-3.9h0m.1-16.1h0m.2 15.1h0m.2 .9h0m.1 8.1h0m.2-8.9h0m.5 14.3h0m.2-8.6h0m0-3h0m.1 .7h0m0 2.9h0m.3 5.7h0m.2-11.9h0m.1-15.8h0m.1 5.2h0m.1-.9h0m0 5.8h0m0-10h0m.2 28.7h0m0-4h0m.1-26.1h0m.1 12.6h0m.1-6.4h0m0 22.3h0m.1-9.4h0m0 11.8h0m.1-18.9h0m.3-6.2h0m.1 22.4h0m.4-8.4h0m.3-15.9h0m.1 18.4h0m.3-4.6h0m.1 2.9h0m.2-13.2h0m.1 12.2h0m.1-14h0m0 11.9h0m.2-1.3h0m0 7.4h0m.7-1.8h0m.2-1.6h0m.2 3.4h0m.5-2.7h0m.3-8.4h0m.6 12.2h0m.1-4.9h0m.2 3.3h0m.1-33.2h0m.2 21.4h0m0-5.1h0m.3 19.4h0m1.8-25.3h0m.3 14.9h0m0 8.9h0m.3 3.9h0m.2-16.1h0m.1 15.6h0m.3-12.6h0m.2 8.1h0m.1-9.9h0m0 7.3h0m.3-12.1h0m.8 15.3h0m.2-2.7h0m0 5.1h0m.1-.4h0m.3 1.2h0m.2-18.1h0m0 14.1h0m.4-11.7h0m.2-3.8h0m.2 8.4h0m.4 2.2h0m0 7.3h0m.1 .8h0m1.1-4h0m.3-14.3h0m.1-5.9h0m0 18.7h0m.1-9.7h0m0 7.2h0m.2 7.4h0m.3-15.7h0m.2 9.4h0m.1-5.9h0m.1 8.3h0m.2 2.8h0m.1-.2h0m.3-16h0m.2 8.1h0m.4 4.5h0m.4 3.6h0m.2 1.6h0m5.4-4.5h0m6.2-4.4h0m.3 2.1h0m6.4-.5h0m12.8-1.7h0m15.1-.1h0m0 3.3h0m3.3 7.9h0m.7-4h0m2.5-6.6h0m1.7-4.3h0m91.2 11.4h0m.8-4.6h0m35.5 3.3h0"/></defs><use href="#q83" stroke="#8a8a8a" stroke-width="2.5"/><use href="#q83" stroke="#cccccc" stroke-width="1.75"/><defs><path id="q84" d="m399.9 760.1h0m.2-2.4h0m.1 9.3h0m.3 0h0m0-8.5h0m.2 19.2h0m0-4.7h0m.2-14.5h0m0 19.9h0m.5-2.5h0m.1-11h0m.1-4.4h0m0 11.5h0m.1-3.7h0m.1-3.3h0m.2 5.2h0m.4 .6h0m.2 2.6h0m0 4.4h0m.2-14.9h0m.1 7.2h0m.1-7.1h0m.1 6h0m.1 7.3h0m.1-.8h0m.1-50.8h0m.2 39.6h0m.2 9.7h0m.1-3.5h0m.1 7.8h0m.3-5.1h0m.2-15.9h0m.1 3h0m.1 1.1h0m0 10.7h0m.2-1.5h0m.1-18.6h0m0 17.3h0m.3 7.4h0m.1 1h0m0-16.6h0m.1-.3h0m.3 9.5h0m.1 2.7h0m.2-1.8h0m.1-6.5h0m.2 7.5h0m0-3.2h0m0-3.8h0m.1 5.7h0m0-2.9h0m.2 2.6h0m.2-25.6h0m.3 31.8h0m0-17.8h0m.1 16.6h0m.2-25.3h0m.2 13.7h0m.2 1.5h0m0-6.8h0m.1 6.2h0m0 10.2h0m0-4.3h0m.3 6.9h0m.1-21.6h0m.1 14.1h0m.1 2.1h0m.3 5.9h0m.1-17h0m.2 1.3h0m.1 7.9h0m0-2.3h0m.1-6.9h0m.1 12.2h0m.1-24.6h0m.2 10.8h0m.2 11h0m.2-10.3h0m.2 17.1h0m.2-22.7h0m.1 2h0m.1 6.7h0m0 6.2h0m.4-14.7h0m.1 11.8h0m.1 5.5h0m.2-12.4h0m0-1.7h0m.2 20.6h0m.1-22.6h0m.1 18.9h0m.1-12.1h0m.5 1.3h0m0 5.7h0m.5-6.7h0m.1 3.5h0m0 4.7h0m.2 2.8h0m.2 .7h0m.1-12.9h0m.1 11.1h0m.3-15.2h0m.1 17.7h0m0-9.6h0m.1-4h0m0 .1h0m.1 6.9h0m.1 3.5h0m.1-2.3h0m0-15.8h0m0 6.5h0m.1 9.7h0m.1 7.8h0m.1-27.8h0m.1 20.9h0m.1 .4h0m0-.2h0m.1-8.4h0m.1 2.2h0m.2 4.9h0m.1-13.8h0m.1 6.9h0m.6-16.1h0m.4 30.3h0m.1-7.3h0m.3-3.4h0m0-10.6h0m0 19.9h0m.5-14.1h0m.1-12h0m.1 28h0m.6-26.6h0m0 .8h0m.1 19.7h0m.1-2.9h0m.4 7.8h0m.1-16.6h0m.4 17.5h0m0-9.5h0m.3 7.3h0m0-15h0m.1 15.1h0m.2-22.7h0m.1 18.8h0m.1-8.2h0m0-6.7h0m.1 18.8h0m0-4.1h0m.1-6h0m.1-11.3h0m0-7.5h0m.3-8.9h0m.1 21.4h0m.1 8.8h0m.1-8.5h0m0 10.6h0m0 7.7h0m.1-11.3h0m.1-33.7h0m.1 35h0m.3 9h0m.3-8.7h0m0-4.5h0m.1-9.2h0m0 12.9h0m0-16.4h0m.3 15.8h0m.8-8.2h0m0-9.5h0m.3 .5h0m0 22.7h0m.1-13h0m0 3.8h0m0-2.9h0m.1-13.1h0m0 1.4h0m.1 8.9h0m.1 11.2h0m0 .6h0m0-11.1h0m.2 2.1h0m0-4.6h0m.2-7.8h0m.1 0h0m0 12.1h0m.5 14.7h0m.1-1h0m.2-25.2h0m.2 24.5h0m.1-47.4h0m0 46.8h0m.3-5.2h0m.1-4.9h0m.1 9.9h0m.2 3.5h0m.3-9.6h0m0-7.4h0m.1 3.4h0m.3 10.9h0m.3-9.5h0m0 1.6h0m.8 7.9h0m0-24.9h0m.1 1.3h0m.4 11.5h0m0 5.6h0m.1 1.3h0m.3-6.8h0m.3 4.5h0m.1 .5h0m.2 2.3h0m.1-7.3h0m.1 6.6h0m.2-20.3h0m.1 22.1h0m.2-16.5h0m.5-2.6h0m.1 16.5h0m.4 5.5h0m0-.4h0m1.3-5.6h0m0-3.3h0m.2 7h0m.1-5.1h0m.3-2.6h0m0 .1h0m0-11.9h0m0 6.5h0m.1 12.4h0m.1-24.1h0m.8 9.5h0m.5 1.2h0m.7 .1h0m.5-1.8h0m.2 14.8h0m.2-13.5h0m0 11.6h0m.5-13.1h0m.1-.3h0m.5 12.9h0m0-8.3h0m.2 2.3h0m.1-.5h0m0 4.9h0m.2-8.6h0m.1-1h0m.2 14.6h0m0-8.5h0m0 6.4h0m.7 .2h0m.1-8.4h0m.2-3.2h0m.1 12.2h0m.2-6.8h0m.1 7.8h0m.2-4h0m.2 3.2h0m0-3.6h0m.4 1.7h0m.5-4.7h0m5.7-3.8h0m.6-1.6h0m1.1 9.8h0m1.5 2h0m.2-13h0m7.8 10.4h0m4-7h0m24.1 10.9h0m2.1-6.1h0m.3 2.9h0m25.6 9.3h0m8.4-7.6h0m1.7-5.7h0m36.5-3.6h0m32.8 4.7h0"/></defs><use href="#q84" stroke="#8a8a8a" stroke-width="2.5"/><use href="#q84" stroke="#cccccc" stroke-width="1.75"/><defs><path id="q85" d="m399.9 776.9h0m.3-15.2h0m.2-.1h0m.3 13.6h0m.3-1h0m.1-6.6h0m.3 9.2h0m.7-25.6h0m.3 8.3h0m.1 11.9h0m0-.2h0m.4-5.8h0m.1 3.5h0m.4 .6h0m0 8.9h0m0-11.5h0m.1-13.6h0m0-1.1h0m0 2.1h0m.2 8.2h0m.4-1.7h0m.2-4h0m0 18.9h0m0-5.6h0m0-10.4h0m0-3.7h0m.1 15.9h0m.1-2.1h0m.3-.7h0m.1 .7h0m0-8.4h0m.1 11.6h0m.2 3.4h0m0-16.9h0m.1 7h0m0 10.8h0m.7-10.4h0m.1-3.6h0m.1 6.4h0m.3-14.1h0m0-.6h0m0 17.3h0m0-16.9h0m.4 12.3h0m0-2.3h0m.1 4.8h0m.1 1.2h0m.3-.2h0m.2 4.3h0m.2-22.2h0m.1 19.1h0m0-2.4h0m0 2.2h0m.2-14.8h0m.1 3.8h0m.2 12.1h0m0-6.1h0m.1-10.9h0m.1 10.5h0m.1-15.7h0m0 17.4h0m.2-3.8h0m.1 9h0m.3-.7h0m.2-14.8h0m.2 11.9h0m.2-3.6h0m.1 8.2h0m.1-.1h0m0-4.4h0m.1-3.5h0m.1-67h0m.1 62.4h0m0-.5h0m.1-8.3h0m.3 22.6h0m0-9.6h0m0-10.5h0m.1 14.2h0m.1-2.5h0m.3-4.4h0m0 11.1h0m.2-11h0m.1 15.5h0m0-1.6h0m.3-.3h0m0-11.8h0m.2 1.6h0m.1-8.2h0m.1-8.6h0m0 17.1h0m0-10.6h0m.3 16.9h0m0-10.6h0m.1-.6h0m0 14.9h0m.9-17.9h0m.1 17h0m0-10.2h0m0 3.6h0m.1-6.2h0m.2 6.3h0m0 7.4h0m.2-2.3h0m0-19.4h0m.2-7h0m0 26.1h0m.1-.1h0m0-24.8h0m.2 8.3h0m0 5.1h0m.1 5.4h0m0-3.5h0m0 10.5h0m.2-23.1h0m.4 19.4h0m.1-15.1h0m.2 17.9h0m.1-13.3h0m0 7.6h0m.1-5.7h0m0-13.3h0m.3 27h0m.1-7.6h0m.3 5.2h0m0-18.8h0m.3 20.9h0m.2-13.6h0m.2-3.1h0m.2 .9h0m.3-9.9h0m.1 19.2h0m.1 .1h0m.2-16.2h0m.2 19.1h0m0-2h0m.2-12.2h0m.1 7.1h0m.2-10.3h0m0 22.5h0m.5-5.6h0m0-14.5h0m.1 11.8h0m.5 5.6h0m0-16.4h0m.1 1.8h0m.4 7.8h0m.2-13.2h0m.2 .7h0m0 3.5h0m.4 18.1h0m.3-13.5h0m.2 2h0m.1-16.6h0m.3 10.9h0m0 3.9h0m.1 10.5h0m.6-32h0m.1 14.4h0m.2 14.4h0m.1-12.4h0m0-9.3h0m0 22.9h0m.1-14h0m.3 13.7h0m.1 3h0m0-5.9h0m0-13.3h0m0 14.2h0m.7-9.6h0m.2 4.5h0m.1-16.7h0m0 10.4h0m0 5.3h0m.2-8h0m.1 12.3h0m.1-10.6h0m.3-.2h0m.1-3.7h0m.1-3.8h0m0 18.2h0m0 4.2h0m0-25.2h0m.1 20.5h0m.1-33.8h0m.2 39.7h0m0-9.5h0m.3 .1h0m.1-6h0m.3 5.2h0m.1 9.2h0m.1-1.3h0m.6-39.4h0m.3 39.2h0m0-10.8h0m.3-.1h0m.1-6.5h0m0-2.6h0m.5 17.1h0m0-21.5h0m.1 26.7h0m0-25.9h0m.2 13.1h0m.8-2.7h0m0 3.4h0m.5-14.6h0m.1 20.4h0m0-8.8h0m.1-5.5h0m.1 4.3h0m.4-8.1h0m.1 17.3h0m.1 0h0m.2-21.7h0m.1 21.6h0m0-10.4h0m.2 14.3h0m.1-20.4h0m.1-2.9h0m.2 10.1h0m.2-5h0m.1-2h0m.1-2.6h0m.2-7h0m0 28.5h0m.2-14.3h0m0 6.5h0m.2-17.3h0m.3 16.7h0m.1-1.2h0m.7 1.5h0m.6-6.9h0m.2-4.6h0m.3 20.1h0m.2-13h0m.2 5h0m.2 6.3h0m.4-6.7h0m0 8.9h0m.1-8.9h0m.3-12.8h0m0 22.5h0m.2-17.6h0m0 11.9h0m.6 .3h0m.3-1.4h0m.3-26.5h0m0 25.6h0m.3-4.1h0m.8 7h0m.3 5.1h0m.9-8.7h0m.2 7.9h0m.7-5.6h0m1.3-7.1h0m2.6 7.2h0m.2 .7h0m.5-14.1h0m1.6 11.8h0m.7-2h0m6.4 10h0m5.4-38.1h0m18.9 39h0m.7-3.5h0m3.1-14.2h0m4 17.3h0m4.5-7.2h0m2.6 2.5h0m24.5 2.2h0m45.2 4.7h0m18.9-11.2h0m13.4 .8h0m2.7 .7h0m7.1 10.7h0m13.7-14.7h0"/></defs><use href="#q85" stroke="#8a8a8a" stroke-width="2.5"/><use href="#q85" stroke="#cccccc" stroke-width="1.75"/><defs><path id="q86" d="m399.9 756.2h0m.1 19.2h0m.5-15.4h0m0 7.9h0m.2-23.1h0m.1 20.2h0m.3 5.7h0m0-17.6h0m.1 13.5h0m0 3h0m.1-6.1h0m0 11.1h0m.1-21.6h0m.3 25.8h0m.4-1.4h0m.1-17.8h0m.2 2h0m.2 13.7h0m.1-10.5h0m0 2.6h0m.1-9.2h0m0 6.6h0m.1-5.5h0m.1 10.4h0m0 .5h0m.5 6.9h0m.2-15.6h0m.1 2.3h0m0-2.7h0m.1 2h0m.1 14.9h0m.2-26.8h0m.1 7.4h0m.1 1.8h0m.1-9.5h0m0 11.2h0m.6-9.4h0m.4 19.7h0m0-2.9h0m.1-9.7h0m0 .6h0m.1 6h0m0 2.3h0m.2-1.2h0m0-4.2h0m.1 6.3h0m0-1.8h0m.1-.7h0m.1-1.2h0m.2 .5h0m0-7.4h0m0 5.8h0m.1 3.1h0m0-9.6h0m0 17.7h0m.1-4.7h0m.1 5.3h0m0-4.1h0m.2-4.1h0m.1-5.3h0m0-10.4h0m0 24.8h0m.2-56.1h0m0 46.6h0m.2-10.4h0m.1 3.4h0m.6 7.7h0m.3-10.4h0m.1-2.2h0m.3 9.1h0m.1-14.1h0m.1 17.1h0m.3 10.3h0m.2-9.9h0m.1-1.2h0m.1-5.8h0m.1 8.2h0m.1 2.4h0m.4-56.4h0m0 52.9h0m0 5.3h0m0-.5h0m.1-1h0m.1 5.2h0m.3-15.4h0m.3-9.2h0m.2 13.2h0m.2 10h0m.2-1.9h0m0-3.5h0m.1 6.3h0m.1-19.9h0m.3 14.4h0m0-20h0m.2 14h0m0 7.6h0m.1 2.1h0m.1 2.1h0m.5-7.4h0m.2-11.3h0m0 6.2h0m0-2.4h0m.1-5.7h0m.2 19.5h0m.1-2.5h0m.2-17.4h0m0 17.2h0m.4-18.9h0m.6 23.9h0m.1-15.8h0m.1-10.3h0m.5 18.2h0m.1-9.8h0m.2 17.1h0m.1-26.6h0m.2 13.7h0m0-16.5h0m.3 12h0m0 18.2h0m.2-19.6h0m.2 8h0m.3-16.2h0m.2 24.7h0m.2-12h0m.4-2.1h0m.1 1.8h0m.1 13.5h0m0-.9h0m0-1.5h0m.3-19.3h0m0 8.8h0m.1-3.5h0m0-11h0m.1 14.6h0m.1-3.5h0m.2 11.3h0m.2-.8h0m.1-8.7h0m.1-5.1h0m0 7.4h0m.3-.7h0m0 12.7h0m.6-18.5h0m.1 6.8h0m.2 2.3h0m.1-7.1h0m.1-2.8h0m.2 8.4h0m.5 7.5h0m.5-6.7h0m.1-6.7h0m0 13.4h0m0 1.7h0m0-13.3h0m0 13.5h0m.4-20.5h0m0 13.5h0m.1-10.8h0m0-.5h0m.3 19.5h0m.1-12.4h0m.1 13.2h0m.1-11.4h0m.2-16.5h0m0 7h0m.1 4.3h0m.1 2.8h0m.2-6.2h0m.1 13.2h0m0-7.8h0m.2 6.2h0m0-9.8h0m.1 8.9h0m.2 2.4h0m0-2h0m0-14.9h0m.3 15.5h0m.1-13h0m.1 17h0m.1 2h0m.5-9.1h0m0-4.4h0m.2 7.9h0m.1-15.3h0m.1-6.3h0m.4 21.3h0m.1-9.6h0m.1 7.1h0m.4 8.8h0m.1-11.3h0m.2-12.5h0m.1 6.2h0m.3 6.3h0m.3 9.6h0m.1-16.1h0m0-11.7h0m.6 15.3h0m.1 12.1h0m.2 .8h0m0-17.2h0m.2 14.5h0m.2 2.8h0m.1-20.6h0m.1 14.8h0m.2-13h0m0 .7h0m.3 3.4h0m0 2.1h0m0-9.3h0m.1 15.9h0m.1-5.6h0m.5-14.8h0m.2 1.8h0m.1 24h0m.3-22.1h0m0 14.3h0m.1-16.7h0m.2 3h0m0 6.7h0m.6 12.2h0m0 2.8h0m.1-23.3h0m0 11.3h0m.1 3.6h0m0-20.7h0m.2 20.4h0m.1 5.7h0m.6-2.9h0m.5-.5h0m.4 3.4h0m.3-7.7h0m.2-8h0m.2 14.1h0m0-14.2h0m.1-12.4h0m.3 27.6h0m0-5.6h0m.2 .9h0m.1-1h0m.1 2.4h0m.6-5.2h0m.2 1.5h0m.6 5.6h0m.1-8.9h0m.5 9.2h0m0-11h0m.1-.7h0m.2 9h0m.5 4h0m0-.1h0m.8-15.3h0m.3 14.1h0m2.8-27h0m.7-6.1h0m6 33h0m.8-9.6h0m2.5-18.7h0m.1 12h0m6 7.5h0m9.3 3.3h0m.7 4h0m4.9 .4h0m1.6-1.8h0m4.2-4.4h0m3.6-2.9h0m2.4 12.5h0m4.5 5.4h0m2.4-19.3h0m35.4-19h0m11.1 22.3h0m4.9 8.9h0m7.2 6.4h0m10.8-8.3h0m32.1-2.9h0m8.3 7.6h0m41.7-2.4h0"/></defs><use href="#q86" stroke="#8a8a8a" stroke-width="2.5"/><use href="#q86" stroke="#cccccc" stroke-width="1.75"/><defs><path id="q87" d="m399.9 776.5h0m.4-2.3h0m.2 1.9h0m0 1.5h0m.2-25.3h0m0 21.6h0m0-7.9h0m.2 2.2h0m.1-12.6h0m.1 1.1h0m0 13.6h0m.3-5.9h0m.1-.1h0m.3-6.1h0m.5-5.3h0m0 19.5h0m.5-14.6h0m.1 20.3h0m.5-10.9h0m.5-5.8h0m.1 3.8h0m.1 10.3h0m.2-16.6h0m.1 17.9h0m0-6.7h0m0 7.9h0m.1-16h0m0-4.9h0m.1 14.2h0m.1-17.3h0m0 13.6h0m0 3.4h0m0 1.9h0m.1 3.9h0m.1-2h0m.2-9.4h0m0-9.9h0m.1 6.5h0m0 2.8h0m0 .7h0m.2 2.1h0m0-18h0m.3 21.9h0m.1-10.4h0m.1 14.4h0m.1-4.5h0m.1-8.7h0m.1-3.5h0m.1-8.6h0m0 27.9h0m.1-.1h0m.2-38.8h0m.2 33.3h0m.1-6.3h0m.1 1.8h0m0-8.3h0m0 10.3h0m0 5.1h0m.3-16h0m.2 6.5h0m.2-7.5h0m.2 6.1h0m0 1.4h0m.5-6.3h0m.3 12.3h0m0 5.1h0m.5-25.6h0m0 7.1h0m.1 13.5h0m0 2.4h0m.2-23.3h0m.1 23.7h0m.3-.1h0m.1-18.6h0m.1 8.2h0m.3-6.6h0m0 20.6h0m.1-9h0m0 8.5h0m.1-23h0m.1-1.9h0m0 9.9h0m.1 9.8h0m.1-14.5h0m0-4.5h0m.4 10.6h0m.1 1.4h0m0-5.7h0m.1 6.9h0m.1-1.7h0m.1-.5h0m.1 7.4h0m.1 .5h0m.1-7.4h0m.1 4.2h0m.1 2.2h0m.2-2.4h0m0-.5h0m0 4.4h0m.1-1.7h0m.5 2.4h0m.1-3.2h0m0 4.3h0m.1-22.1h0m.1 12.1h0m.2 6.8h0m.1-6.7h0m.1 9.3h0m.2 1.5h0m.1-21.8h0m.1 5.4h0m.2-4.1h0m.3 16.5h0m.2-12.9h0m0-1.6h0m0 7h0m.2-2.5h0m.2-8h0m.1 18.2h0m0-6.8h0m.2 11.6h0m.1-22.5h0m.2 8.8h0m0 2.3h0m.1 12.5h0m.2-18.6h0m0 11h0m.4-7.9h0m.1 7.8h0m.3 6.8h0m.4 .4h0m.2-25.6h0m0 27.3h0m.6-16.9h0m0 14.4h0m.1-22.2h0m.2 9.8h0m.1-12.3h0m.5 13.5h0m.1 1h0m.1-17.8h0m.5 21.8h0m0-8.1h0m.2 12.3h0m0-8.7h0m.1-8.5h0m.1 15.8h0m.3-4.1h0m0-17.1h0m.1 21.8h0m.2 4.1h0m.3-10.1h0m.1-10.1h0m0 13.7h0m0 1.7h0m0 3.7h0m.1-7.2h0m.2 6.8h0m0-19.7h0m.1 13.2h0m.1-7.6h0m.4-11.3h0m.3 4.8h0m.2 10.4h0m.1 2.3h0m.2-16.2h0m.2 22.1h0m.1-7.5h0m0-13h0m.2 1.8h0m.1-4.1h0m.1 18.4h0m.2 1.4h0m0 4.9h0m.1-5.4h0m.2 5.3h0m.1-12.7h0m.1-2.2h0m.2 10.7h0m.2 .9h0m0-24.1h0m0 27.1h0m.1-9.8h0m0-4.5h0m.2 5.9h0m.1-3.4h0m.1-5.2h0m.3 9.9h0m.1-6h0m0-1.9h0m0-10.2h0m.1 3.6h0m0 1.9h0m.2 10.4h0m0 9.8h0m0-18.5h0m.1 14.6h0m.2-8h0m0 7.7h0m0-19.6h0m.1 4.1h0m.1 17.2h0m.1-5.8h0m.2-7.8h0m.1-6.2h0m.2 17h0m.4-3.5h0m.1-3.8h0m.2-9.9h0m0 4.7h0m.2 2.5h0m.1-10.7h0m0 22.3h0m.1-4.1h0m.2-1.9h0m.1-4.5h0m.1-10h0m0 3.9h0m.1 2.5h0m0 9.6h0m.1-.6h0m.4-6.6h0m.2 3.6h0m.9-17.7h0m.2 16.9h0m.1 8.4h0m0-1.7h0m.3-8.9h0m.7 2.8h0m.6-.3h0m.2-2.1h0m.1 8.4h0m.1-14.8h0m.2-6h0m1 2.5h0m.5 2.6h0m0-5h0m0 2h0m.4-5h0m.2 11.1h0m0 3.3h0m.2-11.1h0m0 11.4h0m.3 8.5h0m0-4.9h0m.2-14h0m.2 13.7h0m.3 3h0m.1 2.8h0m0-7.8h0m.2 1.6h0m.9 3.8h0m.3-28.8h0m.3 14h0m.4 7.5h0m0 2.2h0m.4 8h0m.4-7.5h0m.2 2.9h0m9.8-2.6h0m1.5-1.4h0m.1 7.6h0m6.4-2.8h0m17.2 6.4h0m1.6-3.6h0m6-5.8h0m5.9 6.5h0m28.2-2.6h0m12.4-3.8h0m3.2 3h0m17.4 3.2h0m36.7-2.2h0m43.4-2.1h0m17.1-7.6h0m8 3h0"/></defs><use href="#q87" stroke="#8a8a8a" stroke-width="2.5"/><use href="#q87" stroke="#cccccc" stroke-width="1.75"/><defs><path id="q88" d="m400.2 766.8h0m.2 8.2h0m0 2.2h0m.2-19.2h0m.1 19.4h0m0-35.7h0m0 28h0m.2-11.8h0m.6 15.9h0m.1-8.9h0m0-6.4h0m.1-3.4h0m.5 16.3h0m.1-33.1h0m.3 16.8h0m.1 7h0m.1 9.1h0m.1-12.9h0m.1 9.9h0m.1 2h0m0-1.6h0m.5-8.4h0m.2-5.1h0m.2 16.6h0m.3-15.4h0m0 12.1h0m.1 7.6h0m.2-14.6h0m.1-2.9h0m.1 14.1h0m.2-4.3h0m0-8h0m.3-.7h0m0 3.6h0m.1 6h0m.1-11.8h0m.1 5.5h0m.2 7.4h0m.1-6.1h0m0-7.7h0m0-5.4h0m.1 6.1h0m0 .5h0m0 18.1h0m.1-13.6h0m.1 4.9h0m.1-12.4h0m.1 20.3h0m.1-13.1h0m0 16.1h0m.1-10.8h0m0 2h0m.1-17.2h0m0 20.4h0m.1-3.9h0m.1-2.2h0m.1 5.8h0m.1-6.1h0m.3-5.5h0m.1 17.3h0m.2 .9h0m.1-15.4h0m0 7.2h0m.1-11.6h0m.7 1.3h0m0-3.5h0m.1 20h0m.1-15.3h0m0-5.8h0m.1 10.1h0m0 2.1h0m.2-4.7h0m.2-12.4h0m0 25.4h0m.1-3.3h0m0 1.3h0m.2 2.5h0m.4-.5h0m.1-.6h0m0-13.9h0m.3 7.7h0m.1-4.3h0m.1-7.1h0m.3 11.9h0m.3-17.9h0m0 10.3h0m0 14.5h0m.1-24.5h0m0 7.6h0m.3-10.6h0m.1 12.5h0m0-1.2h0m.4-5.3h0m.1 15.8h0m0-.1h0m.4-15.2h0m0 0h0m0-1.4h0m.1 8.2h0m.2-3.8h0m.2 10.6h0m.2-17.4h0m.1 6h0m.1 5.5h0m.3 12.2h0m.3-16.5h0m.1-.3h0m.3 5.9h0m.1 6.1h0m0-6.6h0m0-.7h0m.2 6.5h0m.2 .9h0m.1-15.2h0m0 16h0m.1-8.2h0m.3 1.3h0m.2 12.2h0m.1-13.8h0m0 6.3h0m0 1.9h0m.3-7.3h0m.1 2.9h0m.2-10.8h0m.1 9.3h0m0 1h0m.3 5.8h0m.1-15.7h0m.1 1.2h0m.1 6.7h0m.1 8.4h0m.1-22.9h0m.1 19.1h0m0-13.2h0m0 16.5h0m.4-3.9h0m.2-3.9h0m.2-8.1h0m.1 8.2h0m.1 2.1h0m.2-11.8h0m.2 23.9h0m0-23.2h0m.1 .7h0m.1 12.4h0m.1-12.7h0m.3-6.3h0m.2 3.9h0m0-11.9h0m.1 14.7h0m.3 7.7h0m0-7.3h0m.1 11.5h0m.1 5.4h0m.1 .1h0m0-18.6h0m.3 6.3h0m0-6.7h0m.3 17.6h0m0-2.1h0m.1-14.1h0m.2 15.4h0m.1-5.8h0m.1-17.9h0m.5 10.3h0m0 6.7h0m.3-1.4h0m.2 13.3h0m.1-27.5h0m0-21.9h0m.3 31.3h0m.3-12.7h0m.1 3.6h0m.1 23.9h0m.5-5.9h0m.2-22.8h0m.5 31.4h0m0-22.2h0m.1 5.3h0m.1 15.6h0m.1-27.2h0m0 21.8h0m.4-2.3h0m0 4.9h0m0-11.3h0m.5 13.9h0m.2-16.9h0m0 16.6h0m.1-6.5h0m.2-1.9h0m0-.7h0m.2-10.8h0m.1 9.2h0m.3-13.9h0m.1 1h0m0 17.7h0m.4-16h0m0 19h0m.2-6.9h0m.1-20.5h0m.1 19.6h0m.1-11.9h0m.1 19.6h0m.1 1.6h0m.1-3.4h0m.1-21.5h0m0 24.8h0m.1-16.5h0m.1-4.7h0m.3-27.1h0m0 26h0m.1 16.2h0m.5-2.5h0m.1-.4h0m.1-16.9h0m0 19.9h0m.1-15.8h0m.3 7.7h0m.2-6.6h0m0 7.9h0m.3-.6h0m.3 2.2h0m0 2.8h0m.3 .3h0m0-1.7h0m0 10.1h0m.1-1.7h0m.2-3.3h0m.1-8.1h0m.2 3.7h0m.6-13.9h0m.1 15.7h0m.1-4.6h0m.2 6.6h0m0-6.4h0m.3 1.3h0m.3-9.4h0m.4 9h0m.1-.5h0m0 1h0m.1-3.3h0m0-12h0m.6 3.3h0m.4 10.9h0m.1-4h0m.3 5h0m.5-1.4h0m.2-8h0m.4 14.2h0m.3-14.9h0m.4 3.7h0m0 .4h0m.5 5.3h0m.2 7.1h0m.7-2h0m.6-13.6h0m.3 15.9h0m0-1.2h0m1.3-21h0m.5 17.5h0m1.7-23.3h0m1.2-10h0m0 35.3h0m4.7-1.7h0m11.1 4h0m10.6 3.1h0m8.4-2.6h0m13.2-1.1h0m11.5 .2h0m33.8-4.4h0m8-3.9h0m12.6 .2h0m49.5 2.9h0m28.9 .7h0m8.1 5.3h0"/></defs><use href="#q88" stroke="#8a8a8a" stroke-width="2.5"/><use href="#q88" stroke="#cccccc" stroke-width="1.75"/><defs><path id="q89" d="m400 757.3h0m0 14.3h0m.2-2.9h0m.5 7.9h0m.1-13.2h0m.4 2.8h0m.2-9.6h0m0 2h0m.1 .3h0m.5 5.7h0m.1 2.9h0m.2 2.7h0m0-10.1h0m.2 10.4h0m.1-6.6h0m.3 2.6h0m0-.8h0m.3 10.4h0m.1-8.1h0m.1-1.5h0m0 8.3h0m.1-7.4h0m.3 2h0m0-17h0m.4 7.4h0m0 15.2h0m.1-6.9h0m.1-7.6h0m.1-3.3h0m.1-5.6h0m.2 6.9h0m.5 12.2h0m0-2.5h0m0-1.7h0m0-6.7h0m.1-4.1h0m.1-4.9h0m.2 7.1h0m.3 5.1h0m.1 2.3h0m.2-5.8h0m0 11.9h0m0 6.8h0m0-20.4h0m.2 9.4h0m.1-14.9h0m.1 16h0m.1-2.8h0m.3-4.5h0m0-5h0m.1 2.2h0m.1-3.7h0m0 14.1h0m.1-14.1h0m.1 8.2h0m.1-2.7h0m0-23.1h0m0 37.1h0m.1-4.7h0m.1 1.3h0m.2-14h0m.1-1.9h0m.3 3h0m0 11.1h0m.7-3.8h0m.2 2.9h0m.2-3.7h0m.1 8.5h0m0-15.7h0m.3 11.3h0m0 3.8h0m.3-14.6h0m.1 18.9h0m.4 1.5h0m0-13.1h0m.5 13h0m.2-1.3h0m0-5.4h0m.2-7.2h0m.1-12.8h0m.1 26.1h0m.6-16.9h0m0-10.6h0m.1 27.8h0m0-1.5h0m.1-8.8h0m0 4.3h0m.1-2.4h0m0 1.9h0m.1-5.1h0m.1-10h0m.4 22.3h0m0-19h0m0 9.7h0m0 7.9h0m.1-20.9h0m.1 11.8h0m.1 2.6h0m.2-12.8h0m.5 15h0m0-18.1h0m.2 13.9h0m.2 .9h0m0-8.6h0m.1 18.3h0m.1-15.6h0m.1 11.7h0m.3-.7h0m0-2.5h0m.1-8h0m0-8.4h0m.1 10.3h0m.3-3.9h0m.2-2.2h0m.2-5.3h0m.1 1.1h0m0 10.2h0m.1 5.2h0m.2 5.4h0m.1 1.5h0m.2-18.9h0m.1 14.1h0m0 6h0m0-20.6h0m.2-3.1h0m.1-4.2h0m.1 21.1h0m.2-.9h0m.1 1.1h0m.1-2.5h0m.2-12.6h0m.1 21h0m0-4.6h0m0 .6h0m.1 1.3h0m.1-23.4h0m0 7.2h0m.9 2.8h0m.1 3.1h0m0-7.7h0m.1 4.3h0m.1 6.2h0m0-13.4h0m0 4.5h0m.7 14.5h0m.2-9.7h0m0-6.8h0m.1 18.5h0m.2-18.6h0m.1 5.9h0m.2 6.7h0m0 .7h0m.2-15.9h0m0-5h0m.3 17.9h0m0 3.7h0m.5 .2h0m0-16.6h0m.1 18.9h0m.1-21.7h0m.1 15.6h0m.1-.6h0m.1-9.2h0m.2 9h0m.1-18h0m.3 18.1h0m.2-16.6h0m.3 6.5h0m.1 19.1h0m.1-29.1h0m0 23.3h0m.1-5h0m.1 2.3h0m.1-7.6h0m.1-4.2h0m.4 2h0m.1 11.5h0m.1-5.5h0m.2-1.7h0m.1-4.1h0m.2 3.1h0m.1 9h0m.2 2.7h0m0-39.8h0m.1 28.2h0m.3-7.3h0m.2 5.5h0m0-2.1h0m0 16.6h0m.1 2.7h0m0-2.7h0m.1-26.2h0m.1 12.4h0m.1 12.4h0m.1-17h0m.1 13.4h0m0 5.9h0m.1-.8h0m.1-3.2h0m.3 1.6h0m.4-5.4h0m.2 2.7h0m.1-17.2h0m0-2h0m0 24.7h0m.1-1.8h0m.2-5.2h0m0-18.5h0m.3 16h0m.1 3.2h0m0-15.1h0m0 8.5h0m.2 8h0m.3 2.1h0m0-19.1h0m.5 11.5h0m.1 .8h0m0-1.8h0m0 8.9h0m.2-3.3h0m.6-3.4h0m.7-2h0m.5-12.6h0m0 3.2h0m.9-4.3h0m.7 13.7h0m.4-3.3h0m.2 0h0m.2 1.2h0m0-8.3h0m.1 9.7h0m.1 2.6h0m.6-5.6h0m.3 7.5h0m.1 3.6h0m.1-13h0m.5-8h0m.6-10.4h0m1.3 24.1h0m.2-3.2h0m0 2.8h0m.3 7.7h0m.1-10h0m.6-1.6h0m.5 4.1h0m.1-5.5h0m.3 1.7h0m.4-.1h0m.1-10h0m.5 17.4h0m.3-4.3h0m.1-31.3h0m1.7 4.4h0m.1 13.1h0m.2 14.8h0m3.3-6.3h0m1.8-1.6h0m2.1-4.5h0m1.2 15.1h0m.4-1.1h0m2.3-.6h0m5.8-2.7h0m2.1 5h0m5.3 1.1h0m6.4-2.4h0m8.2 6.5h0m1.8-1.6h0m.5-3.1h0m6.4 1.8h0m38.7-11.1h0m10.7 5.1h0m5.5 4.7h0m8.1 .3h0m26-3.1h0m64.9 6h0m13.6-15.4h0"/></defs><use href="#q89" stroke="#8a8a8a" stroke-width="2.5"/><use href="#q89" stroke="#cccccc" stroke-width="1.75"/></g>
<g class="rd3"><circle cx="419.7" cy="764.8"/><circle cx="429.4" cy="768.4"/><circle cx="430.7" cy="764"/><circle cx="438.4" cy="764.6"/><circle cx="446" cy="764.8"/><circle cx="449" cy="764.8"/><circle cx="461.6" cy="765.3"/><circle cx="461.8" cy="766.5"/><circle cx="476.2" cy="765"/><circle cx="407" cy="774.3"/><circle cx="428" cy="769.5"/><circle cx="431.5" cy="767"/><circle cx="433" cy="766"/><circle cx="435.5" cy="768.5"/><circle cx="441" cy="764"/></g>
<g fill="none" stroke-linecap="round"><defs><path id="q90" d="m508.1 778.6h0m.2-.2h0m8.5 0h0m5.3 0h0m1.8-.1h0m.1 .2h0m2 0h0m1.5-.2h0m2.8-.1h0m.2 .1h0m1-.2h0m.9 .1h0m5 .1h0m2.4 .4h0m.1 0h0m1.4-.6h0m3.6 .1h0m3.6 0h0m.1 .4h0m.8 0h0m3.4-.6h0m1.6 .4h0m1.7 0h0m2.1-.1h0m4.1 .1h0m5.9-.3h0m.6 0h0m1.7 .3h0m1.4-2.4h0m.9 2.4h0m2.9 .4h0m.2-1h0m.1 .2h0m1.9 .5h0m1 0h0m0-.2h0m2.4 .1h0m1.6 0h0m1.6-.1h0m.5 .4h0m.9-.2h0m1.7 .2h0m.9 0h0m4.2-.4h0m.2-.2h0m.9 .5h0m.7-.5h0m.7 .3h0m.2-.3h0m2.6 .3h0m.6-.1h0m1.8-.1h0m2.4 .6h0m.5-.5h0m.2 0h0m.7-.2h0m1 .5h0m1.3-.2h0m.4 .1h0m1.8-.2h0m.2 .1h0m1.4-.1h0m1.1-.1h0m1.7-.2h0m1.2 .4h0m.5-.4h0m.1 .3h0m.1 .7h0m3.3-.4h0m.1-.4h0m3.3 .1h0m.6-.3h0m.1 .3h0m1.6 .3h0m.3-.6h0m2.6 .5h0m.8-.5h0m1.5 .4h0m1.7 0h0m1.7 .3h0m5.4-.4h0m1.4 .3h0m.7-.3h0m.6 .2h0m.1-.1h0m.7-.4h0m.1 .5h0m1.7 .1h0m3.5 .1h0m.5-.2h0m1.1-.4h0m6.8 .4h0m2-.3h0m0 .3h0"/></defs><use href="#q90" stroke="#4a9a26" stroke-width="2.4"/><use href="#q90" stroke="#62bc34" stroke-width="1.7"/><defs><path id="q91" d="m409.5 778.6h0m102.7-.2h0m16.8-.1h0m.4-.3h0m1 .5h0m1 .4h0m.7-.3h0m1.3-.3h0m.5 .1h0m.2-.1h0m1.4-.1h0m5.3-.1h0m1 .5h0m3.6 0h0m1.2-.4h0m1.7-.1h0m1.5 .6h0m2.1-.2h0m3.3 .2h0m.2-.4h0m.7-.2h0m1.1 .3h0m0 0h0m5.2 .2h0m1-.2h0m1.1 .3h0m0-.2h0m3.3-.3h0m1.1-2.6h0m.5 3.2h0m.1-.7h0m.7 .4h0m2.6 .1h0m.8-.4h0m1.1-.1h0m.2 .4h0m1.8-.1h0m0-.3h0m.9 .3h0m.5-3.3h0m4 3.3h0m1-.1h0m.4-.1h0m.6 .4h0m.3 .2h0m0 0h0m4.1-.5h0m.1-.2h0m2.6 .4h0m0 0h0m.9 .1h0m.7-.7h0m4.3 .9h0m.3-.6h0m1.6 .6h0m.3-.2h0m1 .1h0m3 .4h0m1.2-.7h0m1.6-.2h0m1 .4h0m2.6-.3h0m.1 .8h0m1-.8h0m1.3 0h0m1 .5h0m.4-.5h0m.5-.1h0m.8 0h0m2.5 .3h0m.7-.2h0m2.5 .1h0m.5 .5h0m1.5-.3h0m1-.4h0m3.1 0h0m.5 .2h0m.9 0h0m.7 .5h0m1.4 0h0m1.6-.3h0m.1-.2h0m1.3 0h0m.3-.5h0m.8 .9h0m.6-.3h0m.2 .3h0m1.8-.6h0m.4-.1h0m1.9 .7h0m1.6-.2h0m4.1-.5h0m.6 .7h0m5.3-.9h0m3.5 .8h0"/></defs><use href="#q91" stroke="#4a9a26" stroke-width="2.4"/><use href="#q91" stroke="#62bc34" stroke-width="1.7"/><defs><path id="q92" d="m505.3 778.4h0m18.1-.1h0m2.5 .1h0m1.8-.1h0m1.2-.1h0m.7 0h0m3.5 .3h0m6.3-.4h0m1.6 .7h0m.4-.4h0m1.7-.2h0m.2 .1h0m1.4 0h0m1.8-.2h0m.7 .4h0m.6-.3h0m.8 .3h0m0 0h0m3.6 .3h0m1.3-.9h0m1.7 .6h0m1.2 .2h0m1.4-.5h0m.1 .5h0m1.2 0h0m.9 .4h0m.1-.8h0m.2-.1h0m2.2-.1h0m2.7 .5h0m0-.2h0m.9 0h0m.2 .5h0m.8-.6h0m.9 .8h0m1.3-.7h0m.1 0h0m1.7 .1h0m1.2-.3h0m3.6-.2h0m3.7 .1h0m1.9-.2h0m.1 .9h0m.6-.3h0m2.6-.1h0m.6 .2h0m.5-.2h0m.2-.1h0m.8 .1h0m1.5 .2h0m.2-.2h0m.4 0h0m.2-.3h0m.6 .3h0m1.1-.8h0m2.2 .6h0m1.5 .7h0m.8-.3h0m.5-.7h0m.9 .4h0m.8 0h0m.1 .5h0m.3-.4h0m.5-.1h0m1.1 .3h0m1.8-.2h0m3.4 .1h0m1.2-.6h0m.2 .1h0m.4 1.1h0m1.7-.6h0m1 .2h0m1.3-.8h0m.1 .4h0m.6 .4h0m3.1-.1h0m2.4 .5h0m2.5-.8h0m.4 .2h0m.1 0h0m1.8-.4h0m.2 .5h0m1.6-.1h0m.1-.1h0m.7 .1h0m4.6 .4h0m1.4-.6h0m2.6 .5h0m1.5-.6h0m2.3 .2h0m11.9-.2h0m2.3 .5h0m1.4 0h0m3.5-.7h0m2 .3h0"/></defs><use href="#q92" stroke="#4a9a26" stroke-width="2.4"/><use href="#q92" stroke="#62bc34" stroke-width="1.7"/></g>
<g class="bl"><circle cx="433.8" cy="757.9" r="1.3"/><circle cx="558" cy="776.6" r="1.3"/></g>
<path d="M443.7 626.6V785.5" stroke="#444" stroke-width="1.1" stroke-dasharray="1 0.8" fill="none"/>
<path d="M452.7 626.6V785.5" stroke="#333" stroke-width="0.9" fill="none"/>
<path d="M390 771.2H671" stroke="#999" stroke-width="2.2" fill="none"/>
<path d="M390 769.7H671" stroke="#222" stroke-width="0.8" stroke-dasharray="1.2 0.8" fill="none"/>
<text transform="translate(439.1 659.0) rotate(-90)" font-size="5.4" text-anchor="middle" fill="#222" textLength="53" lengthAdjust="spacingAndGlyphs">AVG([X])+(2*STD([X]))</text>
<text transform="translate(459.8 659.0) rotate(-90)" font-size="5.4" text-anchor="middle" fill="#222" textLength="53" lengthAdjust="spacingAndGlyphs">AVG([X])+(3*STD([X]))</text>
<text x="614.0" y="765.8" font-size="4.8" fill="#222" textLength="51.3" lengthAdjust="spacingAndGlyphs">AVG([Y])-(3*STD([Y]))</text>
<text x="614.0" y="777.4" font-size="4.8" fill="#222" textLength="51.3" lengthAdjust="spacingAndGlyphs">AVG([Y])-(2*STD([Y]))</text>
<rect x="405.9" y="746.7" width="25.6" height="8.2" fill="#fff" stroke="#c8c8c8" stroke-width="0.7"/>
<text x="418.7" y="752.9" font-size="6" fill="#222" text-anchor="middle" textLength="20.1" lengthAdjust="spacingAndGlyphs">EBSELEN</text>
<rect x="482.6" y="765.9" width="73.9" height="8.1" fill="#fff" stroke="#c8c8c8" stroke-width="0.7"/>
<text x="519.5" y="772.1" font-size="6" fill="#222" text-anchor="middle" textLength="68.4" lengthAdjust="spacingAndGlyphs">RepSox;E-616452;SJN 2511</text>
<circle cx="590.5" cy="635.5" r="3.8" fill="#4fd06c"/>
<text x="598.1" y="638.6" font-size="9" fill="#1a1a1a" font-weight="bold" textLength="17.3" lengthAdjust="spacingAndGlyphs">-DOX</text>
<circle cx="590.5" cy="647.8" r="3.8" fill="#e0454c"/>
<text x="598.1" y="650.9" font-size="9" fill="#1a1a1a" font-weight="bold" textLength="18.2" lengthAdjust="spacingAndGlyphs">+DOX</text>
<circle cx="590.5" cy="660" r="3.8" fill="#a9a9a9"/>
<text x="598.1" y="663.1" font-size="9" fill="#1a1a1a" font-weight="bold" textLength="63.9" lengthAdjust="spacingAndGlyphs">+DOX + compound</text>
<text transform="translate(359.5 704.3) rotate(-90)" font-size="12.4" text-anchor="middle" fill="#222" textLength="83.8" lengthAdjust="spacingAndGlyphs">Firefly luciferase</text>
<text x="474.6" y="811.8" font-size="12.4" fill="#111" textLength="86.4" lengthAdjust="spacingAndGlyphs"><tspan font-style="italic">Renilla</tspan> luciferase</text>
</g>
<g id="venn">
<text x="17.4" y="842.0" font-size="12" textLength="10.2" lengthAdjust="spacingAndGlyphs">G.</text>
<ellipse cx="122.5" cy="902" rx="88.8" ry="59.4" fill="url(#vg)" stroke="#0c0c0c" stroke-width="1.6"/>
<path d="M42.2 904.0C42.7 894.0 45.7 885.0 51.2 877.0" fill="none" stroke="#fff" stroke-width="3.6" stroke-linecap="round" opacity="0.85" filter="url(#vb)"/>
<ellipse cx="240.3" cy="902" rx="88.8" ry="59.4" fill="url(#vbl)" stroke="#13203f" stroke-width="1.6"/>
<path d="M320.1 898.0C320.1 910.0 316.1 921.0 309.1 930.0" fill="none" stroke="#fff" stroke-width="3.2" stroke-linecap="round" opacity="0.85" filter="url(#vb)"/>
<path d="M160.0 920.0C157.5 906.0 158.5 890.0 163.5 878.0" fill="none" stroke="#fff" stroke-width="2.4" stroke-linecap="round" opacity="0.7" filter="url(#vb)"/>
<path d="M201.3 916.0C199.3 926.0 194.3 934.0 187.3 941.0" fill="none" stroke="#fff" stroke-width="2.2" stroke-linecap="round" opacity="0.5" filter="url(#vb)"/>
<ellipse cx="122.5" cy="902" rx="88.8" ry="59.4" fill="none" stroke="#0c0c0c" stroke-width="1.6"/>
<text x="107.6" y="875.0" font-size="10.6" text-anchor="middle" fill="#333" font-weight="bold" textLength="61.2" lengthAdjust="spacingAndGlyphs">Fluorescence</text>
<text x="107.6" y="886.1" font-size="8.6" text-anchor="middle" fill="#444" textLength="50.7" lengthAdjust="spacingAndGlyphs">32 unique hits</text>
<text x="77.4" y="911.9" font-size="7.2" text-anchor="middle" fill="#444" textLength="54.4" lengthAdjust="spacingAndGlyphs">Autofluorescence</text>
<text x="107.6" y="938.1" font-size="8.6" text-anchor="middle" fill="#444" textLength="50.7" lengthAdjust="spacingAndGlyphs">10 unique hits</text>
<path d="M105.4 889H110.6V922.800H113.3L108 929.3L102.7 922.800H105.4Z" fill="#333"/>
<text x="183.5" y="890.8" font-size="6.8" text-anchor="middle" fill="#111" font-weight="bold" textLength="48.7" lengthAdjust="spacingAndGlyphs">3 common hits:</text>
<text x="183.4" y="899.9" font-size="6.8" text-anchor="middle" fill="#111" font-weight="bold" textLength="29.8" lengthAdjust="spacingAndGlyphs">A-205804</text>
<text x="183.5" y="909.1" font-size="6.8" text-anchor="middle" fill="#444" textLength="39.0" lengthAdjust="spacingAndGlyphs">BMS-265246</text>
<text x="183.4" y="918.4" font-size="6.8" text-anchor="middle" fill="#111" font-weight="bold" textLength="23.2" lengthAdjust="spacingAndGlyphs">RepSox</text>
<text x="264.8" y="900.8" font-size="10.6" text-anchor="middle" fill="#3b6fb6" font-weight="bold" textLength="66.4" lengthAdjust="spacingAndGlyphs">Luminescence</text>
<text x="264.8" y="912.5" font-size="8.6" text-anchor="middle" fill="#4a7dc0" textLength="46.3" lengthAdjust="spacingAndGlyphs">6 unique hits</text>
<text x="351.2" y="842.0" font-size="12" textLength="10.4" lengthAdjust="spacingAndGlyphs">H.</text>
<ellipse cx="456.6" cy="903.4" rx="89.4" ry="59.3" fill="url(#vg)" stroke="#0c0c0c" stroke-width="1.6"/>
<path d="M375.7 905.4C376.2 895.4 379.2 886.4 384.7 878.4" fill="none" stroke="#fff" stroke-width="3.6" stroke-linecap="round" opacity="0.85" filter="url(#vb)"/>
<ellipse cx="573.7" cy="903.4" rx="89.4" ry="59.3" fill="url(#vbl)" stroke="#13203f" stroke-width="1.6"/>
<path d="M654.1 899.4C654.1 911.4 650.1 922.4 643.1 931.4" fill="none" stroke="#fff" stroke-width="3.2" stroke-linecap="round" opacity="0.85" filter="url(#vb)"/>
<path d="M492.8 921.4C490.3 907.4 491.3 891.4 496.3 879.4" fill="none" stroke="#fff" stroke-width="2.4" stroke-linecap="round" opacity="0.7" filter="url(#vb)"/>
<path d="M536.0 917.4C534.0 927.4 529.0 935.4 522.0 942.4" fill="none" stroke="#fff" stroke-width="2.2" stroke-linecap="round" opacity="0.5" filter="url(#vb)"/>
<ellipse cx="456.6" cy="903.4" rx="89.4" ry="59.3" fill="none" stroke="#0c0c0c" stroke-width="1.6"/>
<text x="441.0" y="874.6" font-size="10.6" text-anchor="middle" fill="#333" font-weight="bold" textLength="61.3" lengthAdjust="spacingAndGlyphs">Fluorescence</text>
<text x="441.0" y="886.2" font-size="8.6" text-anchor="middle" fill="#444" textLength="50.4" lengthAdjust="spacingAndGlyphs">55 unique hits</text>
<text x="410.2" y="912.0" font-size="7.2" text-anchor="middle" fill="#444" textLength="54.3" lengthAdjust="spacingAndGlyphs">Autofluorescence</text>
<text x="441.0" y="938.1" font-size="8.6" text-anchor="middle" fill="#444" textLength="50.4" lengthAdjust="spacingAndGlyphs">27 unique hits</text>
<path d="M438.4 889H443.6V922.800H446.3L441 929.3L435.7 922.800H438.4Z" fill="#333"/>
<text x="516.4" y="886.3" font-size="6.8" text-anchor="middle" fill="#111" font-weight="bold" textLength="49.0" lengthAdjust="spacingAndGlyphs">4 common hits:</text>
<text x="516.0" y="895.3" font-size="6.8" text-anchor="middle" fill="#111" font-weight="bold" textLength="30.0" lengthAdjust="spacingAndGlyphs">A-205804</text>
<text x="516.4" y="904.4" font-size="6.8" text-anchor="middle" fill="#444" textLength="44.2" lengthAdjust="spacingAndGlyphs">Bromosporine</text>
<text x="516.4" y="913.3" font-size="6.8" text-anchor="middle" fill="#444" textLength="12.2" lengthAdjust="spacingAndGlyphs">ID-8</text>
<text x="516.2" y="922.8" font-size="6.8" text-anchor="middle" fill="#111" font-weight="bold" textLength="23.0" lengthAdjust="spacingAndGlyphs">RepSox</text>
<text x="598.0" y="901.0" font-size="10.6" text-anchor="middle" fill="#3b6fb6" font-weight="bold" textLength="66.5" lengthAdjust="spacingAndGlyphs">Luminescence</text>
<text x="598.1" y="912.4" font-size="8.6" text-anchor="middle" fill="#4a7dc0" textLength="51.2" lengthAdjust="spacingAndGlyphs">10 unique hits</text>
</g>
</svg>
</body></html>
